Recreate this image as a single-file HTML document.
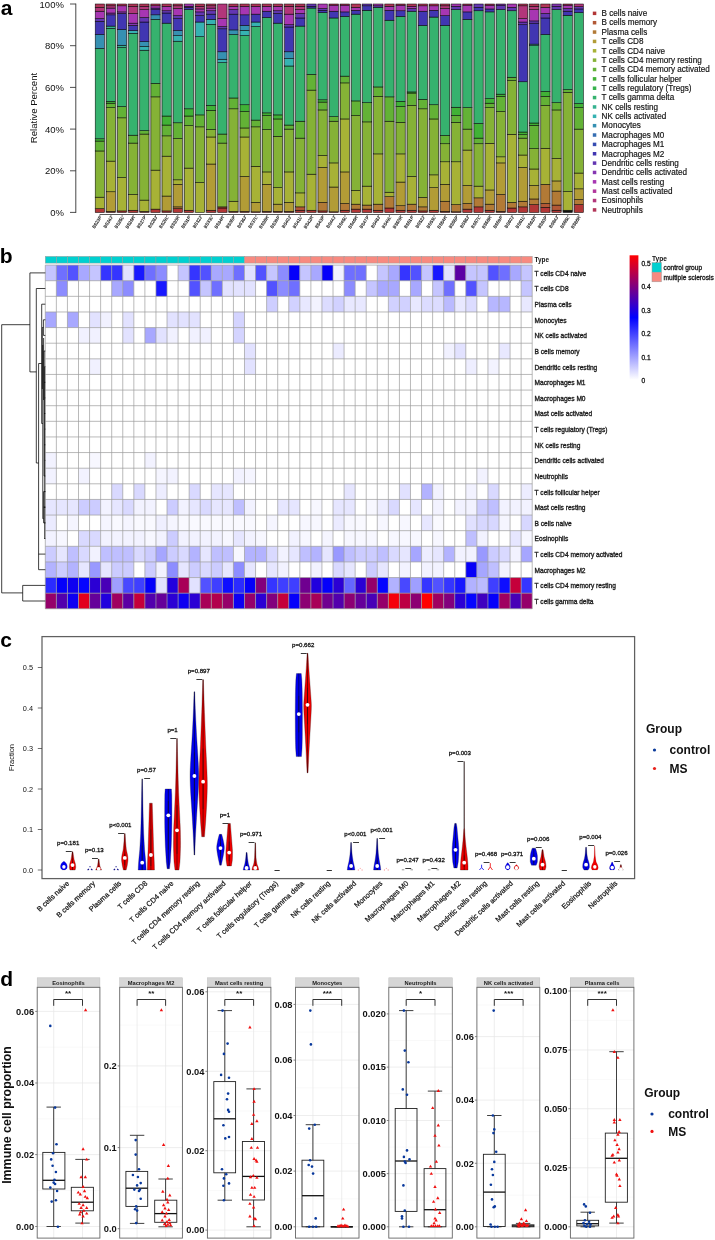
<!DOCTYPE html>
<html lang="en"><head><meta charset="utf-8"><title>Immune cell infiltration figure</title>
<style>html,body{margin:0;padding:0;background:#fff}svg{display:block}</style></head>
<body>
<svg width="715" height="1240" viewBox="0 0 715 1240" font-family="Liberation Sans, sans-serif">
<rect width="715" height="1240" fill="#fff"/>
<g id="pa" font-family="Liberation Sans, sans-serif">
<text x="0.7" y="15.1" font-size="21" font-weight="bold">a</text>
<path d="M75.8 3.6V212.9" stroke="#333" stroke-width="0.9" fill="none"/>
<path d="M70 212.4H75.8" stroke="#222" stroke-width="0.8"/>
<text x="63.9" y="215.9" font-size="9.5" text-anchor="end" fill="#111">0%</text>
<path d="M70 170.8H75.8" stroke="#222" stroke-width="0.8"/>
<text x="63.9" y="174.3" font-size="9.5" text-anchor="end" fill="#111">20%</text>
<path d="M70 129.1H75.8" stroke="#222" stroke-width="0.8"/>
<text x="63.9" y="132.6" font-size="9.5" text-anchor="end" fill="#111">40%</text>
<path d="M70 87.4H75.8" stroke="#222" stroke-width="0.8"/>
<text x="63.9" y="90.9" font-size="9.5" text-anchor="end" fill="#111">60%</text>
<path d="M70 45.7H75.8" stroke="#222" stroke-width="0.8"/>
<text x="63.9" y="49.2" font-size="9.5" text-anchor="end" fill="#111">80%</text>
<path d="M70 4.0H75.8" stroke="#222" stroke-width="0.8"/>
<text x="63.9" y="7.5" font-size="9.5" text-anchor="end" fill="#111">100%</text>
<text transform="translate(36.9,108) rotate(-90)" font-size="9.6" text-anchor="middle" fill="#111">Relative Percent</text>
<rect x="104.60" y="3.8" width="1.54" height="208.9" fill="#c2c2c2"/>
<rect x="95.20" y="208.67" width="9.2" height="3.83" fill="#b23636" stroke="#000" stroke-opacity="0.95" stroke-width="0.55"/>
<rect x="95.20" y="197.17" width="9.2" height="11.50" fill="#a7b236" stroke="#000" stroke-opacity="0.95" stroke-width="0.55"/>
<rect x="95.20" y="150.96" width="9.2" height="46.21" fill="#85b236" stroke="#000" stroke-opacity="0.95" stroke-width="0.55"/>
<rect x="95.20" y="141.05" width="9.2" height="9.92" fill="#63b236" stroke="#000" stroke-opacity="0.95" stroke-width="0.55"/>
<rect x="95.20" y="138.79" width="9.2" height="2.25" fill="#41b236" stroke="#000" stroke-opacity="0.95" stroke-width="0.55"/>
<rect x="95.20" y="48.40" width="9.2" height="90.39" fill="#36b26e" stroke="#000" stroke-opacity="0.95" stroke-width="0.55"/>
<rect x="95.20" y="34.43" width="9.2" height="13.98" fill="#3690b2" stroke="#000" stroke-opacity="0.95" stroke-width="0.55"/>
<rect x="95.20" y="21.36" width="9.2" height="13.07" fill="#4136b2" stroke="#000" stroke-opacity="0.95" stroke-width="0.55"/>
<rect x="95.20" y="18.65" width="9.2" height="2.70" fill="#6336b2" stroke="#000" stroke-opacity="0.95" stroke-width="0.55"/>
<rect x="95.20" y="11.21" width="9.2" height="7.44" fill="#a736b2" stroke="#000" stroke-opacity="0.95" stroke-width="0.55"/>
<rect x="95.20" y="7.38" width="9.2" height="3.83" fill="#b2367a" stroke="#000" stroke-opacity="0.95" stroke-width="0.55"/>
<rect x="95.20" y="4.00" width="9.2" height="3.38" fill="#b23658" stroke="#000" stroke-opacity="0.95" stroke-width="0.55"/>
<rect x="115.74" y="3.8" width="1.54" height="208.9" fill="#c2c2c2"/>
<rect x="106.34" y="211.37" width="9.2" height="1.13" fill="#b23636" stroke="#000" stroke-opacity="0.95" stroke-width="0.55"/>
<rect x="106.34" y="191.76" width="9.2" height="19.61" fill="#b29c36" stroke="#000" stroke-opacity="0.95" stroke-width="0.55"/>
<rect x="106.34" y="161.11" width="9.2" height="30.66" fill="#a7b236" stroke="#000" stroke-opacity="0.95" stroke-width="0.55"/>
<rect x="106.34" y="107.69" width="9.2" height="53.42" fill="#85b236" stroke="#000" stroke-opacity="0.95" stroke-width="0.55"/>
<rect x="106.34" y="103.18" width="9.2" height="4.51" fill="#63b236" stroke="#000" stroke-opacity="0.95" stroke-width="0.55"/>
<rect x="106.34" y="101.38" width="9.2" height="1.80" fill="#41b236" stroke="#000" stroke-opacity="0.95" stroke-width="0.55"/>
<rect x="106.34" y="28.34" width="9.2" height="73.03" fill="#36b26e" stroke="#000" stroke-opacity="0.95" stroke-width="0.55"/>
<rect x="106.34" y="26.09" width="9.2" height="2.25" fill="#36b290" stroke="#000" stroke-opacity="0.95" stroke-width="0.55"/>
<rect x="106.34" y="14.82" width="9.2" height="11.27" fill="#4136b2" stroke="#000" stroke-opacity="0.95" stroke-width="0.55"/>
<rect x="106.34" y="13.02" width="9.2" height="1.80" fill="#8536b2" stroke="#000" stroke-opacity="0.95" stroke-width="0.55"/>
<rect x="106.34" y="8.06" width="9.2" height="4.96" fill="#a736b2" stroke="#000" stroke-opacity="0.95" stroke-width="0.55"/>
<rect x="106.34" y="5.80" width="9.2" height="2.25" fill="#b2367a" stroke="#000" stroke-opacity="0.95" stroke-width="0.55"/>
<rect x="106.34" y="4.00" width="9.2" height="1.80" fill="#b23658" stroke="#000" stroke-opacity="0.95" stroke-width="0.55"/>
<rect x="126.88" y="3.8" width="1.54" height="208.9" fill="#c2c2c2"/>
<rect x="117.48" y="210.92" width="9.2" height="1.58" fill="#b23636" stroke="#000" stroke-opacity="0.95" stroke-width="0.55"/>
<rect x="117.48" y="177.56" width="9.2" height="33.36" fill="#a7b236" stroke="#000" stroke-opacity="0.95" stroke-width="0.55"/>
<rect x="117.48" y="117.83" width="9.2" height="59.73" fill="#85b236" stroke="#000" stroke-opacity="0.95" stroke-width="0.55"/>
<rect x="117.48" y="106.56" width="9.2" height="11.27" fill="#63b236" stroke="#000" stroke-opacity="0.95" stroke-width="0.55"/>
<rect x="117.48" y="47.50" width="9.2" height="59.06" fill="#36b26e" stroke="#000" stroke-opacity="0.95" stroke-width="0.55"/>
<rect x="117.48" y="45.25" width="9.2" height="2.25" fill="#36b290" stroke="#000" stroke-opacity="0.95" stroke-width="0.55"/>
<rect x="117.48" y="29.47" width="9.2" height="15.78" fill="#3690b2" stroke="#000" stroke-opacity="0.95" stroke-width="0.55"/>
<rect x="117.48" y="13.47" width="9.2" height="16.00" fill="#4136b2" stroke="#000" stroke-opacity="0.95" stroke-width="0.55"/>
<rect x="117.48" y="11.89" width="9.2" height="1.58" fill="#8536b2" stroke="#000" stroke-opacity="0.95" stroke-width="0.55"/>
<rect x="117.48" y="5.80" width="9.2" height="6.09" fill="#a736b2" stroke="#000" stroke-opacity="0.95" stroke-width="0.55"/>
<rect x="117.48" y="4.00" width="9.2" height="1.80" fill="#b23658" stroke="#000" stroke-opacity="0.95" stroke-width="0.55"/>
<rect x="138.02" y="3.8" width="1.54" height="208.9" fill="#c2c2c2"/>
<rect x="128.62" y="210.25" width="9.2" height="2.25" fill="#b23636" stroke="#000" stroke-opacity="0.95" stroke-width="0.55"/>
<rect x="128.62" y="194.47" width="9.2" height="15.78" fill="#a7b236" stroke="#000" stroke-opacity="0.95" stroke-width="0.55"/>
<rect x="128.62" y="143.08" width="9.2" height="51.39" fill="#85b236" stroke="#000" stroke-opacity="0.95" stroke-width="0.55"/>
<rect x="128.62" y="135.19" width="9.2" height="7.89" fill="#63b236" stroke="#000" stroke-opacity="0.95" stroke-width="0.55"/>
<rect x="128.62" y="33.30" width="9.2" height="101.88" fill="#36b26e" stroke="#000" stroke-opacity="0.95" stroke-width="0.55"/>
<rect x="128.62" y="30.60" width="9.2" height="2.70" fill="#36b2b2" stroke="#000" stroke-opacity="0.95" stroke-width="0.55"/>
<rect x="128.62" y="25.41" width="9.2" height="5.18" fill="#4136b2" stroke="#000" stroke-opacity="0.95" stroke-width="0.55"/>
<rect x="128.62" y="23.16" width="9.2" height="2.25" fill="#8536b2" stroke="#000" stroke-opacity="0.95" stroke-width="0.55"/>
<rect x="128.62" y="13.47" width="9.2" height="9.69" fill="#a736b2" stroke="#000" stroke-opacity="0.95" stroke-width="0.55"/>
<rect x="128.62" y="6.25" width="9.2" height="7.21" fill="#b2367a" stroke="#000" stroke-opacity="0.95" stroke-width="0.55"/>
<rect x="128.62" y="4.00" width="9.2" height="2.25" fill="#b23658" stroke="#000" stroke-opacity="0.95" stroke-width="0.55"/>
<rect x="149.16" y="3.8" width="1.54" height="208.9" fill="#c2c2c2"/>
<rect x="139.76" y="211.37" width="9.2" height="1.13" fill="#b23636" stroke="#000" stroke-opacity="0.95" stroke-width="0.55"/>
<rect x="139.76" y="200.10" width="9.2" height="11.27" fill="#a7b236" stroke="#000" stroke-opacity="0.95" stroke-width="0.55"/>
<rect x="139.76" y="134.06" width="9.2" height="66.04" fill="#85b236" stroke="#000" stroke-opacity="0.95" stroke-width="0.55"/>
<rect x="139.76" y="130.68" width="9.2" height="3.38" fill="#63b236" stroke="#000" stroke-opacity="0.95" stroke-width="0.55"/>
<rect x="139.76" y="50.21" width="9.2" height="80.47" fill="#36b26e" stroke="#000" stroke-opacity="0.95" stroke-width="0.55"/>
<rect x="139.76" y="46.38" width="9.2" height="3.83" fill="#36b2b2" stroke="#000" stroke-opacity="0.95" stroke-width="0.55"/>
<rect x="139.76" y="41.64" width="9.2" height="4.73" fill="#3690b2" stroke="#000" stroke-opacity="0.95" stroke-width="0.55"/>
<rect x="139.76" y="22.03" width="9.2" height="19.61" fill="#4136b2" stroke="#000" stroke-opacity="0.95" stroke-width="0.55"/>
<rect x="139.76" y="17.52" width="9.2" height="4.51" fill="#6336b2" stroke="#000" stroke-opacity="0.95" stroke-width="0.55"/>
<rect x="139.76" y="9.64" width="9.2" height="7.89" fill="#a736b2" stroke="#000" stroke-opacity="0.95" stroke-width="0.55"/>
<rect x="139.76" y="6.25" width="9.2" height="3.38" fill="#b2367a" stroke="#000" stroke-opacity="0.95" stroke-width="0.55"/>
<rect x="139.76" y="4.00" width="9.2" height="2.25" fill="#b23658" stroke="#000" stroke-opacity="0.95" stroke-width="0.55"/>
<rect x="160.30" y="3.8" width="1.54" height="208.9" fill="#c2c2c2"/>
<rect x="150.90" y="209.12" width="9.2" height="3.38" fill="#b23636" stroke="#000" stroke-opacity="0.95" stroke-width="0.55"/>
<rect x="150.90" y="170.12" width="9.2" height="39.00" fill="#a7b236" stroke="#000" stroke-opacity="0.95" stroke-width="0.55"/>
<rect x="150.90" y="96.87" width="9.2" height="73.26" fill="#85b236" stroke="#000" stroke-opacity="0.95" stroke-width="0.55"/>
<rect x="150.90" y="83.34" width="9.2" height="13.52" fill="#63b236" stroke="#000" stroke-opacity="0.95" stroke-width="0.55"/>
<rect x="150.90" y="19.33" width="9.2" height="64.02" fill="#36b26e" stroke="#000" stroke-opacity="0.95" stroke-width="0.55"/>
<rect x="150.90" y="14.82" width="9.2" height="4.51" fill="#3690b2" stroke="#000" stroke-opacity="0.95" stroke-width="0.55"/>
<rect x="150.90" y="9.64" width="9.2" height="5.18" fill="#4136b2" stroke="#000" stroke-opacity="0.95" stroke-width="0.55"/>
<rect x="150.90" y="8.06" width="9.2" height="1.58" fill="#6336b2" stroke="#000" stroke-opacity="0.95" stroke-width="0.55"/>
<rect x="150.90" y="5.80" width="9.2" height="2.25" fill="#a736b2" stroke="#000" stroke-opacity="0.95" stroke-width="0.55"/>
<rect x="150.90" y="4.00" width="9.2" height="1.80" fill="#b23658" stroke="#000" stroke-opacity="0.95" stroke-width="0.55"/>
<rect x="171.44" y="3.8" width="1.54" height="208.9" fill="#c2c2c2"/>
<rect x="162.04" y="210.92" width="9.2" height="1.58" fill="#b23636" stroke="#000" stroke-opacity="0.95" stroke-width="0.55"/>
<rect x="162.04" y="196.05" width="9.2" height="14.88" fill="#b29c36" stroke="#000" stroke-opacity="0.95" stroke-width="0.55"/>
<rect x="162.04" y="156.15" width="9.2" height="39.90" fill="#a7b236" stroke="#000" stroke-opacity="0.95" stroke-width="0.55"/>
<rect x="162.04" y="135.86" width="9.2" height="20.29" fill="#85b236" stroke="#000" stroke-opacity="0.95" stroke-width="0.55"/>
<rect x="162.04" y="125.04" width="9.2" height="10.82" fill="#63b236" stroke="#000" stroke-opacity="0.95" stroke-width="0.55"/>
<rect x="162.04" y="116.03" width="9.2" height="9.02" fill="#41b236" stroke="#000" stroke-opacity="0.95" stroke-width="0.55"/>
<rect x="162.04" y="23.16" width="9.2" height="92.87" fill="#36b26e" stroke="#000" stroke-opacity="0.95" stroke-width="0.55"/>
<rect x="162.04" y="13.02" width="9.2" height="10.14" fill="#4136b2" stroke="#000" stroke-opacity="0.95" stroke-width="0.55"/>
<rect x="162.04" y="10.76" width="9.2" height="2.25" fill="#6336b2" stroke="#000" stroke-opacity="0.95" stroke-width="0.55"/>
<rect x="162.04" y="6.25" width="9.2" height="4.51" fill="#a736b2" stroke="#000" stroke-opacity="0.95" stroke-width="0.55"/>
<rect x="162.04" y="4.00" width="9.2" height="2.25" fill="#b23658" stroke="#000" stroke-opacity="0.95" stroke-width="0.55"/>
<rect x="182.58" y="3.8" width="1.54" height="208.9" fill="#c2c2c2"/>
<rect x="173.18" y="208.67" width="9.2" height="3.83" fill="#b23636" stroke="#000" stroke-opacity="0.95" stroke-width="0.55"/>
<rect x="173.18" y="206.86" width="9.2" height="1.80" fill="#b27a36" stroke="#000" stroke-opacity="0.95" stroke-width="0.55"/>
<rect x="173.18" y="184.32" width="9.2" height="22.54" fill="#b29c36" stroke="#000" stroke-opacity="0.95" stroke-width="0.55"/>
<rect x="173.18" y="179.82" width="9.2" height="4.51" fill="#a7b236" stroke="#000" stroke-opacity="0.95" stroke-width="0.55"/>
<rect x="173.18" y="138.57" width="9.2" height="41.25" fill="#85b236" stroke="#000" stroke-opacity="0.95" stroke-width="0.55"/>
<rect x="173.18" y="122.79" width="9.2" height="15.78" fill="#63b236" stroke="#000" stroke-opacity="0.95" stroke-width="0.55"/>
<rect x="173.18" y="41.19" width="9.2" height="81.60" fill="#36b26e" stroke="#000" stroke-opacity="0.95" stroke-width="0.55"/>
<rect x="173.18" y="35.56" width="9.2" height="5.64" fill="#36b2b2" stroke="#000" stroke-opacity="0.95" stroke-width="0.55"/>
<rect x="173.18" y="30.60" width="9.2" height="4.96" fill="#3690b2" stroke="#000" stroke-opacity="0.95" stroke-width="0.55"/>
<rect x="173.18" y="18.65" width="9.2" height="11.95" fill="#4136b2" stroke="#000" stroke-opacity="0.95" stroke-width="0.55"/>
<rect x="173.18" y="15.72" width="9.2" height="2.93" fill="#6336b2" stroke="#000" stroke-opacity="0.95" stroke-width="0.55"/>
<rect x="173.18" y="8.51" width="9.2" height="7.21" fill="#a736b2" stroke="#000" stroke-opacity="0.95" stroke-width="0.55"/>
<rect x="173.18" y="5.80" width="9.2" height="2.70" fill="#b2367a" stroke="#000" stroke-opacity="0.95" stroke-width="0.55"/>
<rect x="173.18" y="4.00" width="9.2" height="1.80" fill="#b23658" stroke="#000" stroke-opacity="0.95" stroke-width="0.55"/>
<rect x="193.72" y="3.8" width="1.54" height="208.9" fill="#c2c2c2"/>
<rect x="184.32" y="210.25" width="9.2" height="2.25" fill="#b23636" stroke="#000" stroke-opacity="0.95" stroke-width="0.55"/>
<rect x="184.32" y="168.10" width="9.2" height="42.15" fill="#a7b236" stroke="#000" stroke-opacity="0.95" stroke-width="0.55"/>
<rect x="184.32" y="125.72" width="9.2" height="42.38" fill="#85b236" stroke="#000" stroke-opacity="0.95" stroke-width="0.55"/>
<rect x="184.32" y="116.03" width="9.2" height="9.69" fill="#63b236" stroke="#000" stroke-opacity="0.95" stroke-width="0.55"/>
<rect x="184.32" y="108.81" width="9.2" height="7.21" fill="#41b236" stroke="#000" stroke-opacity="0.95" stroke-width="0.55"/>
<rect x="184.32" y="9.64" width="9.2" height="99.18" fill="#36b26e" stroke="#000" stroke-opacity="0.95" stroke-width="0.55"/>
<rect x="184.32" y="7.38" width="9.2" height="2.25" fill="#4136b2" stroke="#000" stroke-opacity="0.95" stroke-width="0.55"/>
<rect x="184.32" y="6.25" width="9.2" height="1.13" fill="#8536b2" stroke="#000" stroke-opacity="0.95" stroke-width="0.55"/>
<rect x="184.32" y="4.00" width="9.2" height="2.25" fill="#a736b2" stroke="#000" stroke-opacity="0.95" stroke-width="0.55"/>
<rect x="204.86" y="3.8" width="1.54" height="208.9" fill="#c2c2c2"/>
<rect x="195.46" y="182.52" width="9.2" height="29.98" fill="#a7b236" stroke="#000" stroke-opacity="0.95" stroke-width="0.55"/>
<rect x="195.46" y="126.85" width="9.2" height="55.68" fill="#85b236" stroke="#000" stroke-opacity="0.95" stroke-width="0.55"/>
<rect x="195.46" y="114.90" width="9.2" height="11.95" fill="#63b236" stroke="#000" stroke-opacity="0.95" stroke-width="0.55"/>
<rect x="195.46" y="36.68" width="9.2" height="78.22" fill="#36b26e" stroke="#000" stroke-opacity="0.95" stroke-width="0.55"/>
<rect x="195.46" y="22.03" width="9.2" height="14.65" fill="#36b2b2" stroke="#000" stroke-opacity="0.95" stroke-width="0.55"/>
<rect x="195.46" y="15.72" width="9.2" height="6.31" fill="#4136b2" stroke="#000" stroke-opacity="0.95" stroke-width="0.55"/>
<rect x="195.46" y="11.89" width="9.2" height="3.83" fill="#6336b2" stroke="#000" stroke-opacity="0.95" stroke-width="0.55"/>
<rect x="195.46" y="8.96" width="9.2" height="2.93" fill="#a736b2" stroke="#000" stroke-opacity="0.95" stroke-width="0.55"/>
<rect x="195.46" y="6.25" width="9.2" height="2.70" fill="#b2367a" stroke="#000" stroke-opacity="0.95" stroke-width="0.55"/>
<rect x="195.46" y="4.00" width="9.2" height="2.25" fill="#b23658" stroke="#000" stroke-opacity="0.95" stroke-width="0.55"/>
<rect x="216.00" y="3.8" width="1.54" height="208.9" fill="#c2c2c2"/>
<rect x="206.60" y="210.25" width="9.2" height="2.25" fill="#b23636" stroke="#000" stroke-opacity="0.95" stroke-width="0.55"/>
<rect x="206.60" y="164.04" width="9.2" height="46.21" fill="#b29c36" stroke="#000" stroke-opacity="0.95" stroke-width="0.55"/>
<rect x="206.60" y="136.99" width="9.2" height="27.05" fill="#a7b236" stroke="#000" stroke-opacity="0.95" stroke-width="0.55"/>
<rect x="206.60" y="129.55" width="9.2" height="7.44" fill="#85b236" stroke="#000" stroke-opacity="0.95" stroke-width="0.55"/>
<rect x="206.60" y="110.39" width="9.2" height="19.16" fill="#63b236" stroke="#000" stroke-opacity="0.95" stroke-width="0.55"/>
<rect x="206.60" y="105.43" width="9.2" height="4.96" fill="#41b236" stroke="#000" stroke-opacity="0.95" stroke-width="0.55"/>
<rect x="206.60" y="24.29" width="9.2" height="81.15" fill="#36b26e" stroke="#000" stroke-opacity="0.95" stroke-width="0.55"/>
<rect x="206.60" y="19.33" width="9.2" height="4.96" fill="#36b2b2" stroke="#000" stroke-opacity="0.95" stroke-width="0.55"/>
<rect x="206.60" y="14.14" width="9.2" height="5.18" fill="#4136b2" stroke="#000" stroke-opacity="0.95" stroke-width="0.55"/>
<rect x="206.60" y="10.76" width="9.2" height="3.38" fill="#6336b2" stroke="#000" stroke-opacity="0.95" stroke-width="0.55"/>
<rect x="206.60" y="8.06" width="9.2" height="2.70" fill="#a736b2" stroke="#000" stroke-opacity="0.95" stroke-width="0.55"/>
<rect x="206.60" y="5.80" width="9.2" height="2.25" fill="#b2367a" stroke="#000" stroke-opacity="0.95" stroke-width="0.55"/>
<rect x="206.60" y="4.00" width="9.2" height="1.80" fill="#b23658" stroke="#000" stroke-opacity="0.95" stroke-width="0.55"/>
<rect x="227.14" y="3.8" width="1.54" height="208.9" fill="#c2c2c2"/>
<rect x="217.74" y="207.99" width="9.2" height="4.51" fill="#b23636" stroke="#000" stroke-opacity="0.95" stroke-width="0.55"/>
<rect x="217.74" y="206.86" width="9.2" height="1.13" fill="#b25836" stroke="#000" stroke-opacity="0.95" stroke-width="0.55"/>
<rect x="217.74" y="143.08" width="9.2" height="63.79" fill="#85b236" stroke="#000" stroke-opacity="0.95" stroke-width="0.55"/>
<rect x="217.74" y="134.06" width="9.2" height="9.02" fill="#63b236" stroke="#000" stroke-opacity="0.95" stroke-width="0.55"/>
<rect x="217.74" y="62.61" width="9.2" height="71.45" fill="#36b26e" stroke="#000" stroke-opacity="0.95" stroke-width="0.55"/>
<rect x="217.74" y="59.22" width="9.2" height="3.38" fill="#36b2b2" stroke="#000" stroke-opacity="0.95" stroke-width="0.55"/>
<rect x="217.74" y="51.79" width="9.2" height="7.44" fill="#3690b2" stroke="#000" stroke-opacity="0.95" stroke-width="0.55"/>
<rect x="217.74" y="28.79" width="9.2" height="22.99" fill="#4136b2" stroke="#000" stroke-opacity="0.95" stroke-width="0.55"/>
<rect x="217.74" y="26.54" width="9.2" height="2.25" fill="#6336b2" stroke="#000" stroke-opacity="0.95" stroke-width="0.55"/>
<rect x="217.74" y="18.65" width="9.2" height="7.89" fill="#a736b2" stroke="#000" stroke-opacity="0.95" stroke-width="0.55"/>
<rect x="217.74" y="4.00" width="9.2" height="14.65" fill="#b2367a" stroke="#000" stroke-opacity="0.95" stroke-width="0.55"/>
<rect x="238.28" y="3.8" width="1.54" height="208.9" fill="#c2c2c2"/>
<rect x="228.88" y="211.37" width="9.2" height="1.13" fill="#b23636" stroke="#000" stroke-opacity="0.95" stroke-width="0.55"/>
<rect x="228.88" y="201.23" width="9.2" height="10.14" fill="#a7b236" stroke="#000" stroke-opacity="0.95" stroke-width="0.55"/>
<rect x="228.88" y="108.81" width="9.2" height="92.42" fill="#85b236" stroke="#000" stroke-opacity="0.95" stroke-width="0.55"/>
<rect x="228.88" y="97.99" width="9.2" height="10.82" fill="#63b236" stroke="#000" stroke-opacity="0.95" stroke-width="0.55"/>
<rect x="228.88" y="34.43" width="9.2" height="63.56" fill="#36b26e" stroke="#000" stroke-opacity="0.95" stroke-width="0.55"/>
<rect x="228.88" y="29.92" width="9.2" height="4.51" fill="#3690b2" stroke="#000" stroke-opacity="0.95" stroke-width="0.55"/>
<rect x="228.88" y="14.14" width="9.2" height="15.78" fill="#4136b2" stroke="#000" stroke-opacity="0.95" stroke-width="0.55"/>
<rect x="228.88" y="9.64" width="9.2" height="4.51" fill="#6336b2" stroke="#000" stroke-opacity="0.95" stroke-width="0.55"/>
<rect x="228.88" y="6.25" width="9.2" height="3.38" fill="#a736b2" stroke="#000" stroke-opacity="0.95" stroke-width="0.55"/>
<rect x="228.88" y="4.00" width="9.2" height="2.25" fill="#b23658" stroke="#000" stroke-opacity="0.95" stroke-width="0.55"/>
<rect x="249.42" y="3.8" width="1.54" height="208.9" fill="#c2c2c2"/>
<rect x="240.02" y="211.37" width="9.2" height="1.13" fill="#b23636" stroke="#000" stroke-opacity="0.95" stroke-width="0.55"/>
<rect x="240.02" y="176.44" width="9.2" height="34.94" fill="#b29c36" stroke="#000" stroke-opacity="0.95" stroke-width="0.55"/>
<rect x="240.02" y="136.99" width="9.2" height="39.45" fill="#a7b236" stroke="#000" stroke-opacity="0.95" stroke-width="0.55"/>
<rect x="240.02" y="127.97" width="9.2" height="9.02" fill="#85b236" stroke="#000" stroke-opacity="0.95" stroke-width="0.55"/>
<rect x="240.02" y="111.52" width="9.2" height="16.45" fill="#63b236" stroke="#000" stroke-opacity="0.95" stroke-width="0.55"/>
<rect x="240.02" y="104.76" width="9.2" height="6.76" fill="#41b236" stroke="#000" stroke-opacity="0.95" stroke-width="0.55"/>
<rect x="240.02" y="35.56" width="9.2" height="69.20" fill="#36b26e" stroke="#000" stroke-opacity="0.95" stroke-width="0.55"/>
<rect x="240.02" y="30.37" width="9.2" height="5.18" fill="#36b2b2" stroke="#000" stroke-opacity="0.95" stroke-width="0.55"/>
<rect x="240.02" y="25.41" width="9.2" height="4.96" fill="#3690b2" stroke="#000" stroke-opacity="0.95" stroke-width="0.55"/>
<rect x="240.02" y="14.82" width="9.2" height="10.59" fill="#4136b2" stroke="#000" stroke-opacity="0.95" stroke-width="0.55"/>
<rect x="240.02" y="6.25" width="9.2" height="8.57" fill="#a736b2" stroke="#000" stroke-opacity="0.95" stroke-width="0.55"/>
<rect x="240.02" y="4.00" width="9.2" height="2.25" fill="#b23658" stroke="#000" stroke-opacity="0.95" stroke-width="0.55"/>
<rect x="260.56" y="3.8" width="1.54" height="208.9" fill="#c2c2c2"/>
<rect x="251.16" y="211.82" width="9.2" height="0.68" fill="#b23636" stroke="#000" stroke-opacity="0.95" stroke-width="0.55"/>
<rect x="251.16" y="202.36" width="9.2" height="9.47" fill="#b29c36" stroke="#000" stroke-opacity="0.95" stroke-width="0.55"/>
<rect x="251.16" y="166.29" width="9.2" height="36.06" fill="#a7b236" stroke="#000" stroke-opacity="0.95" stroke-width="0.55"/>
<rect x="251.16" y="126.85" width="9.2" height="39.45" fill="#85b236" stroke="#000" stroke-opacity="0.95" stroke-width="0.55"/>
<rect x="251.16" y="120.08" width="9.2" height="6.76" fill="#63b236" stroke="#000" stroke-opacity="0.95" stroke-width="0.55"/>
<rect x="251.16" y="26.54" width="9.2" height="93.54" fill="#36b26e" stroke="#000" stroke-opacity="0.95" stroke-width="0.55"/>
<rect x="251.16" y="22.03" width="9.2" height="4.51" fill="#36b2b2" stroke="#000" stroke-opacity="0.95" stroke-width="0.55"/>
<rect x="251.16" y="14.14" width="9.2" height="7.89" fill="#4136b2" stroke="#000" stroke-opacity="0.95" stroke-width="0.55"/>
<rect x="251.16" y="6.25" width="9.2" height="7.89" fill="#a736b2" stroke="#000" stroke-opacity="0.95" stroke-width="0.55"/>
<rect x="251.16" y="4.00" width="9.2" height="2.25" fill="#b23658" stroke="#000" stroke-opacity="0.95" stroke-width="0.55"/>
<rect x="271.70" y="3.8" width="1.54" height="208.9" fill="#c2c2c2"/>
<rect x="262.30" y="211.37" width="9.2" height="1.13" fill="#b23636" stroke="#000" stroke-opacity="0.95" stroke-width="0.55"/>
<rect x="262.30" y="184.32" width="9.2" height="27.05" fill="#b29c36" stroke="#000" stroke-opacity="0.95" stroke-width="0.55"/>
<rect x="262.30" y="171.93" width="9.2" height="12.40" fill="#a7b236" stroke="#000" stroke-opacity="0.95" stroke-width="0.55"/>
<rect x="262.30" y="129.55" width="9.2" height="42.38" fill="#85b236" stroke="#000" stroke-opacity="0.95" stroke-width="0.55"/>
<rect x="262.30" y="115.58" width="9.2" height="13.98" fill="#63b236" stroke="#000" stroke-opacity="0.95" stroke-width="0.55"/>
<rect x="262.30" y="112.87" width="9.2" height="2.70" fill="#41b236" stroke="#000" stroke-opacity="0.95" stroke-width="0.55"/>
<rect x="262.30" y="17.52" width="9.2" height="95.35" fill="#36b26e" stroke="#000" stroke-opacity="0.95" stroke-width="0.55"/>
<rect x="262.30" y="11.21" width="9.2" height="6.31" fill="#4136b2" stroke="#000" stroke-opacity="0.95" stroke-width="0.55"/>
<rect x="262.30" y="6.25" width="9.2" height="4.96" fill="#a736b2" stroke="#000" stroke-opacity="0.95" stroke-width="0.55"/>
<rect x="262.30" y="4.00" width="9.2" height="2.25" fill="#b23658" stroke="#000" stroke-opacity="0.95" stroke-width="0.55"/>
<rect x="282.84" y="3.8" width="1.54" height="208.9" fill="#c2c2c2"/>
<rect x="273.44" y="211.37" width="9.2" height="1.13" fill="#b23636" stroke="#000" stroke-opacity="0.95" stroke-width="0.55"/>
<rect x="273.44" y="204.16" width="9.2" height="7.21" fill="#b29c36" stroke="#000" stroke-opacity="0.95" stroke-width="0.55"/>
<rect x="273.44" y="187.71" width="9.2" height="16.45" fill="#a7b236" stroke="#000" stroke-opacity="0.95" stroke-width="0.55"/>
<rect x="273.44" y="136.31" width="9.2" height="51.39" fill="#85b236" stroke="#000" stroke-opacity="0.95" stroke-width="0.55"/>
<rect x="273.44" y="118.96" width="9.2" height="17.36" fill="#63b236" stroke="#000" stroke-opacity="0.95" stroke-width="0.55"/>
<rect x="273.44" y="114.90" width="9.2" height="4.06" fill="#41b236" stroke="#000" stroke-opacity="0.95" stroke-width="0.55"/>
<rect x="273.44" y="23.16" width="9.2" height="91.74" fill="#36b26e" stroke="#000" stroke-opacity="0.95" stroke-width="0.55"/>
<rect x="273.44" y="13.47" width="9.2" height="9.69" fill="#4136b2" stroke="#000" stroke-opacity="0.95" stroke-width="0.55"/>
<rect x="273.44" y="10.76" width="9.2" height="2.70" fill="#6336b2" stroke="#000" stroke-opacity="0.95" stroke-width="0.55"/>
<rect x="273.44" y="6.25" width="9.2" height="4.51" fill="#a736b2" stroke="#000" stroke-opacity="0.95" stroke-width="0.55"/>
<rect x="273.44" y="4.00" width="9.2" height="2.25" fill="#b23658" stroke="#000" stroke-opacity="0.95" stroke-width="0.55"/>
<rect x="293.98" y="3.8" width="1.54" height="208.9" fill="#c2c2c2"/>
<rect x="284.58" y="211.37" width="9.2" height="1.13" fill="#b23636" stroke="#000" stroke-opacity="0.95" stroke-width="0.55"/>
<rect x="284.58" y="202.36" width="9.2" height="9.02" fill="#b29c36" stroke="#000" stroke-opacity="0.95" stroke-width="0.55"/>
<rect x="284.58" y="171.93" width="9.2" height="30.43" fill="#a7b236" stroke="#000" stroke-opacity="0.95" stroke-width="0.55"/>
<rect x="284.58" y="129.10" width="9.2" height="42.83" fill="#85b236" stroke="#000" stroke-opacity="0.95" stroke-width="0.55"/>
<rect x="284.58" y="125.04" width="9.2" height="4.06" fill="#63b236" stroke="#000" stroke-opacity="0.95" stroke-width="0.55"/>
<rect x="284.58" y="65.99" width="9.2" height="59.06" fill="#36b26e" stroke="#000" stroke-opacity="0.95" stroke-width="0.55"/>
<rect x="284.58" y="58.55" width="9.2" height="7.44" fill="#36b2b2" stroke="#000" stroke-opacity="0.95" stroke-width="0.55"/>
<rect x="284.58" y="51.79" width="9.2" height="6.76" fill="#3690b2" stroke="#000" stroke-opacity="0.95" stroke-width="0.55"/>
<rect x="284.58" y="26.99" width="9.2" height="24.79" fill="#4136b2" stroke="#000" stroke-opacity="0.95" stroke-width="0.55"/>
<rect x="284.58" y="24.74" width="9.2" height="2.25" fill="#6336b2" stroke="#000" stroke-opacity="0.95" stroke-width="0.55"/>
<rect x="284.58" y="14.14" width="9.2" height="10.59" fill="#a736b2" stroke="#000" stroke-opacity="0.95" stroke-width="0.55"/>
<rect x="284.58" y="6.25" width="9.2" height="7.89" fill="#b2367a" stroke="#000" stroke-opacity="0.95" stroke-width="0.55"/>
<rect x="284.58" y="4.00" width="9.2" height="2.25" fill="#b23658" stroke="#000" stroke-opacity="0.95" stroke-width="0.55"/>
<rect x="305.12" y="3.8" width="1.54" height="208.9" fill="#c2c2c2"/>
<rect x="295.72" y="210.25" width="9.2" height="2.25" fill="#b23636" stroke="#000" stroke-opacity="0.95" stroke-width="0.55"/>
<rect x="295.72" y="206.86" width="9.2" height="3.38" fill="#b25836" stroke="#000" stroke-opacity="0.95" stroke-width="0.55"/>
<rect x="295.72" y="192.89" width="9.2" height="13.98" fill="#a7b236" stroke="#000" stroke-opacity="0.95" stroke-width="0.55"/>
<rect x="295.72" y="138.12" width="9.2" height="54.77" fill="#85b236" stroke="#000" stroke-opacity="0.95" stroke-width="0.55"/>
<rect x="295.72" y="121.21" width="9.2" height="16.91" fill="#63b236" stroke="#000" stroke-opacity="0.95" stroke-width="0.55"/>
<rect x="295.72" y="26.09" width="9.2" height="95.12" fill="#36b26e" stroke="#000" stroke-opacity="0.95" stroke-width="0.55"/>
<rect x="295.72" y="17.98" width="9.2" height="8.11" fill="#4136b2" stroke="#000" stroke-opacity="0.95" stroke-width="0.55"/>
<rect x="295.72" y="13.47" width="9.2" height="4.51" fill="#6336b2" stroke="#000" stroke-opacity="0.95" stroke-width="0.55"/>
<rect x="295.72" y="9.64" width="9.2" height="3.83" fill="#a736b2" stroke="#000" stroke-opacity="0.95" stroke-width="0.55"/>
<rect x="295.72" y="6.25" width="9.2" height="3.38" fill="#b2367a" stroke="#000" stroke-opacity="0.95" stroke-width="0.55"/>
<rect x="295.72" y="4.00" width="9.2" height="2.25" fill="#b23658" stroke="#000" stroke-opacity="0.95" stroke-width="0.55"/>
<rect x="316.26" y="3.8" width="1.54" height="208.9" fill="#c2c2c2"/>
<rect x="306.86" y="210.25" width="9.2" height="2.25" fill="#b23636" stroke="#000" stroke-opacity="0.95" stroke-width="0.55"/>
<rect x="306.86" y="174.18" width="9.2" height="36.06" fill="#a7b236" stroke="#000" stroke-opacity="0.95" stroke-width="0.55"/>
<rect x="306.86" y="90.10" width="9.2" height="84.08" fill="#85b236" stroke="#000" stroke-opacity="0.95" stroke-width="0.55"/>
<rect x="306.86" y="74.33" width="9.2" height="15.78" fill="#63b236" stroke="#000" stroke-opacity="0.95" stroke-width="0.55"/>
<rect x="306.86" y="8.06" width="9.2" height="66.27" fill="#36b26e" stroke="#000" stroke-opacity="0.95" stroke-width="0.55"/>
<rect x="306.86" y="6.25" width="9.2" height="1.80" fill="#4136b2" stroke="#000" stroke-opacity="0.95" stroke-width="0.55"/>
<rect x="306.86" y="4.00" width="9.2" height="2.25" fill="#6336b2" stroke="#000" stroke-opacity="0.95" stroke-width="0.55"/>
<rect x="327.40" y="3.8" width="1.54" height="208.9" fill="#c2c2c2"/>
<rect x="318.00" y="210.92" width="9.2" height="1.58" fill="#b23636" stroke="#000" stroke-opacity="0.95" stroke-width="0.55"/>
<rect x="318.00" y="202.36" width="9.2" height="8.57" fill="#b27a36" stroke="#000" stroke-opacity="0.95" stroke-width="0.55"/>
<rect x="318.00" y="167.42" width="9.2" height="34.94" fill="#b29c36" stroke="#000" stroke-opacity="0.95" stroke-width="0.55"/>
<rect x="318.00" y="155.47" width="9.2" height="11.95" fill="#a7b236" stroke="#000" stroke-opacity="0.95" stroke-width="0.55"/>
<rect x="318.00" y="109.94" width="9.2" height="45.53" fill="#85b236" stroke="#000" stroke-opacity="0.95" stroke-width="0.55"/>
<rect x="318.00" y="102.05" width="9.2" height="7.89" fill="#63b236" stroke="#000" stroke-opacity="0.95" stroke-width="0.55"/>
<rect x="318.00" y="99.80" width="9.2" height="2.25" fill="#41b236" stroke="#000" stroke-opacity="0.95" stroke-width="0.55"/>
<rect x="318.00" y="12.57" width="9.2" height="87.23" fill="#36b26e" stroke="#000" stroke-opacity="0.95" stroke-width="0.55"/>
<rect x="318.00" y="10.31" width="9.2" height="2.25" fill="#4136b2" stroke="#000" stroke-opacity="0.95" stroke-width="0.55"/>
<rect x="318.00" y="8.51" width="9.2" height="1.80" fill="#6336b2" stroke="#000" stroke-opacity="0.95" stroke-width="0.55"/>
<rect x="318.00" y="4.00" width="9.2" height="4.51" fill="#a736b2" stroke="#000" stroke-opacity="0.95" stroke-width="0.55"/>
<rect x="338.54" y="3.8" width="1.54" height="208.9" fill="#c2c2c2"/>
<rect x="329.14" y="211.82" width="9.2" height="0.68" fill="#b23636" stroke="#000" stroke-opacity="0.95" stroke-width="0.55"/>
<rect x="329.14" y="187.03" width="9.2" height="24.79" fill="#b29c36" stroke="#000" stroke-opacity="0.95" stroke-width="0.55"/>
<rect x="329.14" y="162.91" width="9.2" height="24.12" fill="#a7b236" stroke="#000" stroke-opacity="0.95" stroke-width="0.55"/>
<rect x="329.14" y="121.21" width="9.2" height="41.70" fill="#85b236" stroke="#000" stroke-opacity="0.95" stroke-width="0.55"/>
<rect x="329.14" y="116.70" width="9.2" height="4.51" fill="#63b236" stroke="#000" stroke-opacity="0.95" stroke-width="0.55"/>
<rect x="329.14" y="17.98" width="9.2" height="98.73" fill="#36b26e" stroke="#000" stroke-opacity="0.95" stroke-width="0.55"/>
<rect x="329.14" y="11.21" width="9.2" height="6.76" fill="#4136b2" stroke="#000" stroke-opacity="0.95" stroke-width="0.55"/>
<rect x="329.14" y="5.13" width="9.2" height="6.09" fill="#a736b2" stroke="#000" stroke-opacity="0.95" stroke-width="0.55"/>
<rect x="329.14" y="4.00" width="9.2" height="1.13" fill="#b23658" stroke="#000" stroke-opacity="0.95" stroke-width="0.55"/>
<rect x="349.68" y="3.8" width="1.54" height="208.9" fill="#c2c2c2"/>
<rect x="340.28" y="210.25" width="9.2" height="2.25" fill="#b23636" stroke="#000" stroke-opacity="0.95" stroke-width="0.55"/>
<rect x="340.28" y="203.48" width="9.2" height="6.76" fill="#b27a36" stroke="#000" stroke-opacity="0.95" stroke-width="0.55"/>
<rect x="340.28" y="171.93" width="9.2" height="31.56" fill="#b29c36" stroke="#000" stroke-opacity="0.95" stroke-width="0.55"/>
<rect x="340.28" y="118.96" width="9.2" height="52.97" fill="#a7b236" stroke="#000" stroke-opacity="0.95" stroke-width="0.55"/>
<rect x="340.28" y="82.89" width="9.2" height="36.06" fill="#85b236" stroke="#000" stroke-opacity="0.95" stroke-width="0.55"/>
<rect x="340.28" y="76.13" width="9.2" height="6.76" fill="#63b236" stroke="#000" stroke-opacity="0.95" stroke-width="0.55"/>
<rect x="340.28" y="16.40" width="9.2" height="59.73" fill="#36b26e" stroke="#000" stroke-opacity="0.95" stroke-width="0.55"/>
<rect x="340.28" y="11.89" width="9.2" height="4.51" fill="#4136b2" stroke="#000" stroke-opacity="0.95" stroke-width="0.55"/>
<rect x="340.28" y="5.13" width="9.2" height="6.76" fill="#a736b2" stroke="#000" stroke-opacity="0.95" stroke-width="0.55"/>
<rect x="340.28" y="4.00" width="9.2" height="1.13" fill="#b23658" stroke="#000" stroke-opacity="0.95" stroke-width="0.55"/>
<rect x="360.82" y="3.8" width="1.54" height="208.9" fill="#c2c2c2"/>
<rect x="351.42" y="209.12" width="9.2" height="3.38" fill="#b23636" stroke="#000" stroke-opacity="0.95" stroke-width="0.55"/>
<rect x="351.42" y="204.16" width="9.2" height="4.96" fill="#b27a36" stroke="#000" stroke-opacity="0.95" stroke-width="0.55"/>
<rect x="351.42" y="190.41" width="9.2" height="13.75" fill="#a7b236" stroke="#000" stroke-opacity="0.95" stroke-width="0.55"/>
<rect x="351.42" y="115.58" width="9.2" height="74.83" fill="#85b236" stroke="#000" stroke-opacity="0.95" stroke-width="0.55"/>
<rect x="351.42" y="100.92" width="9.2" height="14.65" fill="#63b236" stroke="#000" stroke-opacity="0.95" stroke-width="0.55"/>
<rect x="351.42" y="14.14" width="9.2" height="86.78" fill="#36b26e" stroke="#000" stroke-opacity="0.95" stroke-width="0.55"/>
<rect x="351.42" y="10.31" width="9.2" height="3.83" fill="#4136b2" stroke="#000" stroke-opacity="0.95" stroke-width="0.55"/>
<rect x="351.42" y="7.38" width="9.2" height="2.93" fill="#a736b2" stroke="#000" stroke-opacity="0.95" stroke-width="0.55"/>
<rect x="351.42" y="4.00" width="9.2" height="3.38" fill="#b23658" stroke="#000" stroke-opacity="0.95" stroke-width="0.55"/>
<rect x="371.96" y="3.8" width="1.54" height="208.9" fill="#c2c2c2"/>
<rect x="362.56" y="209.12" width="9.2" height="3.38" fill="#b23636" stroke="#000" stroke-opacity="0.95" stroke-width="0.55"/>
<rect x="362.56" y="205.06" width="9.2" height="4.06" fill="#b27a36" stroke="#000" stroke-opacity="0.95" stroke-width="0.55"/>
<rect x="362.56" y="186.13" width="9.2" height="18.93" fill="#a7b236" stroke="#000" stroke-opacity="0.95" stroke-width="0.55"/>
<rect x="362.56" y="121.89" width="9.2" height="64.24" fill="#85b236" stroke="#000" stroke-opacity="0.95" stroke-width="0.55"/>
<rect x="362.56" y="102.73" width="9.2" height="19.16" fill="#63b236" stroke="#000" stroke-opacity="0.95" stroke-width="0.55"/>
<rect x="362.56" y="10.31" width="9.2" height="92.42" fill="#36b26e" stroke="#000" stroke-opacity="0.95" stroke-width="0.55"/>
<rect x="362.56" y="5.80" width="9.2" height="4.51" fill="#4136b2" stroke="#000" stroke-opacity="0.95" stroke-width="0.55"/>
<rect x="362.56" y="4.00" width="9.2" height="1.80" fill="#6336b2" stroke="#000" stroke-opacity="0.95" stroke-width="0.55"/>
<rect x="383.10" y="3.8" width="1.54" height="208.9" fill="#c2c2c2"/>
<rect x="373.70" y="210.25" width="9.2" height="2.25" fill="#b23636" stroke="#000" stroke-opacity="0.95" stroke-width="0.55"/>
<rect x="373.70" y="204.16" width="9.2" height="6.09" fill="#b27a36" stroke="#000" stroke-opacity="0.95" stroke-width="0.55"/>
<rect x="373.70" y="153.89" width="9.2" height="50.27" fill="#a7b236" stroke="#000" stroke-opacity="0.95" stroke-width="0.55"/>
<rect x="373.70" y="96.42" width="9.2" height="57.48" fill="#85b236" stroke="#000" stroke-opacity="0.95" stroke-width="0.55"/>
<rect x="373.70" y="86.95" width="9.2" height="9.47" fill="#63b236" stroke="#000" stroke-opacity="0.95" stroke-width="0.55"/>
<rect x="373.70" y="7.38" width="9.2" height="79.57" fill="#36b26e" stroke="#000" stroke-opacity="0.95" stroke-width="0.55"/>
<rect x="373.70" y="5.80" width="9.2" height="1.58" fill="#6336b2" stroke="#000" stroke-opacity="0.95" stroke-width="0.55"/>
<rect x="373.70" y="4.00" width="9.2" height="1.80" fill="#a736b2" stroke="#000" stroke-opacity="0.95" stroke-width="0.55"/>
<rect x="394.24" y="3.8" width="1.54" height="208.9" fill="#c2c2c2"/>
<rect x="384.84" y="207.99" width="9.2" height="4.51" fill="#b23636" stroke="#000" stroke-opacity="0.95" stroke-width="0.55"/>
<rect x="384.84" y="196.72" width="9.2" height="11.27" fill="#b27a36" stroke="#000" stroke-opacity="0.95" stroke-width="0.55"/>
<rect x="384.84" y="192.21" width="9.2" height="4.51" fill="#a7b236" stroke="#000" stroke-opacity="0.95" stroke-width="0.55"/>
<rect x="384.84" y="121.21" width="9.2" height="71.00" fill="#85b236" stroke="#000" stroke-opacity="0.95" stroke-width="0.55"/>
<rect x="384.84" y="96.87" width="9.2" height="24.34" fill="#63b236" stroke="#000" stroke-opacity="0.95" stroke-width="0.55"/>
<rect x="384.84" y="20.23" width="9.2" height="76.64" fill="#36b26e" stroke="#000" stroke-opacity="0.95" stroke-width="0.55"/>
<rect x="384.84" y="10.31" width="9.2" height="9.92" fill="#4136b2" stroke="#000" stroke-opacity="0.95" stroke-width="0.55"/>
<rect x="384.84" y="6.25" width="9.2" height="4.06" fill="#a736b2" stroke="#000" stroke-opacity="0.95" stroke-width="0.55"/>
<rect x="384.84" y="4.00" width="9.2" height="2.25" fill="#b23658" stroke="#000" stroke-opacity="0.95" stroke-width="0.55"/>
<rect x="405.38" y="3.8" width="1.54" height="208.9" fill="#c2c2c2"/>
<rect x="395.98" y="210.25" width="9.2" height="2.25" fill="#b23636" stroke="#000" stroke-opacity="0.95" stroke-width="0.55"/>
<rect x="395.98" y="205.74" width="9.2" height="4.51" fill="#b27a36" stroke="#000" stroke-opacity="0.95" stroke-width="0.55"/>
<rect x="395.98" y="182.07" width="9.2" height="23.67" fill="#b29c36" stroke="#000" stroke-opacity="0.95" stroke-width="0.55"/>
<rect x="395.98" y="153.89" width="9.2" height="28.18" fill="#a7b236" stroke="#000" stroke-opacity="0.95" stroke-width="0.55"/>
<rect x="395.98" y="122.34" width="9.2" height="31.56" fill="#85b236" stroke="#000" stroke-opacity="0.95" stroke-width="0.55"/>
<rect x="395.98" y="106.56" width="9.2" height="15.78" fill="#63b236" stroke="#000" stroke-opacity="0.95" stroke-width="0.55"/>
<rect x="395.98" y="101.38" width="9.2" height="5.18" fill="#41b236" stroke="#000" stroke-opacity="0.95" stroke-width="0.55"/>
<rect x="395.98" y="16.40" width="9.2" height="84.98" fill="#36b26e" stroke="#000" stroke-opacity="0.95" stroke-width="0.55"/>
<rect x="395.98" y="10.76" width="9.2" height="5.64" fill="#4136b2" stroke="#000" stroke-opacity="0.95" stroke-width="0.55"/>
<rect x="395.98" y="5.13" width="9.2" height="5.64" fill="#a736b2" stroke="#000" stroke-opacity="0.95" stroke-width="0.55"/>
<rect x="395.98" y="4.00" width="9.2" height="1.13" fill="#b23658" stroke="#000" stroke-opacity="0.95" stroke-width="0.55"/>
<rect x="416.52" y="3.8" width="1.54" height="208.9" fill="#c2c2c2"/>
<rect x="407.12" y="210.25" width="9.2" height="2.25" fill="#b23636" stroke="#000" stroke-opacity="0.95" stroke-width="0.55"/>
<rect x="407.12" y="204.16" width="9.2" height="6.09" fill="#b27a36" stroke="#000" stroke-opacity="0.95" stroke-width="0.55"/>
<rect x="407.12" y="176.44" width="9.2" height="27.72" fill="#a7b236" stroke="#000" stroke-opacity="0.95" stroke-width="0.55"/>
<rect x="407.12" y="105.43" width="9.2" height="71.00" fill="#85b236" stroke="#000" stroke-opacity="0.95" stroke-width="0.55"/>
<rect x="407.12" y="93.04" width="9.2" height="12.40" fill="#63b236" stroke="#000" stroke-opacity="0.95" stroke-width="0.55"/>
<rect x="407.12" y="91.91" width="9.2" height="1.13" fill="#41b236" stroke="#000" stroke-opacity="0.95" stroke-width="0.55"/>
<rect x="407.12" y="11.21" width="9.2" height="80.70" fill="#36b26e" stroke="#000" stroke-opacity="0.95" stroke-width="0.55"/>
<rect x="407.12" y="8.51" width="9.2" height="2.70" fill="#6336b2" stroke="#000" stroke-opacity="0.95" stroke-width="0.55"/>
<rect x="407.12" y="6.25" width="9.2" height="2.25" fill="#a736b2" stroke="#000" stroke-opacity="0.95" stroke-width="0.55"/>
<rect x="407.12" y="4.00" width="9.2" height="2.25" fill="#b23658" stroke="#000" stroke-opacity="0.95" stroke-width="0.55"/>
<rect x="427.66" y="3.8" width="1.54" height="208.9" fill="#c2c2c2"/>
<rect x="418.26" y="210.92" width="9.2" height="1.58" fill="#b23636" stroke="#000" stroke-opacity="0.95" stroke-width="0.55"/>
<rect x="418.26" y="206.86" width="9.2" height="4.06" fill="#b27a36" stroke="#000" stroke-opacity="0.95" stroke-width="0.55"/>
<rect x="418.26" y="197.40" width="9.2" height="9.47" fill="#b29c36" stroke="#000" stroke-opacity="0.95" stroke-width="0.55"/>
<rect x="418.26" y="108.81" width="9.2" height="88.58" fill="#85b236" stroke="#000" stroke-opacity="0.95" stroke-width="0.55"/>
<rect x="418.26" y="99.35" width="9.2" height="9.47" fill="#63b236" stroke="#000" stroke-opacity="0.95" stroke-width="0.55"/>
<rect x="418.26" y="25.41" width="9.2" height="73.93" fill="#36b26e" stroke="#000" stroke-opacity="0.95" stroke-width="0.55"/>
<rect x="418.26" y="11.21" width="9.2" height="14.20" fill="#4136b2" stroke="#000" stroke-opacity="0.95" stroke-width="0.55"/>
<rect x="418.26" y="5.80" width="9.2" height="5.41" fill="#a736b2" stroke="#000" stroke-opacity="0.95" stroke-width="0.55"/>
<rect x="418.26" y="4.00" width="9.2" height="1.80" fill="#b23658" stroke="#000" stroke-opacity="0.95" stroke-width="0.55"/>
<rect x="438.80" y="3.8" width="1.54" height="208.9" fill="#c2c2c2"/>
<rect x="429.40" y="210.25" width="9.2" height="2.25" fill="#b23636" stroke="#000" stroke-opacity="0.95" stroke-width="0.55"/>
<rect x="429.40" y="187.71" width="9.2" height="22.54" fill="#b29c36" stroke="#000" stroke-opacity="0.95" stroke-width="0.55"/>
<rect x="429.40" y="174.86" width="9.2" height="12.85" fill="#a7b236" stroke="#000" stroke-opacity="0.95" stroke-width="0.55"/>
<rect x="429.40" y="118.96" width="9.2" height="55.90" fill="#85b236" stroke="#000" stroke-opacity="0.95" stroke-width="0.55"/>
<rect x="429.40" y="104.76" width="9.2" height="14.20" fill="#63b236" stroke="#000" stroke-opacity="0.95" stroke-width="0.55"/>
<rect x="429.40" y="17.07" width="9.2" height="87.68" fill="#36b26e" stroke="#000" stroke-opacity="0.95" stroke-width="0.55"/>
<rect x="429.40" y="10.31" width="9.2" height="6.76" fill="#4136b2" stroke="#000" stroke-opacity="0.95" stroke-width="0.55"/>
<rect x="429.40" y="5.80" width="9.2" height="4.51" fill="#a736b2" stroke="#000" stroke-opacity="0.95" stroke-width="0.55"/>
<rect x="429.40" y="4.00" width="9.2" height="1.80" fill="#b23658" stroke="#000" stroke-opacity="0.95" stroke-width="0.55"/>
<rect x="449.94" y="3.8" width="1.54" height="208.9" fill="#c2c2c2"/>
<rect x="440.54" y="211.37" width="9.2" height="1.13" fill="#b23636" stroke="#000" stroke-opacity="0.95" stroke-width="0.55"/>
<rect x="440.54" y="201.23" width="9.2" height="10.14" fill="#b27a36" stroke="#000" stroke-opacity="0.95" stroke-width="0.55"/>
<rect x="440.54" y="184.32" width="9.2" height="16.91" fill="#b29c36" stroke="#000" stroke-opacity="0.95" stroke-width="0.55"/>
<rect x="440.54" y="161.78" width="9.2" height="22.54" fill="#a7b236" stroke="#000" stroke-opacity="0.95" stroke-width="0.55"/>
<rect x="440.54" y="143.75" width="9.2" height="18.03" fill="#85b236" stroke="#000" stroke-opacity="0.95" stroke-width="0.55"/>
<rect x="440.54" y="135.41" width="9.2" height="8.34" fill="#63b236" stroke="#000" stroke-opacity="0.95" stroke-width="0.55"/>
<rect x="440.54" y="25.41" width="9.2" height="110.00" fill="#36b26e" stroke="#000" stroke-opacity="0.95" stroke-width="0.55"/>
<rect x="440.54" y="15.72" width="9.2" height="9.69" fill="#4136b2" stroke="#000" stroke-opacity="0.95" stroke-width="0.55"/>
<rect x="440.54" y="8.51" width="9.2" height="7.21" fill="#a736b2" stroke="#000" stroke-opacity="0.95" stroke-width="0.55"/>
<rect x="440.54" y="5.80" width="9.2" height="2.70" fill="#b2367a" stroke="#000" stroke-opacity="0.95" stroke-width="0.55"/>
<rect x="440.54" y="4.00" width="9.2" height="1.80" fill="#b23658" stroke="#000" stroke-opacity="0.95" stroke-width="0.55"/>
<rect x="461.08" y="3.8" width="1.54" height="208.9" fill="#c2c2c2"/>
<rect x="451.68" y="211.82" width="9.2" height="0.68" fill="#b23636" stroke="#000" stroke-opacity="0.95" stroke-width="0.55"/>
<rect x="451.68" y="204.61" width="9.2" height="7.21" fill="#b27a36" stroke="#000" stroke-opacity="0.95" stroke-width="0.55"/>
<rect x="451.68" y="161.78" width="9.2" height="42.83" fill="#a7b236" stroke="#000" stroke-opacity="0.95" stroke-width="0.55"/>
<rect x="451.68" y="122.34" width="9.2" height="39.45" fill="#85b236" stroke="#000" stroke-opacity="0.95" stroke-width="0.55"/>
<rect x="451.68" y="115.58" width="9.2" height="6.76" fill="#63b236" stroke="#000" stroke-opacity="0.95" stroke-width="0.55"/>
<rect x="451.68" y="107.24" width="9.2" height="8.34" fill="#41b236" stroke="#000" stroke-opacity="0.95" stroke-width="0.55"/>
<rect x="451.68" y="9.64" width="9.2" height="97.60" fill="#36b26e" stroke="#000" stroke-opacity="0.95" stroke-width="0.55"/>
<rect x="451.68" y="6.25" width="9.2" height="3.38" fill="#6336b2" stroke="#000" stroke-opacity="0.95" stroke-width="0.55"/>
<rect x="451.68" y="4.00" width="9.2" height="2.25" fill="#a736b2" stroke="#000" stroke-opacity="0.95" stroke-width="0.55"/>
<rect x="472.22" y="3.8" width="1.54" height="208.9" fill="#c2c2c2"/>
<rect x="462.82" y="209.12" width="9.2" height="3.38" fill="#b23636" stroke="#000" stroke-opacity="0.95" stroke-width="0.55"/>
<rect x="462.82" y="203.48" width="9.2" height="5.64" fill="#b27a36" stroke="#000" stroke-opacity="0.95" stroke-width="0.55"/>
<rect x="462.82" y="185.45" width="9.2" height="18.03" fill="#b29c36" stroke="#000" stroke-opacity="0.95" stroke-width="0.55"/>
<rect x="462.82" y="150.06" width="9.2" height="35.39" fill="#a7b236" stroke="#000" stroke-opacity="0.95" stroke-width="0.55"/>
<rect x="462.82" y="129.10" width="9.2" height="20.96" fill="#85b236" stroke="#000" stroke-opacity="0.95" stroke-width="0.55"/>
<rect x="462.82" y="107.69" width="9.2" height="21.41" fill="#63b236" stroke="#000" stroke-opacity="0.95" stroke-width="0.55"/>
<rect x="462.82" y="19.33" width="9.2" height="88.36" fill="#36b26e" stroke="#000" stroke-opacity="0.95" stroke-width="0.55"/>
<rect x="462.82" y="11.89" width="9.2" height="7.44" fill="#4136b2" stroke="#000" stroke-opacity="0.95" stroke-width="0.55"/>
<rect x="462.82" y="5.13" width="9.2" height="6.76" fill="#a736b2" stroke="#000" stroke-opacity="0.95" stroke-width="0.55"/>
<rect x="462.82" y="4.00" width="9.2" height="1.13" fill="#b23658" stroke="#000" stroke-opacity="0.95" stroke-width="0.55"/>
<rect x="483.36" y="3.8" width="1.54" height="208.9" fill="#c2c2c2"/>
<rect x="473.96" y="206.86" width="9.2" height="5.64" fill="#b23636" stroke="#000" stroke-opacity="0.95" stroke-width="0.55"/>
<rect x="473.96" y="197.85" width="9.2" height="9.02" fill="#b27a36" stroke="#000" stroke-opacity="0.95" stroke-width="0.55"/>
<rect x="473.96" y="186.13" width="9.2" height="11.72" fill="#a7b236" stroke="#000" stroke-opacity="0.95" stroke-width="0.55"/>
<rect x="473.96" y="143.75" width="9.2" height="42.38" fill="#85b236" stroke="#000" stroke-opacity="0.95" stroke-width="0.55"/>
<rect x="473.96" y="138.12" width="9.2" height="5.64" fill="#63b236" stroke="#000" stroke-opacity="0.95" stroke-width="0.55"/>
<rect x="473.96" y="123.46" width="9.2" height="14.65" fill="#41b236" stroke="#000" stroke-opacity="0.95" stroke-width="0.55"/>
<rect x="473.96" y="10.76" width="9.2" height="112.70" fill="#36b26e" stroke="#000" stroke-opacity="0.95" stroke-width="0.55"/>
<rect x="473.96" y="7.38" width="9.2" height="3.38" fill="#4136b2" stroke="#000" stroke-opacity="0.95" stroke-width="0.55"/>
<rect x="473.96" y="4.00" width="9.2" height="3.38" fill="#6336b2" stroke="#000" stroke-opacity="0.95" stroke-width="0.55"/>
<rect x="494.50" y="3.8" width="1.54" height="208.9" fill="#c2c2c2"/>
<rect x="485.10" y="210.25" width="9.2" height="2.25" fill="#b23636" stroke="#000" stroke-opacity="0.95" stroke-width="0.55"/>
<rect x="485.10" y="204.16" width="9.2" height="6.09" fill="#b27a36" stroke="#000" stroke-opacity="0.95" stroke-width="0.55"/>
<rect x="485.10" y="189.96" width="9.2" height="14.20" fill="#b29c36" stroke="#000" stroke-opacity="0.95" stroke-width="0.55"/>
<rect x="485.10" y="143.30" width="9.2" height="46.66" fill="#a7b236" stroke="#000" stroke-opacity="0.95" stroke-width="0.55"/>
<rect x="485.10" y="107.69" width="9.2" height="35.61" fill="#85b236" stroke="#000" stroke-opacity="0.95" stroke-width="0.55"/>
<rect x="485.10" y="103.18" width="9.2" height="4.51" fill="#63b236" stroke="#000" stroke-opacity="0.95" stroke-width="0.55"/>
<rect x="485.10" y="98.67" width="9.2" height="4.51" fill="#41b236" stroke="#000" stroke-opacity="0.95" stroke-width="0.55"/>
<rect x="485.10" y="11.89" width="9.2" height="86.78" fill="#36b26e" stroke="#000" stroke-opacity="0.95" stroke-width="0.55"/>
<rect x="485.10" y="8.96" width="9.2" height="2.93" fill="#4136b2" stroke="#000" stroke-opacity="0.95" stroke-width="0.55"/>
<rect x="485.10" y="5.13" width="9.2" height="3.83" fill="#a736b2" stroke="#000" stroke-opacity="0.95" stroke-width="0.55"/>
<rect x="485.10" y="4.00" width="9.2" height="1.13" fill="#b23658" stroke="#000" stroke-opacity="0.95" stroke-width="0.55"/>
<rect x="505.64" y="3.8" width="1.54" height="208.9" fill="#c2c2c2"/>
<rect x="496.24" y="211.37" width="9.2" height="1.13" fill="#b23636" stroke="#000" stroke-opacity="0.95" stroke-width="0.55"/>
<rect x="496.24" y="194.47" width="9.2" height="16.91" fill="#b27a36" stroke="#000" stroke-opacity="0.95" stroke-width="0.55"/>
<rect x="496.24" y="162.91" width="9.2" height="31.56" fill="#b29c36" stroke="#000" stroke-opacity="0.95" stroke-width="0.55"/>
<rect x="496.24" y="156.82" width="9.2" height="6.09" fill="#a7b236" stroke="#000" stroke-opacity="0.95" stroke-width="0.55"/>
<rect x="496.24" y="111.52" width="9.2" height="45.31" fill="#85b236" stroke="#000" stroke-opacity="0.95" stroke-width="0.55"/>
<rect x="496.24" y="96.42" width="9.2" height="15.10" fill="#63b236" stroke="#000" stroke-opacity="0.95" stroke-width="0.55"/>
<rect x="496.24" y="94.16" width="9.2" height="2.25" fill="#41b236" stroke="#000" stroke-opacity="0.95" stroke-width="0.55"/>
<rect x="496.24" y="9.64" width="9.2" height="84.53" fill="#36b26e" stroke="#000" stroke-opacity="0.95" stroke-width="0.55"/>
<rect x="496.24" y="5.13" width="9.2" height="4.51" fill="#6336b2" stroke="#000" stroke-opacity="0.95" stroke-width="0.55"/>
<rect x="496.24" y="4.00" width="9.2" height="1.13" fill="#8536b2" stroke="#000" stroke-opacity="0.95" stroke-width="0.55"/>
<rect x="516.78" y="3.8" width="1.54" height="208.9" fill="#c2c2c2"/>
<rect x="507.38" y="207.99" width="9.2" height="4.51" fill="#b23636" stroke="#000" stroke-opacity="0.95" stroke-width="0.55"/>
<rect x="507.38" y="202.36" width="9.2" height="5.64" fill="#b27a36" stroke="#000" stroke-opacity="0.95" stroke-width="0.55"/>
<rect x="507.38" y="134.28" width="9.2" height="68.07" fill="#a7b236" stroke="#000" stroke-opacity="0.95" stroke-width="0.55"/>
<rect x="507.38" y="80.64" width="9.2" height="53.65" fill="#85b236" stroke="#000" stroke-opacity="0.95" stroke-width="0.55"/>
<rect x="507.38" y="77.26" width="9.2" height="3.38" fill="#63b236" stroke="#000" stroke-opacity="0.95" stroke-width="0.55"/>
<rect x="507.38" y="10.76" width="9.2" height="66.49" fill="#36b26e" stroke="#000" stroke-opacity="0.95" stroke-width="0.55"/>
<rect x="507.38" y="7.38" width="9.2" height="3.38" fill="#6336b2" stroke="#000" stroke-opacity="0.95" stroke-width="0.55"/>
<rect x="507.38" y="4.00" width="9.2" height="3.38" fill="#a736b2" stroke="#000" stroke-opacity="0.95" stroke-width="0.55"/>
<rect x="527.92" y="3.8" width="1.54" height="208.9" fill="#c2c2c2"/>
<rect x="518.52" y="206.86" width="9.2" height="5.64" fill="#b23636" stroke="#000" stroke-opacity="0.95" stroke-width="0.55"/>
<rect x="518.52" y="201.23" width="9.2" height="5.64" fill="#b27a36" stroke="#000" stroke-opacity="0.95" stroke-width="0.55"/>
<rect x="518.52" y="167.42" width="9.2" height="33.81" fill="#b29c36" stroke="#000" stroke-opacity="0.95" stroke-width="0.55"/>
<rect x="518.52" y="155.02" width="9.2" height="12.40" fill="#a7b236" stroke="#000" stroke-opacity="0.95" stroke-width="0.55"/>
<rect x="518.52" y="138.12" width="9.2" height="16.91" fill="#85b236" stroke="#000" stroke-opacity="0.95" stroke-width="0.55"/>
<rect x="518.52" y="134.74" width="9.2" height="3.38" fill="#63b236" stroke="#000" stroke-opacity="0.95" stroke-width="0.55"/>
<rect x="518.52" y="132.03" width="9.2" height="2.70" fill="#41b236" stroke="#000" stroke-opacity="0.95" stroke-width="0.55"/>
<rect x="518.52" y="81.76" width="9.2" height="50.27" fill="#36b26e" stroke="#000" stroke-opacity="0.95" stroke-width="0.55"/>
<rect x="518.52" y="24.74" width="9.2" height="57.03" fill="#4136b2" stroke="#000" stroke-opacity="0.95" stroke-width="0.55"/>
<rect x="518.52" y="22.03" width="9.2" height="2.70" fill="#6336b2" stroke="#000" stroke-opacity="0.95" stroke-width="0.55"/>
<rect x="518.52" y="18.65" width="9.2" height="3.38" fill="#a736b2" stroke="#000" stroke-opacity="0.95" stroke-width="0.55"/>
<rect x="518.52" y="5.80" width="9.2" height="12.85" fill="#b2367a" stroke="#000" stroke-opacity="0.95" stroke-width="0.55"/>
<rect x="518.52" y="4.00" width="9.2" height="1.80" fill="#b23658" stroke="#000" stroke-opacity="0.95" stroke-width="0.55"/>
<rect x="539.06" y="3.8" width="1.54" height="208.9" fill="#c2c2c2"/>
<rect x="529.66" y="204.61" width="9.2" height="7.89" fill="#b23636" stroke="#000" stroke-opacity="0.95" stroke-width="0.55"/>
<rect x="529.66" y="198.98" width="9.2" height="5.64" fill="#b27a36" stroke="#000" stroke-opacity="0.95" stroke-width="0.55"/>
<rect x="529.66" y="185.45" width="9.2" height="13.52" fill="#b29c36" stroke="#000" stroke-opacity="0.95" stroke-width="0.55"/>
<rect x="529.66" y="169.00" width="9.2" height="16.45" fill="#a7b236" stroke="#000" stroke-opacity="0.95" stroke-width="0.55"/>
<rect x="529.66" y="148.71" width="9.2" height="20.29" fill="#85b236" stroke="#000" stroke-opacity="0.95" stroke-width="0.55"/>
<rect x="529.66" y="125.27" width="9.2" height="23.44" fill="#63b236" stroke="#000" stroke-opacity="0.95" stroke-width="0.55"/>
<rect x="529.66" y="123.01" width="9.2" height="2.25" fill="#41b236" stroke="#000" stroke-opacity="0.95" stroke-width="0.55"/>
<rect x="529.66" y="45.70" width="9.2" height="77.31" fill="#36b26e" stroke="#000" stroke-opacity="0.95" stroke-width="0.55"/>
<rect x="529.66" y="44.12" width="9.2" height="1.58" fill="#36b290" stroke="#000" stroke-opacity="0.95" stroke-width="0.55"/>
<rect x="529.66" y="23.16" width="9.2" height="20.96" fill="#4136b2" stroke="#000" stroke-opacity="0.95" stroke-width="0.55"/>
<rect x="529.66" y="20.91" width="9.2" height="2.25" fill="#6336b2" stroke="#000" stroke-opacity="0.95" stroke-width="0.55"/>
<rect x="529.66" y="9.64" width="9.2" height="11.27" fill="#a736b2" stroke="#000" stroke-opacity="0.95" stroke-width="0.55"/>
<rect x="529.66" y="6.25" width="9.2" height="3.38" fill="#b2367a" stroke="#000" stroke-opacity="0.95" stroke-width="0.55"/>
<rect x="529.66" y="4.00" width="9.2" height="2.25" fill="#b23658" stroke="#000" stroke-opacity="0.95" stroke-width="0.55"/>
<rect x="550.20" y="3.8" width="1.54" height="208.9" fill="#c2c2c2"/>
<rect x="540.80" y="207.32" width="9.2" height="5.18" fill="#b23636" stroke="#000" stroke-opacity="0.95" stroke-width="0.55"/>
<rect x="540.80" y="203.48" width="9.2" height="3.83" fill="#b25836" stroke="#000" stroke-opacity="0.95" stroke-width="0.55"/>
<rect x="540.80" y="184.32" width="9.2" height="19.16" fill="#b27a36" stroke="#000" stroke-opacity="0.95" stroke-width="0.55"/>
<rect x="540.80" y="148.26" width="9.2" height="36.06" fill="#a7b236" stroke="#000" stroke-opacity="0.95" stroke-width="0.55"/>
<rect x="540.80" y="105.43" width="9.2" height="42.83" fill="#85b236" stroke="#000" stroke-opacity="0.95" stroke-width="0.55"/>
<rect x="540.80" y="96.42" width="9.2" height="9.02" fill="#63b236" stroke="#000" stroke-opacity="0.95" stroke-width="0.55"/>
<rect x="540.80" y="91.46" width="9.2" height="4.96" fill="#41b236" stroke="#000" stroke-opacity="0.95" stroke-width="0.55"/>
<rect x="540.80" y="34.43" width="9.2" height="57.03" fill="#36b26e" stroke="#000" stroke-opacity="0.95" stroke-width="0.55"/>
<rect x="540.80" y="17.98" width="9.2" height="16.45" fill="#4136b2" stroke="#000" stroke-opacity="0.95" stroke-width="0.55"/>
<rect x="540.80" y="13.47" width="9.2" height="4.51" fill="#6336b2" stroke="#000" stroke-opacity="0.95" stroke-width="0.55"/>
<rect x="540.80" y="7.38" width="9.2" height="6.09" fill="#a736b2" stroke="#000" stroke-opacity="0.95" stroke-width="0.55"/>
<rect x="540.80" y="4.00" width="9.2" height="3.38" fill="#b23658" stroke="#000" stroke-opacity="0.95" stroke-width="0.55"/>
<rect x="561.34" y="3.8" width="1.54" height="208.9" fill="#c2c2c2"/>
<rect x="551.94" y="210.25" width="9.2" height="2.25" fill="#b23636" stroke="#000" stroke-opacity="0.95" stroke-width="0.55"/>
<rect x="551.94" y="205.06" width="9.2" height="5.18" fill="#b25836" stroke="#000" stroke-opacity="0.95" stroke-width="0.55"/>
<rect x="551.94" y="191.09" width="9.2" height="13.98" fill="#b27a36" stroke="#000" stroke-opacity="0.95" stroke-width="0.55"/>
<rect x="551.94" y="180.94" width="9.2" height="10.14" fill="#b29c36" stroke="#000" stroke-opacity="0.95" stroke-width="0.55"/>
<rect x="551.94" y="158.40" width="9.2" height="22.54" fill="#a7b236" stroke="#000" stroke-opacity="0.95" stroke-width="0.55"/>
<rect x="551.94" y="109.94" width="9.2" height="48.46" fill="#85b236" stroke="#000" stroke-opacity="0.95" stroke-width="0.55"/>
<rect x="551.94" y="102.73" width="9.2" height="7.21" fill="#63b236" stroke="#000" stroke-opacity="0.95" stroke-width="0.55"/>
<rect x="551.94" y="9.64" width="9.2" height="93.09" fill="#36b26e" stroke="#000" stroke-opacity="0.95" stroke-width="0.55"/>
<rect x="551.94" y="6.25" width="9.2" height="3.38" fill="#6336b2" stroke="#000" stroke-opacity="0.95" stroke-width="0.55"/>
<rect x="551.94" y="4.00" width="9.2" height="2.25" fill="#8536b2" stroke="#000" stroke-opacity="0.95" stroke-width="0.55"/>
<rect x="572.48" y="3.8" width="1.54" height="208.9" fill="#c2c2c2"/>
<rect x="563.08" y="210.25" width="9.2" height="2.25" fill="#111" stroke="#000" stroke-opacity="0.95" stroke-width="0.55"/>
<rect x="563.08" y="191.54" width="9.2" height="18.71" fill="#a7b236" stroke="#000" stroke-opacity="0.95" stroke-width="0.55"/>
<rect x="563.08" y="92.36" width="9.2" height="99.18" fill="#85b236" stroke="#000" stroke-opacity="0.95" stroke-width="0.55"/>
<rect x="563.08" y="89.65" width="9.2" height="2.70" fill="#63b236" stroke="#000" stroke-opacity="0.95" stroke-width="0.55"/>
<rect x="563.08" y="15.27" width="9.2" height="74.38" fill="#36b26e" stroke="#000" stroke-opacity="0.95" stroke-width="0.55"/>
<rect x="563.08" y="11.21" width="9.2" height="4.06" fill="#4136b2" stroke="#000" stroke-opacity="0.95" stroke-width="0.55"/>
<rect x="563.08" y="8.51" width="9.2" height="2.70" fill="#6336b2" stroke="#000" stroke-opacity="0.95" stroke-width="0.55"/>
<rect x="563.08" y="5.13" width="9.2" height="3.38" fill="#a736b2" stroke="#000" stroke-opacity="0.95" stroke-width="0.55"/>
<rect x="563.08" y="4.00" width="9.2" height="1.13" fill="#b23658" stroke="#000" stroke-opacity="0.95" stroke-width="0.55"/>
<rect x="574.22" y="204.61" width="9.2" height="7.89" fill="#b23636" stroke="#000" stroke-opacity="0.95" stroke-width="0.55"/>
<rect x="574.22" y="199.65" width="9.2" height="4.96" fill="#b27a36" stroke="#000" stroke-opacity="0.95" stroke-width="0.55"/>
<rect x="574.22" y="188.83" width="9.2" height="10.82" fill="#b29c36" stroke="#000" stroke-opacity="0.95" stroke-width="0.55"/>
<rect x="574.22" y="173.05" width="9.2" height="15.78" fill="#a7b236" stroke="#000" stroke-opacity="0.95" stroke-width="0.55"/>
<rect x="574.22" y="129.10" width="9.2" height="43.95" fill="#85b236" stroke="#000" stroke-opacity="0.95" stroke-width="0.55"/>
<rect x="574.22" y="107.69" width="9.2" height="21.41" fill="#63b236" stroke="#000" stroke-opacity="0.95" stroke-width="0.55"/>
<rect x="574.22" y="103.63" width="9.2" height="4.06" fill="#41b236" stroke="#000" stroke-opacity="0.95" stroke-width="0.55"/>
<rect x="574.22" y="12.57" width="9.2" height="91.06" fill="#36b26e" stroke="#000" stroke-opacity="0.95" stroke-width="0.55"/>
<rect x="574.22" y="8.96" width="9.2" height="3.61" fill="#4136b2" stroke="#000" stroke-opacity="0.95" stroke-width="0.55"/>
<rect x="574.22" y="6.70" width="9.2" height="2.25" fill="#6336b2" stroke="#000" stroke-opacity="0.95" stroke-width="0.55"/>
<rect x="574.22" y="4.00" width="9.2" height="2.70" fill="#b2367a" stroke="#000" stroke-opacity="0.95" stroke-width="0.55"/>
<path d="M99.8 214.5H578.8" stroke="#5a5a5a" stroke-width="1.2"/>
<path d="M99.8 214.5V217.4" stroke="#5a5a5a" stroke-width="0.8"/>
<text transform="translate(101.7,217.6) rotate(-57)" font-size="4.4" text-anchor="end" fill="#111" stroke="#111" stroke-width="0.15">BS23F</text>
<path d="M110.9 214.5V217.4" stroke="#5a5a5a" stroke-width="0.8"/>
<text transform="translate(112.8,217.6) rotate(-57)" font-size="4.4" text-anchor="end" fill="#111" stroke="#111" stroke-width="0.15">BS24J</text>
<path d="M122.1 214.5V217.4" stroke="#5a5a5a" stroke-width="0.8"/>
<text transform="translate(124.0,217.6) rotate(-57)" font-size="4.4" text-anchor="end" fill="#111" stroke="#111" stroke-width="0.15">BS25L</text>
<path d="M133.2 214.5V217.4" stroke="#5a5a5a" stroke-width="0.8"/>
<text transform="translate(135.1,217.6) rotate(-57)" font-size="4.4" text-anchor="end" fill="#111" stroke="#111" stroke-width="0.15">BS26K</text>
<path d="M144.4 214.5V217.4" stroke="#5a5a5a" stroke-width="0.8"/>
<text transform="translate(146.3,217.6) rotate(-57)" font-size="4.4" text-anchor="end" fill="#111" stroke="#111" stroke-width="0.15">BS27F</text>
<path d="M155.5 214.5V217.4" stroke="#5a5a5a" stroke-width="0.8"/>
<text transform="translate(157.4,217.6) rotate(-57)" font-size="4.4" text-anchor="end" fill="#111" stroke="#111" stroke-width="0.15">BS28J</text>
<path d="M166.6 214.5V217.4" stroke="#5a5a5a" stroke-width="0.8"/>
<text transform="translate(168.5,217.6) rotate(-57)" font-size="4.4" text-anchor="end" fill="#111" stroke="#111" stroke-width="0.15">BS29L</text>
<path d="M177.8 214.5V217.4" stroke="#5a5a5a" stroke-width="0.8"/>
<text transform="translate(179.7,217.6) rotate(-57)" font-size="4.4" text-anchor="end" fill="#111" stroke="#111" stroke-width="0.15">BS30K</text>
<path d="M188.9 214.5V217.4" stroke="#5a5a5a" stroke-width="0.8"/>
<text transform="translate(190.8,217.6) rotate(-57)" font-size="4.4" text-anchor="end" fill="#111" stroke="#111" stroke-width="0.15">BS31F</text>
<path d="M200.1 214.5V217.4" stroke="#5a5a5a" stroke-width="0.8"/>
<text transform="translate(202.0,217.6) rotate(-57)" font-size="4.4" text-anchor="end" fill="#111" stroke="#111" stroke-width="0.15">BS32J</text>
<path d="M211.2 214.5V217.4" stroke="#5a5a5a" stroke-width="0.8"/>
<text transform="translate(213.1,217.6) rotate(-57)" font-size="4.4" text-anchor="end" fill="#111" stroke="#111" stroke-width="0.15">BS33L</text>
<path d="M222.3 214.5V217.4" stroke="#5a5a5a" stroke-width="0.8"/>
<text transform="translate(224.2,217.6) rotate(-57)" font-size="4.4" text-anchor="end" fill="#111" stroke="#111" stroke-width="0.15">BS34K</text>
<path d="M233.5 214.5V217.4" stroke="#5a5a5a" stroke-width="0.8"/>
<text transform="translate(235.4,217.6) rotate(-57)" font-size="4.4" text-anchor="end" fill="#111" stroke="#111" stroke-width="0.15">BS35F</text>
<path d="M244.6 214.5V217.4" stroke="#5a5a5a" stroke-width="0.8"/>
<text transform="translate(246.5,217.6) rotate(-57)" font-size="4.4" text-anchor="end" fill="#111" stroke="#111" stroke-width="0.15">BS36J</text>
<path d="M255.8 214.5V217.4" stroke="#5a5a5a" stroke-width="0.8"/>
<text transform="translate(257.7,217.6) rotate(-57)" font-size="4.4" text-anchor="end" fill="#111" stroke="#111" stroke-width="0.15">BS37L</text>
<path d="M266.9 214.5V217.4" stroke="#5a5a5a" stroke-width="0.8"/>
<text transform="translate(268.8,217.6) rotate(-57)" font-size="4.4" text-anchor="end" fill="#111" stroke="#111" stroke-width="0.15">BS38K</text>
<path d="M278.0 214.5V217.4" stroke="#5a5a5a" stroke-width="0.8"/>
<text transform="translate(279.9,217.6) rotate(-57)" font-size="4.4" text-anchor="end" fill="#111" stroke="#111" stroke-width="0.15">BS39F</text>
<path d="M289.2 214.5V217.4" stroke="#5a5a5a" stroke-width="0.8"/>
<text transform="translate(291.1,217.6) rotate(-57)" font-size="4.4" text-anchor="end" fill="#111" stroke="#111" stroke-width="0.15">BS40J</text>
<path d="M300.3 214.5V217.4" stroke="#5a5a5a" stroke-width="0.8"/>
<text transform="translate(302.2,217.6) rotate(-57)" font-size="4.4" text-anchor="end" fill="#111" stroke="#111" stroke-width="0.15">BS41L</text>
<path d="M311.5 214.5V217.4" stroke="#5a5a5a" stroke-width="0.8"/>
<text transform="translate(313.4,217.6) rotate(-57)" font-size="4.4" text-anchor="end" fill="#111" stroke="#111" stroke-width="0.15">BS42K</text>
<path d="M322.6 214.5V217.4" stroke="#5a5a5a" stroke-width="0.8"/>
<text transform="translate(324.5,217.6) rotate(-57)" font-size="4.4" text-anchor="end" fill="#111" stroke="#111" stroke-width="0.15">BS43F</text>
<path d="M333.7 214.5V217.4" stroke="#5a5a5a" stroke-width="0.8"/>
<text transform="translate(335.6,217.6) rotate(-57)" font-size="4.4" text-anchor="end" fill="#111" stroke="#111" stroke-width="0.15">BS44J</text>
<path d="M344.9 214.5V217.4" stroke="#5a5a5a" stroke-width="0.8"/>
<text transform="translate(346.8,217.6) rotate(-57)" font-size="4.4" text-anchor="end" fill="#111" stroke="#111" stroke-width="0.15">BS45L</text>
<path d="M356.0 214.5V217.4" stroke="#5a5a5a" stroke-width="0.8"/>
<text transform="translate(357.9,217.6) rotate(-57)" font-size="4.4" text-anchor="end" fill="#111" stroke="#111" stroke-width="0.15">BS46K</text>
<path d="M367.2 214.5V217.4" stroke="#5a5a5a" stroke-width="0.8"/>
<text transform="translate(369.1,217.6) rotate(-57)" font-size="4.4" text-anchor="end" fill="#111" stroke="#111" stroke-width="0.15">BS47F</text>
<path d="M378.3 214.5V217.4" stroke="#5a5a5a" stroke-width="0.8"/>
<text transform="translate(380.2,217.6) rotate(-57)" font-size="4.4" text-anchor="end" fill="#111" stroke="#111" stroke-width="0.15">BS48J</text>
<path d="M389.4 214.5V217.4" stroke="#5a5a5a" stroke-width="0.8"/>
<text transform="translate(391.3,217.6) rotate(-57)" font-size="4.4" text-anchor="end" fill="#111" stroke="#111" stroke-width="0.15">BS49L</text>
<path d="M400.6 214.5V217.4" stroke="#5a5a5a" stroke-width="0.8"/>
<text transform="translate(402.5,217.6) rotate(-57)" font-size="4.4" text-anchor="end" fill="#111" stroke="#111" stroke-width="0.15">BS50K</text>
<path d="M411.7 214.5V217.4" stroke="#5a5a5a" stroke-width="0.8"/>
<text transform="translate(413.6,217.6) rotate(-57)" font-size="4.4" text-anchor="end" fill="#111" stroke="#111" stroke-width="0.15">BS51F</text>
<path d="M422.9 214.5V217.4" stroke="#5a5a5a" stroke-width="0.8"/>
<text transform="translate(424.8,217.6) rotate(-57)" font-size="4.4" text-anchor="end" fill="#111" stroke="#111" stroke-width="0.15">BS52J</text>
<path d="M434.0 214.5V217.4" stroke="#5a5a5a" stroke-width="0.8"/>
<text transform="translate(435.9,217.6) rotate(-57)" font-size="4.4" text-anchor="end" fill="#111" stroke="#111" stroke-width="0.15">BS53L</text>
<path d="M445.1 214.5V217.4" stroke="#5a5a5a" stroke-width="0.8"/>
<text transform="translate(447.0,217.6) rotate(-57)" font-size="4.4" text-anchor="end" fill="#111" stroke="#111" stroke-width="0.15">BS54K</text>
<path d="M456.3 214.5V217.4" stroke="#5a5a5a" stroke-width="0.8"/>
<text transform="translate(458.2,217.6) rotate(-57)" font-size="4.4" text-anchor="end" fill="#111" stroke="#111" stroke-width="0.15">BS55F</text>
<path d="M467.4 214.5V217.4" stroke="#5a5a5a" stroke-width="0.8"/>
<text transform="translate(469.3,217.6) rotate(-57)" font-size="4.4" text-anchor="end" fill="#111" stroke="#111" stroke-width="0.15">BS56J</text>
<path d="M478.6 214.5V217.4" stroke="#5a5a5a" stroke-width="0.8"/>
<text transform="translate(480.5,217.6) rotate(-57)" font-size="4.4" text-anchor="end" fill="#111" stroke="#111" stroke-width="0.15">BS57L</text>
<path d="M489.7 214.5V217.4" stroke="#5a5a5a" stroke-width="0.8"/>
<text transform="translate(491.6,217.6) rotate(-57)" font-size="4.4" text-anchor="end" fill="#111" stroke="#111" stroke-width="0.15">BS58K</text>
<path d="M500.8 214.5V217.4" stroke="#5a5a5a" stroke-width="0.8"/>
<text transform="translate(502.7,217.6) rotate(-57)" font-size="4.4" text-anchor="end" fill="#111" stroke="#111" stroke-width="0.15">BS59F</text>
<path d="M512.0 214.5V217.4" stroke="#5a5a5a" stroke-width="0.8"/>
<text transform="translate(513.9,217.6) rotate(-57)" font-size="4.4" text-anchor="end" fill="#111" stroke="#111" stroke-width="0.15">BS60J</text>
<path d="M523.1 214.5V217.4" stroke="#5a5a5a" stroke-width="0.8"/>
<text transform="translate(525.0,217.6) rotate(-57)" font-size="4.4" text-anchor="end" fill="#111" stroke="#111" stroke-width="0.15">BS61L</text>
<path d="M534.3 214.5V217.4" stroke="#5a5a5a" stroke-width="0.8"/>
<text transform="translate(536.2,217.6) rotate(-57)" font-size="4.4" text-anchor="end" fill="#111" stroke="#111" stroke-width="0.15">BS62K</text>
<path d="M545.4 214.5V217.4" stroke="#5a5a5a" stroke-width="0.8"/>
<text transform="translate(547.3,217.6) rotate(-57)" font-size="4.4" text-anchor="end" fill="#111" stroke="#111" stroke-width="0.15">BS63F</text>
<path d="M556.5 214.5V217.4" stroke="#5a5a5a" stroke-width="0.8"/>
<text transform="translate(558.4,217.6) rotate(-57)" font-size="4.4" text-anchor="end" fill="#111" stroke="#111" stroke-width="0.15">BS64J</text>
<path d="M567.7 214.5V217.4" stroke="#5a5a5a" stroke-width="0.8"/>
<text transform="translate(569.6,217.6) rotate(-57)" font-size="4.4" text-anchor="end" fill="#111" stroke="#111" stroke-width="0.15">BS65L</text>
<path d="M578.8 214.5V217.4" stroke="#5a5a5a" stroke-width="0.8"/>
<text transform="translate(580.7,217.6) rotate(-57)" font-size="4.4" text-anchor="end" fill="#111" stroke="#111" stroke-width="0.15">BS66K</text>
<rect x="592.8" y="11.60" width="3.5" height="3.5" fill="#b23636"/>
<text x="601.6" y="16.10" font-size="8.15" fill="#111" stroke="#111" stroke-width="0.16">B cells naive</text>
<rect x="592.8" y="20.96" width="3.5" height="3.5" fill="#b25836"/>
<text x="601.6" y="25.46" font-size="8.15" fill="#111" stroke="#111" stroke-width="0.16">B cells memory</text>
<rect x="592.8" y="30.32" width="3.5" height="3.5" fill="#b27a36"/>
<text x="601.6" y="34.82" font-size="8.15" fill="#111" stroke="#111" stroke-width="0.16">Plasma cells</text>
<rect x="592.8" y="39.68" width="3.5" height="3.5" fill="#b29c36"/>
<text x="601.6" y="44.18" font-size="8.15" fill="#111" stroke="#111" stroke-width="0.16">T cells CD8</text>
<rect x="592.8" y="49.04" width="3.5" height="3.5" fill="#a7b236"/>
<text x="601.6" y="53.54" font-size="8.15" fill="#111" stroke="#111" stroke-width="0.16">T cells CD4 naive</text>
<rect x="592.8" y="58.40" width="3.5" height="3.5" fill="#85b236"/>
<text x="601.6" y="62.90" font-size="8.15" fill="#111" stroke="#111" stroke-width="0.16">T cells CD4 memory resting</text>
<rect x="592.8" y="67.76" width="3.5" height="3.5" fill="#63b236"/>
<text x="601.6" y="72.26" font-size="8.15" fill="#111" stroke="#111" stroke-width="0.16">T cells CD4 memory activated</text>
<rect x="592.8" y="77.12" width="3.5" height="3.5" fill="#41b236"/>
<text x="601.6" y="81.62" font-size="8.15" fill="#111" stroke="#111" stroke-width="0.16">T cells follicular helper</text>
<rect x="592.8" y="86.48" width="3.5" height="3.5" fill="#36b24c"/>
<text x="601.6" y="90.98" font-size="8.15" fill="#111" stroke="#111" stroke-width="0.16">T cells regulatory (Tregs)</text>
<rect x="592.8" y="95.84" width="3.5" height="3.5" fill="#36b26e"/>
<text x="601.6" y="100.34" font-size="8.15" fill="#111" stroke="#111" stroke-width="0.16">T cells gamma delta</text>
<rect x="592.8" y="105.20" width="3.5" height="3.5" fill="#36b290"/>
<text x="601.6" y="109.70" font-size="8.15" fill="#111" stroke="#111" stroke-width="0.16">NK cells resting</text>
<rect x="592.8" y="114.56" width="3.5" height="3.5" fill="#36b2b2"/>
<text x="601.6" y="119.06" font-size="8.15" fill="#111" stroke="#111" stroke-width="0.16">NK cells activated</text>
<rect x="592.8" y="123.92" width="3.5" height="3.5" fill="#3690b2"/>
<text x="601.6" y="128.42" font-size="8.15" fill="#111" stroke="#111" stroke-width="0.16">Monocytes</text>
<rect x="592.8" y="133.28" width="3.5" height="3.5" fill="#366eb2"/>
<text x="601.6" y="137.78" font-size="8.15" fill="#111" stroke="#111" stroke-width="0.16">Macrophages M0</text>
<rect x="592.8" y="142.64" width="3.5" height="3.5" fill="#364cb2"/>
<text x="601.6" y="147.14" font-size="8.15" fill="#111" stroke="#111" stroke-width="0.16">Macrophages M1</text>
<rect x="592.8" y="152.00" width="3.5" height="3.5" fill="#4136b2"/>
<text x="601.6" y="156.50" font-size="8.15" fill="#111" stroke="#111" stroke-width="0.16">Macrophages M2</text>
<rect x="592.8" y="161.36" width="3.5" height="3.5" fill="#6336b2"/>
<text x="601.6" y="165.86" font-size="8.15" fill="#111" stroke="#111" stroke-width="0.16">Dendritic cells resting</text>
<rect x="592.8" y="170.72" width="3.5" height="3.5" fill="#8536b2"/>
<text x="601.6" y="175.22" font-size="8.15" fill="#111" stroke="#111" stroke-width="0.16">Dendritic cells activated</text>
<rect x="592.8" y="180.08" width="3.5" height="3.5" fill="#a736b2"/>
<text x="601.6" y="184.58" font-size="8.15" fill="#111" stroke="#111" stroke-width="0.16">Mast cells resting</text>
<rect x="592.8" y="189.44" width="3.5" height="3.5" fill="#b2369c"/>
<text x="601.6" y="193.94" font-size="8.15" fill="#111" stroke="#111" stroke-width="0.16">Mast cells activated</text>
<rect x="592.8" y="198.80" width="3.5" height="3.5" fill="#b2367a"/>
<text x="601.6" y="203.30" font-size="8.15" fill="#111" stroke="#111" stroke-width="0.16">Eosinophils</text>
<rect x="592.8" y="208.16" width="3.5" height="3.5" fill="#b23658"/>
<text x="601.6" y="212.66" font-size="8.15" fill="#111" stroke="#111" stroke-width="0.16">Neutrophils</text>
</g>
<g id="pb" font-family="Liberation Sans, sans-serif">
<text x="-0.2" y="263.1" font-size="21" font-weight="bold">b</text>
<rect x="45.30" y="256.4" width="11.07" height="6.7" fill="#00d0d0" stroke="#9a9a9a" stroke-width="0.5"/>
<rect x="56.37" y="256.4" width="11.07" height="6.7" fill="#00d0d0" stroke="#9a9a9a" stroke-width="0.5"/>
<rect x="67.43" y="256.4" width="11.07" height="6.7" fill="#00d0d0" stroke="#9a9a9a" stroke-width="0.5"/>
<rect x="78.50" y="256.4" width="11.07" height="6.7" fill="#00d0d0" stroke="#9a9a9a" stroke-width="0.5"/>
<rect x="89.56" y="256.4" width="11.07" height="6.7" fill="#00d0d0" stroke="#9a9a9a" stroke-width="0.5"/>
<rect x="100.63" y="256.4" width="11.07" height="6.7" fill="#00d0d0" stroke="#9a9a9a" stroke-width="0.5"/>
<rect x="111.70" y="256.4" width="11.07" height="6.7" fill="#00d0d0" stroke="#9a9a9a" stroke-width="0.5"/>
<rect x="122.76" y="256.4" width="11.07" height="6.7" fill="#00d0d0" stroke="#9a9a9a" stroke-width="0.5"/>
<rect x="133.83" y="256.4" width="11.07" height="6.7" fill="#00d0d0" stroke="#9a9a9a" stroke-width="0.5"/>
<rect x="144.89" y="256.4" width="11.07" height="6.7" fill="#00d0d0" stroke="#9a9a9a" stroke-width="0.5"/>
<rect x="155.96" y="256.4" width="11.07" height="6.7" fill="#00d0d0" stroke="#9a9a9a" stroke-width="0.5"/>
<rect x="167.03" y="256.4" width="11.07" height="6.7" fill="#00d0d0" stroke="#9a9a9a" stroke-width="0.5"/>
<rect x="178.09" y="256.4" width="11.07" height="6.7" fill="#00d0d0" stroke="#9a9a9a" stroke-width="0.5"/>
<rect x="189.16" y="256.4" width="11.07" height="6.7" fill="#00d0d0" stroke="#9a9a9a" stroke-width="0.5"/>
<rect x="200.22" y="256.4" width="11.07" height="6.7" fill="#00d0d0" stroke="#9a9a9a" stroke-width="0.5"/>
<rect x="211.29" y="256.4" width="11.07" height="6.7" fill="#00d0d0" stroke="#9a9a9a" stroke-width="0.5"/>
<rect x="222.36" y="256.4" width="11.07" height="6.7" fill="#00d0d0" stroke="#9a9a9a" stroke-width="0.5"/>
<rect x="233.42" y="256.4" width="11.07" height="6.7" fill="#00d0d0" stroke="#9a9a9a" stroke-width="0.5"/>
<rect x="244.49" y="256.4" width="11.07" height="6.7" fill="#f88a80" stroke="#9a9a9a" stroke-width="0.5"/>
<rect x="255.55" y="256.4" width="11.07" height="6.7" fill="#f88a80" stroke="#9a9a9a" stroke-width="0.5"/>
<rect x="266.62" y="256.4" width="11.07" height="6.7" fill="#f88a80" stroke="#9a9a9a" stroke-width="0.5"/>
<rect x="277.69" y="256.4" width="11.07" height="6.7" fill="#f88a80" stroke="#9a9a9a" stroke-width="0.5"/>
<rect x="288.75" y="256.4" width="11.07" height="6.7" fill="#f88a80" stroke="#9a9a9a" stroke-width="0.5"/>
<rect x="299.82" y="256.4" width="11.07" height="6.7" fill="#f88a80" stroke="#9a9a9a" stroke-width="0.5"/>
<rect x="310.88" y="256.4" width="11.07" height="6.7" fill="#f88a80" stroke="#9a9a9a" stroke-width="0.5"/>
<rect x="321.95" y="256.4" width="11.07" height="6.7" fill="#f88a80" stroke="#9a9a9a" stroke-width="0.5"/>
<rect x="333.02" y="256.4" width="11.07" height="6.7" fill="#f88a80" stroke="#9a9a9a" stroke-width="0.5"/>
<rect x="344.08" y="256.4" width="11.07" height="6.7" fill="#f88a80" stroke="#9a9a9a" stroke-width="0.5"/>
<rect x="355.15" y="256.4" width="11.07" height="6.7" fill="#f88a80" stroke="#9a9a9a" stroke-width="0.5"/>
<rect x="366.21" y="256.4" width="11.07" height="6.7" fill="#f88a80" stroke="#9a9a9a" stroke-width="0.5"/>
<rect x="377.28" y="256.4" width="11.07" height="6.7" fill="#f88a80" stroke="#9a9a9a" stroke-width="0.5"/>
<rect x="388.35" y="256.4" width="11.07" height="6.7" fill="#f88a80" stroke="#9a9a9a" stroke-width="0.5"/>
<rect x="399.41" y="256.4" width="11.07" height="6.7" fill="#f88a80" stroke="#9a9a9a" stroke-width="0.5"/>
<rect x="410.48" y="256.4" width="11.07" height="6.7" fill="#f88a80" stroke="#9a9a9a" stroke-width="0.5"/>
<rect x="421.54" y="256.4" width="11.07" height="6.7" fill="#f88a80" stroke="#9a9a9a" stroke-width="0.5"/>
<rect x="432.61" y="256.4" width="11.07" height="6.7" fill="#f88a80" stroke="#9a9a9a" stroke-width="0.5"/>
<rect x="443.68" y="256.4" width="11.07" height="6.7" fill="#f88a80" stroke="#9a9a9a" stroke-width="0.5"/>
<rect x="454.74" y="256.4" width="11.07" height="6.7" fill="#f88a80" stroke="#9a9a9a" stroke-width="0.5"/>
<rect x="465.81" y="256.4" width="11.07" height="6.7" fill="#f88a80" stroke="#9a9a9a" stroke-width="0.5"/>
<rect x="476.87" y="256.4" width="11.07" height="6.7" fill="#f88a80" stroke="#9a9a9a" stroke-width="0.5"/>
<rect x="487.94" y="256.4" width="11.07" height="6.7" fill="#f88a80" stroke="#9a9a9a" stroke-width="0.5"/>
<rect x="499.01" y="256.4" width="11.07" height="6.7" fill="#f88a80" stroke="#9a9a9a" stroke-width="0.5"/>
<rect x="510.07" y="256.4" width="11.07" height="6.7" fill="#f88a80" stroke="#9a9a9a" stroke-width="0.5"/>
<rect x="521.14" y="256.4" width="11.07" height="6.7" fill="#f88a80" stroke="#9a9a9a" stroke-width="0.5"/>
<rect x="45.3" y="265.1" width="486.90" height="343.68" fill="#fff"/>
<rect x="45.30" y="265.10" width="11.07" height="15.62" fill="#c5c5ff"/>
<rect x="56.37" y="265.10" width="11.07" height="15.62" fill="#6f6fff"/>
<rect x="67.43" y="265.10" width="11.07" height="15.62" fill="#5252ff"/>
<rect x="78.50" y="265.10" width="11.07" height="15.62" fill="#a8a8ff"/>
<rect x="89.56" y="265.10" width="11.07" height="15.62" fill="#c5c5ff"/>
<rect x="100.63" y="265.10" width="11.07" height="15.62" fill="#3535ff"/>
<rect x="111.70" y="265.10" width="11.07" height="15.62" fill="#3535ff"/>
<rect x="122.76" y="265.10" width="11.07" height="15.62" fill="#e2e2ff"/>
<rect x="133.83" y="265.10" width="11.07" height="15.62" fill="#1818ff"/>
<rect x="144.89" y="265.10" width="11.07" height="15.62" fill="#6f6fff"/>
<rect x="155.96" y="265.10" width="11.07" height="15.62" fill="#8c8cff"/>
<rect x="178.09" y="265.10" width="11.07" height="15.62" fill="#c5c5ff"/>
<rect x="189.16" y="265.10" width="11.07" height="15.62" fill="#3535ff"/>
<rect x="200.22" y="265.10" width="11.07" height="15.62" fill="#5252ff"/>
<rect x="211.29" y="265.10" width="11.07" height="15.62" fill="#a8a8ff"/>
<rect x="222.36" y="265.10" width="11.07" height="15.62" fill="#a8a8ff"/>
<rect x="233.42" y="265.10" width="11.07" height="15.62" fill="#6f6fff"/>
<rect x="244.49" y="265.10" width="11.07" height="15.62" fill="#e2e2ff"/>
<rect x="255.55" y="265.10" width="11.07" height="15.62" fill="#5252ff"/>
<rect x="266.62" y="265.10" width="11.07" height="15.62" fill="#c5c5ff"/>
<rect x="277.69" y="265.10" width="11.07" height="15.62" fill="#8c8cff"/>
<rect x="288.75" y="265.10" width="11.07" height="15.62" fill="#0500fa"/>
<rect x="299.82" y="265.10" width="11.07" height="15.62" fill="#c5c5ff"/>
<rect x="310.88" y="265.10" width="11.07" height="15.62" fill="#a8a8ff"/>
<rect x="321.95" y="265.10" width="11.07" height="15.62" fill="#0500fa"/>
<rect x="333.02" y="265.10" width="11.07" height="15.62" fill="#f1f1ff"/>
<rect x="344.08" y="265.10" width="11.07" height="15.62" fill="#6f6fff"/>
<rect x="355.15" y="265.10" width="11.07" height="15.62" fill="#6f6fff"/>
<rect x="377.28" y="265.10" width="11.07" height="15.62" fill="#c5c5ff"/>
<rect x="388.35" y="265.10" width="11.07" height="15.62" fill="#a8a8ff"/>
<rect x="399.41" y="265.10" width="11.07" height="15.62" fill="#3535ff"/>
<rect x="410.48" y="265.10" width="11.07" height="15.62" fill="#5252ff"/>
<rect x="421.54" y="265.10" width="11.07" height="15.62" fill="#c5c5ff"/>
<rect x="432.61" y="265.10" width="11.07" height="15.62" fill="#1818ff"/>
<rect x="443.68" y="265.10" width="11.07" height="15.62" fill="#e2e2ff"/>
<rect x="454.74" y="265.10" width="11.07" height="15.62" fill="#5b00a4"/>
<rect x="465.81" y="265.10" width="11.07" height="15.62" fill="#c5c5ff"/>
<rect x="476.87" y="265.10" width="11.07" height="15.62" fill="#c5c5ff"/>
<rect x="487.94" y="265.10" width="11.07" height="15.62" fill="#5252ff"/>
<rect x="499.01" y="265.10" width="11.07" height="15.62" fill="#6f6fff"/>
<rect x="510.07" y="265.10" width="11.07" height="15.62" fill="#a8a8ff"/>
<rect x="521.14" y="265.10" width="11.07" height="15.62" fill="#c5c5ff"/>
<rect x="56.37" y="280.72" width="11.07" height="15.62" fill="#8c8cff"/>
<rect x="111.70" y="280.72" width="11.07" height="15.62" fill="#a8a8ff"/>
<rect x="122.76" y="280.72" width="11.07" height="15.62" fill="#8c8cff"/>
<rect x="155.96" y="280.72" width="11.07" height="15.62" fill="#1818ff"/>
<rect x="189.16" y="280.72" width="11.07" height="15.62" fill="#5252ff"/>
<rect x="200.22" y="280.72" width="11.07" height="15.62" fill="#c5c5ff"/>
<rect x="211.29" y="280.72" width="11.07" height="15.62" fill="#6f6fff"/>
<rect x="222.36" y="280.72" width="11.07" height="15.62" fill="#e2e2ff"/>
<rect x="233.42" y="280.72" width="11.07" height="15.62" fill="#e2e2ff"/>
<rect x="244.49" y="280.72" width="11.07" height="15.62" fill="#e2e2ff"/>
<rect x="266.62" y="280.72" width="11.07" height="15.62" fill="#5252ff"/>
<rect x="277.69" y="280.72" width="11.07" height="15.62" fill="#8c8cff"/>
<rect x="288.75" y="280.72" width="11.07" height="15.62" fill="#6f6fff"/>
<rect x="344.08" y="280.72" width="11.07" height="15.62" fill="#8c8cff"/>
<rect x="366.21" y="280.72" width="11.07" height="15.62" fill="#c5c5ff"/>
<rect x="377.28" y="280.72" width="11.07" height="15.62" fill="#a8a8ff"/>
<rect x="388.35" y="280.72" width="11.07" height="15.62" fill="#a8a8ff"/>
<rect x="410.48" y="280.72" width="11.07" height="15.62" fill="#a8a8ff"/>
<rect x="432.61" y="280.72" width="11.07" height="15.62" fill="#c5c5ff"/>
<rect x="443.68" y="280.72" width="11.07" height="15.62" fill="#6f6fff"/>
<rect x="465.81" y="280.72" width="11.07" height="15.62" fill="#5252ff"/>
<rect x="476.87" y="280.72" width="11.07" height="15.62" fill="#c5c5ff"/>
<rect x="521.14" y="280.72" width="11.07" height="15.62" fill="#c5c5ff"/>
<rect x="266.62" y="296.34" width="11.07" height="15.62" fill="#ceceff"/>
<rect x="288.75" y="296.34" width="11.07" height="15.62" fill="#d1d1ff"/>
<rect x="299.82" y="296.34" width="11.07" height="15.62" fill="#e8e8ff"/>
<rect x="310.88" y="296.34" width="11.07" height="15.62" fill="#f3f3ff"/>
<rect x="321.95" y="296.34" width="11.07" height="15.62" fill="#dcdcff"/>
<rect x="333.02" y="296.34" width="11.07" height="15.62" fill="#d1d1ff"/>
<rect x="344.08" y="296.34" width="11.07" height="15.62" fill="#e8e8ff"/>
<rect x="355.15" y="296.34" width="11.07" height="15.62" fill="#e8e8ff"/>
<rect x="388.35" y="296.34" width="11.07" height="15.62" fill="#d1d1ff"/>
<rect x="399.41" y="296.34" width="11.07" height="15.62" fill="#d1d1ff"/>
<rect x="410.48" y="296.34" width="11.07" height="15.62" fill="#e8e8ff"/>
<rect x="421.54" y="296.34" width="11.07" height="15.62" fill="#dcdcff"/>
<rect x="432.61" y="296.34" width="11.07" height="15.62" fill="#dcdcff"/>
<rect x="443.68" y="296.34" width="11.07" height="15.62" fill="#babaff"/>
<rect x="454.74" y="296.34" width="11.07" height="15.62" fill="#e8e8ff"/>
<rect x="465.81" y="296.34" width="11.07" height="15.62" fill="#dcdcff"/>
<rect x="487.94" y="296.34" width="11.07" height="15.62" fill="#b7b7ff"/>
<rect x="499.01" y="296.34" width="11.07" height="15.62" fill="#b7b7ff"/>
<rect x="521.14" y="296.34" width="11.07" height="15.62" fill="#e8e8ff"/>
<rect x="45.30" y="311.97" width="11.07" height="15.62" fill="#a8a8ff"/>
<rect x="67.43" y="311.97" width="11.07" height="15.62" fill="#a8a8ff"/>
<rect x="89.56" y="311.97" width="11.07" height="15.62" fill="#e2e2ff"/>
<rect x="100.63" y="311.97" width="11.07" height="15.62" fill="#f1f1ff"/>
<rect x="122.76" y="311.97" width="11.07" height="15.62" fill="#e2e2ff"/>
<rect x="167.03" y="311.97" width="11.07" height="15.62" fill="#e2e2ff"/>
<rect x="178.09" y="311.97" width="11.07" height="15.62" fill="#e2e2ff"/>
<rect x="189.16" y="311.97" width="11.07" height="15.62" fill="#e2e2ff"/>
<rect x="233.42" y="311.97" width="11.07" height="15.62" fill="#d4d4ff"/>
<rect x="78.50" y="327.59" width="11.07" height="15.62" fill="#f1f1ff"/>
<rect x="89.56" y="327.59" width="11.07" height="15.62" fill="#f1f1ff"/>
<rect x="122.76" y="327.59" width="11.07" height="15.62" fill="#e2e2ff"/>
<rect x="144.89" y="327.59" width="11.07" height="15.62" fill="#a8a8ff"/>
<rect x="155.96" y="327.59" width="11.07" height="15.62" fill="#e2e2ff"/>
<rect x="167.03" y="327.59" width="11.07" height="15.62" fill="#f1f1ff"/>
<rect x="189.16" y="327.59" width="11.07" height="15.62" fill="#f1f1ff"/>
<rect x="200.22" y="327.59" width="11.07" height="15.62" fill="#f1f1ff"/>
<rect x="233.42" y="327.59" width="11.07" height="15.62" fill="#d4d4ff"/>
<rect x="244.49" y="343.21" width="11.07" height="15.62" fill="#e2e2ff"/>
<rect x="333.02" y="343.21" width="11.07" height="15.62" fill="#ebebff"/>
<rect x="443.68" y="343.21" width="11.07" height="15.62" fill="#f1f1ff"/>
<rect x="454.74" y="343.21" width="11.07" height="15.62" fill="#e2e2ff"/>
<rect x="499.01" y="343.21" width="11.07" height="15.62" fill="#e8e8ff"/>
<rect x="89.56" y="358.83" width="11.07" height="15.62" fill="#f1f1ff"/>
<rect x="244.49" y="358.83" width="11.07" height="15.62" fill="#e2e2ff"/>
<rect x="465.81" y="358.83" width="11.07" height="15.62" fill="#eeeeff"/>
<rect x="487.94" y="358.83" width="11.07" height="15.62" fill="#f3f3ff"/>
<rect x="45.30" y="452.56" width="11.07" height="15.62" fill="#f2f2ff"/>
<rect x="89.56" y="452.56" width="11.07" height="15.62" fill="#f7f7ff"/>
<rect x="144.89" y="452.56" width="11.07" height="15.62" fill="#f2f2ff"/>
<rect x="45.30" y="468.19" width="11.07" height="15.62" fill="#f2f2ff"/>
<rect x="78.50" y="468.19" width="11.07" height="15.62" fill="#f2f2ff"/>
<rect x="155.96" y="468.19" width="11.07" height="15.62" fill="#f5f5ff"/>
<rect x="167.03" y="468.19" width="11.07" height="15.62" fill="#f2f2ff"/>
<rect x="233.42" y="468.19" width="11.07" height="15.62" fill="#f2f2ff"/>
<rect x="244.49" y="468.19" width="11.07" height="15.62" fill="#f5f5ff"/>
<rect x="476.87" y="468.19" width="11.07" height="15.62" fill="#f2f2ff"/>
<rect x="111.70" y="483.81" width="11.07" height="15.62" fill="#d9d9ff"/>
<rect x="133.83" y="483.81" width="11.07" height="15.62" fill="#d9d9ff"/>
<rect x="155.96" y="483.81" width="11.07" height="15.62" fill="#ededff"/>
<rect x="189.16" y="483.81" width="11.07" height="15.62" fill="#d9d9ff"/>
<rect x="211.29" y="483.81" width="11.07" height="15.62" fill="#e6e6ff"/>
<rect x="222.36" y="483.81" width="11.07" height="15.62" fill="#e6e6ff"/>
<rect x="344.08" y="483.81" width="11.07" height="15.62" fill="#e6e6ff"/>
<rect x="399.41" y="483.81" width="11.07" height="15.62" fill="#e1e1ff"/>
<rect x="421.54" y="483.81" width="11.07" height="15.62" fill="#b3b3ff"/>
<rect x="432.61" y="483.81" width="11.07" height="15.62" fill="#f2f2ff"/>
<rect x="465.81" y="483.81" width="11.07" height="15.62" fill="#f2f2ff"/>
<rect x="487.94" y="483.81" width="11.07" height="15.62" fill="#d9d9ff"/>
<rect x="521.14" y="483.81" width="11.07" height="15.62" fill="#ededff"/>
<rect x="45.30" y="499.43" width="11.07" height="15.62" fill="#e6e6ff"/>
<rect x="56.37" y="499.43" width="11.07" height="15.62" fill="#e6e6ff"/>
<rect x="67.43" y="499.43" width="11.07" height="15.62" fill="#e6e6ff"/>
<rect x="78.50" y="499.43" width="11.07" height="15.62" fill="#ccccff"/>
<rect x="89.56" y="499.43" width="11.07" height="15.62" fill="#ccccff"/>
<rect x="100.63" y="499.43" width="11.07" height="15.62" fill="#f2f2ff"/>
<rect x="111.70" y="499.43" width="11.07" height="15.62" fill="#e6e6ff"/>
<rect x="122.76" y="499.43" width="11.07" height="15.62" fill="#d9d9ff"/>
<rect x="133.83" y="499.43" width="11.07" height="15.62" fill="#f2f2ff"/>
<rect x="144.89" y="499.43" width="11.07" height="15.62" fill="#f2f2ff"/>
<rect x="167.03" y="499.43" width="11.07" height="15.62" fill="#ccccff"/>
<rect x="178.09" y="499.43" width="11.07" height="15.62" fill="#f2f2ff"/>
<rect x="189.16" y="499.43" width="11.07" height="15.62" fill="#e6e6ff"/>
<rect x="200.22" y="499.43" width="11.07" height="15.62" fill="#d9d9ff"/>
<rect x="211.29" y="499.43" width="11.07" height="15.62" fill="#e6e6ff"/>
<rect x="222.36" y="499.43" width="11.07" height="15.62" fill="#e6e6ff"/>
<rect x="233.42" y="499.43" width="11.07" height="15.62" fill="#bfbfff"/>
<rect x="244.49" y="499.43" width="11.07" height="15.62" fill="#f2f2ff"/>
<rect x="277.69" y="499.43" width="11.07" height="15.62" fill="#e6e6ff"/>
<rect x="288.75" y="499.43" width="11.07" height="15.62" fill="#e6e6ff"/>
<rect x="310.88" y="499.43" width="11.07" height="15.62" fill="#f7f7ff"/>
<rect x="333.02" y="499.43" width="11.07" height="15.62" fill="#e6e6ff"/>
<rect x="344.08" y="499.43" width="11.07" height="15.62" fill="#e6e6ff"/>
<rect x="366.21" y="499.43" width="11.07" height="15.62" fill="#f7f7ff"/>
<rect x="377.28" y="499.43" width="11.07" height="15.62" fill="#ededff"/>
<rect x="388.35" y="499.43" width="11.07" height="15.62" fill="#d9d9ff"/>
<rect x="410.48" y="499.43" width="11.07" height="15.62" fill="#e6e6ff"/>
<rect x="432.61" y="499.43" width="11.07" height="15.62" fill="#f2f2ff"/>
<rect x="454.74" y="499.43" width="11.07" height="15.62" fill="#f2f2ff"/>
<rect x="465.81" y="499.43" width="11.07" height="15.62" fill="#f2f2ff"/>
<rect x="476.87" y="499.43" width="11.07" height="15.62" fill="#ccccff"/>
<rect x="487.94" y="499.43" width="11.07" height="15.62" fill="#bfbfff"/>
<rect x="499.01" y="499.43" width="11.07" height="15.62" fill="#f2f2ff"/>
<rect x="510.07" y="499.43" width="11.07" height="15.62" fill="#f2f2ff"/>
<rect x="521.14" y="499.43" width="11.07" height="15.62" fill="#f2f2ff"/>
<rect x="45.30" y="515.05" width="11.07" height="15.62" fill="#ebebff"/>
<rect x="67.43" y="515.05" width="11.07" height="15.62" fill="#f5f5ff"/>
<rect x="100.63" y="515.05" width="11.07" height="15.62" fill="#f5f5ff"/>
<rect x="111.70" y="515.05" width="11.07" height="15.62" fill="#f9f9ff"/>
<rect x="122.76" y="515.05" width="11.07" height="15.62" fill="#f5f5ff"/>
<rect x="133.83" y="515.05" width="11.07" height="15.62" fill="#f9f9ff"/>
<rect x="144.89" y="515.05" width="11.07" height="15.62" fill="#f9f9ff"/>
<rect x="155.96" y="515.05" width="11.07" height="15.62" fill="#efefff"/>
<rect x="167.03" y="515.05" width="11.07" height="15.62" fill="#f5f5ff"/>
<rect x="178.09" y="515.05" width="11.07" height="15.62" fill="#f9f9ff"/>
<rect x="189.16" y="515.05" width="11.07" height="15.62" fill="#f9f9ff"/>
<rect x="200.22" y="515.05" width="11.07" height="15.62" fill="#f9f9ff"/>
<rect x="211.29" y="515.05" width="11.07" height="15.62" fill="#f9f9ff"/>
<rect x="222.36" y="515.05" width="11.07" height="15.62" fill="#f9f9ff"/>
<rect x="233.42" y="515.05" width="11.07" height="15.62" fill="#f9f9ff"/>
<rect x="244.49" y="515.05" width="11.07" height="15.62" fill="#f9f9ff"/>
<rect x="266.62" y="515.05" width="11.07" height="15.62" fill="#f5f5ff"/>
<rect x="299.82" y="515.05" width="11.07" height="15.62" fill="#f7f7ff"/>
<rect x="310.88" y="515.05" width="11.07" height="15.62" fill="#f7f7ff"/>
<rect x="333.02" y="515.05" width="11.07" height="15.62" fill="#ebebff"/>
<rect x="344.08" y="515.05" width="11.07" height="15.62" fill="#f7f7ff"/>
<rect x="355.15" y="515.05" width="11.07" height="15.62" fill="#f9f9ff"/>
<rect x="377.28" y="515.05" width="11.07" height="15.62" fill="#f7f7ff"/>
<rect x="399.41" y="515.05" width="11.07" height="15.62" fill="#f7f7ff"/>
<rect x="421.54" y="515.05" width="11.07" height="15.62" fill="#e7e7ff"/>
<rect x="432.61" y="515.05" width="11.07" height="15.62" fill="#f9f9ff"/>
<rect x="465.81" y="515.05" width="11.07" height="15.62" fill="#e1e1ff"/>
<rect x="476.87" y="515.05" width="11.07" height="15.62" fill="#d7d7ff"/>
<rect x="487.94" y="515.05" width="11.07" height="15.62" fill="#d7d7ff"/>
<rect x="499.01" y="515.05" width="11.07" height="15.62" fill="#f5f5ff"/>
<rect x="521.14" y="515.05" width="11.07" height="15.62" fill="#d7d7ff"/>
<rect x="45.30" y="530.67" width="11.07" height="15.62" fill="#f2f2ff"/>
<rect x="56.37" y="530.67" width="11.07" height="15.62" fill="#f7f7ff"/>
<rect x="78.50" y="530.67" width="11.07" height="15.62" fill="#d9d9ff"/>
<rect x="89.56" y="530.67" width="11.07" height="15.62" fill="#d9d9ff"/>
<rect x="100.63" y="530.67" width="11.07" height="15.62" fill="#f2f2ff"/>
<rect x="111.70" y="530.67" width="11.07" height="15.62" fill="#f2f2ff"/>
<rect x="122.76" y="530.67" width="11.07" height="15.62" fill="#f2f2ff"/>
<rect x="133.83" y="530.67" width="11.07" height="15.62" fill="#f2f2ff"/>
<rect x="144.89" y="530.67" width="11.07" height="15.62" fill="#f7f7ff"/>
<rect x="155.96" y="530.67" width="11.07" height="15.62" fill="#f2f2ff"/>
<rect x="167.03" y="530.67" width="11.07" height="15.62" fill="#ccccff"/>
<rect x="178.09" y="530.67" width="11.07" height="15.62" fill="#f2f2ff"/>
<rect x="189.16" y="530.67" width="11.07" height="15.62" fill="#f2f2ff"/>
<rect x="200.22" y="530.67" width="11.07" height="15.62" fill="#f2f2ff"/>
<rect x="211.29" y="530.67" width="11.07" height="15.62" fill="#f2f2ff"/>
<rect x="222.36" y="530.67" width="11.07" height="15.62" fill="#f7f7ff"/>
<rect x="233.42" y="530.67" width="11.07" height="15.62" fill="#e6e6ff"/>
<rect x="244.49" y="530.67" width="11.07" height="15.62" fill="#f2f2ff"/>
<rect x="255.55" y="530.67" width="11.07" height="15.62" fill="#f7f7ff"/>
<rect x="288.75" y="530.67" width="11.07" height="15.62" fill="#f2f2ff"/>
<rect x="299.82" y="530.67" width="11.07" height="15.62" fill="#f7f7ff"/>
<rect x="321.95" y="530.67" width="11.07" height="15.62" fill="#f5f5ff"/>
<rect x="344.08" y="530.67" width="11.07" height="15.62" fill="#f7f7ff"/>
<rect x="355.15" y="530.67" width="11.07" height="15.62" fill="#f7f7ff"/>
<rect x="366.21" y="530.67" width="11.07" height="15.62" fill="#f7f7ff"/>
<rect x="388.35" y="530.67" width="11.07" height="15.62" fill="#f7f7ff"/>
<rect x="399.41" y="530.67" width="11.07" height="15.62" fill="#f7f7ff"/>
<rect x="410.48" y="530.67" width="11.07" height="15.62" fill="#f7f7ff"/>
<rect x="432.61" y="530.67" width="11.07" height="15.62" fill="#f7f7ff"/>
<rect x="465.81" y="530.67" width="11.07" height="15.62" fill="#bfbfff"/>
<rect x="476.87" y="530.67" width="11.07" height="15.62" fill="#f2f2ff"/>
<rect x="510.07" y="530.67" width="11.07" height="15.62" fill="#e6e6ff"/>
<rect x="521.14" y="530.67" width="11.07" height="15.62" fill="#f7f7ff"/>
<rect x="45.30" y="546.30" width="11.07" height="15.62" fill="#ccccff"/>
<rect x="56.37" y="546.30" width="11.07" height="15.62" fill="#e6e6ff"/>
<rect x="67.43" y="546.30" width="11.07" height="15.62" fill="#bfbfff"/>
<rect x="78.50" y="546.30" width="11.07" height="15.62" fill="#d9d9ff"/>
<rect x="89.56" y="546.30" width="11.07" height="15.62" fill="#f2f2ff"/>
<rect x="100.63" y="546.30" width="11.07" height="15.62" fill="#bfbfff"/>
<rect x="111.70" y="546.30" width="11.07" height="15.62" fill="#bfbfff"/>
<rect x="122.76" y="546.30" width="11.07" height="15.62" fill="#bfbfff"/>
<rect x="133.83" y="546.30" width="11.07" height="15.62" fill="#d9d9ff"/>
<rect x="144.89" y="546.30" width="11.07" height="15.62" fill="#ccccff"/>
<rect x="155.96" y="546.30" width="11.07" height="15.62" fill="#a6a6ff"/>
<rect x="167.03" y="546.30" width="11.07" height="15.62" fill="#ccccff"/>
<rect x="178.09" y="546.30" width="11.07" height="15.62" fill="#d9d9ff"/>
<rect x="189.16" y="546.30" width="11.07" height="15.62" fill="#b3b3ff"/>
<rect x="200.22" y="546.30" width="11.07" height="15.62" fill="#e6e6ff"/>
<rect x="211.29" y="546.30" width="11.07" height="15.62" fill="#bfbfff"/>
<rect x="222.36" y="546.30" width="11.07" height="15.62" fill="#bfbfff"/>
<rect x="233.42" y="546.30" width="11.07" height="15.62" fill="#f7f7ff"/>
<rect x="244.49" y="546.30" width="11.07" height="15.62" fill="#b3b3ff"/>
<rect x="255.55" y="546.30" width="11.07" height="15.62" fill="#b3b3ff"/>
<rect x="266.62" y="546.30" width="11.07" height="15.62" fill="#d9d9ff"/>
<rect x="277.69" y="546.30" width="11.07" height="15.62" fill="#f2f2ff"/>
<rect x="288.75" y="546.30" width="11.07" height="15.62" fill="#e6e6ff"/>
<rect x="299.82" y="546.30" width="11.07" height="15.62" fill="#bfbfff"/>
<rect x="310.88" y="546.30" width="11.07" height="15.62" fill="#b3b3ff"/>
<rect x="321.95" y="546.30" width="11.07" height="15.62" fill="#e6e6ff"/>
<rect x="333.02" y="546.30" width="11.07" height="15.62" fill="#9999ff"/>
<rect x="344.08" y="546.30" width="11.07" height="15.62" fill="#bfbfff"/>
<rect x="355.15" y="546.30" width="11.07" height="15.62" fill="#ccccff"/>
<rect x="366.21" y="546.30" width="11.07" height="15.62" fill="#ccccff"/>
<rect x="377.28" y="546.30" width="11.07" height="15.62" fill="#bfbfff"/>
<rect x="388.35" y="546.30" width="11.07" height="15.62" fill="#d9d9ff"/>
<rect x="399.41" y="546.30" width="11.07" height="15.62" fill="#e6e6ff"/>
<rect x="410.48" y="546.30" width="11.07" height="15.62" fill="#a6a6ff"/>
<rect x="421.54" y="546.30" width="11.07" height="15.62" fill="#ededff"/>
<rect x="432.61" y="546.30" width="11.07" height="15.62" fill="#e6e6ff"/>
<rect x="443.68" y="546.30" width="11.07" height="15.62" fill="#b3b3ff"/>
<rect x="454.74" y="546.30" width="11.07" height="15.62" fill="#f2f2ff"/>
<rect x="465.81" y="546.30" width="11.07" height="15.62" fill="#f2f2ff"/>
<rect x="476.87" y="546.30" width="11.07" height="15.62" fill="#9999ff"/>
<rect x="487.94" y="546.30" width="11.07" height="15.62" fill="#ccccff"/>
<rect x="499.01" y="546.30" width="11.07" height="15.62" fill="#d9d9ff"/>
<rect x="510.07" y="546.30" width="11.07" height="15.62" fill="#f2f2ff"/>
<rect x="521.14" y="546.30" width="11.07" height="15.62" fill="#a6a6ff"/>
<rect x="45.30" y="561.92" width="11.07" height="15.62" fill="#b3b3ff"/>
<rect x="56.37" y="561.92" width="11.07" height="15.62" fill="#ccccff"/>
<rect x="67.43" y="561.92" width="11.07" height="15.62" fill="#b3b3ff"/>
<rect x="78.50" y="561.92" width="11.07" height="15.62" fill="#e6e6ff"/>
<rect x="89.56" y="561.92" width="11.07" height="15.62" fill="#9999ff"/>
<rect x="100.63" y="561.92" width="11.07" height="15.62" fill="#e6e6ff"/>
<rect x="111.70" y="561.92" width="11.07" height="15.62" fill="#ccccff"/>
<rect x="122.76" y="561.92" width="11.07" height="15.62" fill="#ccccff"/>
<rect x="144.89" y="561.92" width="11.07" height="15.62" fill="#ccccff"/>
<rect x="155.96" y="561.92" width="11.07" height="15.62" fill="#f2f2ff"/>
<rect x="167.03" y="561.92" width="11.07" height="15.62" fill="#8d8dff"/>
<rect x="178.09" y="561.92" width="11.07" height="15.62" fill="#e6e6ff"/>
<rect x="189.16" y="561.92" width="11.07" height="15.62" fill="#ccccff"/>
<rect x="200.22" y="561.92" width="11.07" height="15.62" fill="#d9d9ff"/>
<rect x="211.29" y="561.92" width="11.07" height="15.62" fill="#ccccff"/>
<rect x="222.36" y="561.92" width="11.07" height="15.62" fill="#e6e6ff"/>
<rect x="233.42" y="561.92" width="11.07" height="15.62" fill="#8d8dff"/>
<rect x="244.49" y="561.92" width="11.07" height="15.62" fill="#e6e6ff"/>
<rect x="266.62" y="561.92" width="11.07" height="15.62" fill="#e6e6ff"/>
<rect x="277.69" y="561.92" width="11.07" height="15.62" fill="#f2f2ff"/>
<rect x="310.88" y="561.92" width="11.07" height="15.62" fill="#f2f2ff"/>
<rect x="333.02" y="561.92" width="11.07" height="15.62" fill="#d9d9ff"/>
<rect x="344.08" y="561.92" width="11.07" height="15.62" fill="#e6e6ff"/>
<rect x="366.21" y="561.92" width="11.07" height="15.62" fill="#ccccff"/>
<rect x="377.28" y="561.92" width="11.07" height="15.62" fill="#e6e6ff"/>
<rect x="399.41" y="561.92" width="11.07" height="15.62" fill="#f2f2ff"/>
<rect x="421.54" y="561.92" width="11.07" height="15.62" fill="#f2f2ff"/>
<rect x="432.61" y="561.92" width="11.07" height="15.62" fill="#f2f2ff"/>
<rect x="465.81" y="561.92" width="11.07" height="15.62" fill="#0700f8"/>
<rect x="476.87" y="561.92" width="11.07" height="15.62" fill="#a6a6ff"/>
<rect x="487.94" y="561.92" width="11.07" height="15.62" fill="#bfbfff"/>
<rect x="499.01" y="561.92" width="11.07" height="15.62" fill="#f2f2ff"/>
<rect x="45.30" y="577.54" width="11.07" height="15.62" fill="#2b2bff"/>
<rect x="56.37" y="577.54" width="11.07" height="15.62" fill="#0500fa"/>
<rect x="67.43" y="577.54" width="11.07" height="15.62" fill="#0e00f1"/>
<rect x="78.50" y="577.54" width="11.07" height="15.62" fill="#0505ff"/>
<rect x="89.56" y="577.54" width="11.07" height="15.62" fill="#2b00d4"/>
<rect x="100.63" y="577.54" width="11.07" height="15.62" fill="#4800b7"/>
<rect x="111.70" y="577.54" width="11.07" height="15.62" fill="#9f9fff"/>
<rect x="122.76" y="577.54" width="11.07" height="15.62" fill="#4848ff"/>
<rect x="133.83" y="577.54" width="11.07" height="15.62" fill="#3f3fff"/>
<rect x="144.89" y="577.54" width="11.07" height="15.62" fill="#0500fa"/>
<rect x="155.96" y="577.54" width="11.07" height="15.62" fill="#e2e2ff"/>
<rect x="167.03" y="577.54" width="11.07" height="15.62" fill="#2200dd"/>
<rect x="178.09" y="577.54" width="11.07" height="15.62" fill="#a80057"/>
<rect x="189.16" y="577.54" width="11.07" height="15.62" fill="#e2e2ff"/>
<rect x="200.22" y="577.54" width="11.07" height="15.62" fill="#5252ff"/>
<rect x="211.29" y="577.54" width="11.07" height="15.62" fill="#3f3fff"/>
<rect x="222.36" y="577.54" width="11.07" height="15.62" fill="#0e0eff"/>
<rect x="233.42" y="577.54" width="11.07" height="15.62" fill="#2b2bff"/>
<rect x="244.49" y="577.54" width="11.07" height="15.62" fill="#0500fa"/>
<rect x="255.55" y="577.54" width="11.07" height="15.62" fill="#82007d"/>
<rect x="266.62" y="577.54" width="11.07" height="15.62" fill="#3535ff"/>
<rect x="277.69" y="577.54" width="11.07" height="15.62" fill="#3f3fff"/>
<rect x="288.75" y="577.54" width="11.07" height="15.62" fill="#3f3fff"/>
<rect x="299.82" y="577.54" width="11.07" height="15.62" fill="#6f0090"/>
<rect x="310.88" y="577.54" width="11.07" height="15.62" fill="#2200dd"/>
<rect x="321.95" y="577.54" width="11.07" height="15.62" fill="#0500fa"/>
<rect x="333.02" y="577.54" width="11.07" height="15.62" fill="#2b00d4"/>
<rect x="344.08" y="577.54" width="11.07" height="15.62" fill="#6565ff"/>
<rect x="355.15" y="577.54" width="11.07" height="15.62" fill="#2b00d4"/>
<rect x="366.21" y="577.54" width="11.07" height="15.62" fill="#95006a"/>
<rect x="377.28" y="577.54" width="11.07" height="15.62" fill="#0505ff"/>
<rect x="388.35" y="577.54" width="11.07" height="15.62" fill="#b2b2ff"/>
<rect x="399.41" y="577.54" width="11.07" height="15.62" fill="#4848ff"/>
<rect x="410.48" y="577.54" width="11.07" height="15.62" fill="#9f9fff"/>
<rect x="421.54" y="577.54" width="11.07" height="15.62" fill="#3535ff"/>
<rect x="432.61" y="577.54" width="11.07" height="15.62" fill="#5252ff"/>
<rect x="443.68" y="577.54" width="11.07" height="15.62" fill="#3535ff"/>
<rect x="454.74" y="577.54" width="11.07" height="15.62" fill="#1818ff"/>
<rect x="465.81" y="577.54" width="11.07" height="15.62" fill="#b2b2ff"/>
<rect x="476.87" y="577.54" width="11.07" height="15.62" fill="#bcbcff"/>
<rect x="487.94" y="577.54" width="11.07" height="15.62" fill="#3f3fff"/>
<rect x="499.01" y="577.54" width="11.07" height="15.62" fill="#0e0eff"/>
<rect x="510.07" y="577.54" width="11.07" height="15.62" fill="#c5003a"/>
<rect x="521.14" y="577.54" width="11.07" height="15.62" fill="#3535ff"/>
<rect x="45.30" y="593.16" width="11.07" height="15.62" fill="#95006a"/>
<rect x="56.37" y="593.16" width="11.07" height="15.62" fill="#5200ad"/>
<rect x="67.43" y="593.16" width="11.07" height="15.62" fill="#0e00f1"/>
<rect x="78.50" y="593.16" width="11.07" height="15.62" fill="#e2001d"/>
<rect x="89.56" y="593.16" width="11.07" height="15.62" fill="#65009a"/>
<rect x="100.63" y="593.16" width="11.07" height="15.62" fill="#2200dd"/>
<rect x="111.70" y="593.16" width="11.07" height="15.62" fill="#9f0060"/>
<rect x="122.76" y="593.16" width="11.07" height="15.62" fill="#5b00a4"/>
<rect x="133.83" y="593.16" width="11.07" height="15.62" fill="#c5003a"/>
<rect x="144.89" y="593.16" width="11.07" height="15.62" fill="#5200ad"/>
<rect x="155.96" y="593.16" width="11.07" height="15.62" fill="#65009a"/>
<rect x="167.03" y="593.16" width="11.07" height="15.62" fill="#2b00d4"/>
<rect x="178.09" y="593.16" width="11.07" height="15.62" fill="#0e00f1"/>
<rect x="189.16" y="593.16" width="11.07" height="15.62" fill="#2b00d4"/>
<rect x="200.22" y="593.16" width="11.07" height="15.62" fill="#a80057"/>
<rect x="211.29" y="593.16" width="11.07" height="15.62" fill="#b2004d"/>
<rect x="222.36" y="593.16" width="11.07" height="15.62" fill="#95006a"/>
<rect x="233.42" y="593.16" width="11.07" height="15.62" fill="#0e00f1"/>
<rect x="244.49" y="593.16" width="11.07" height="15.62" fill="#95006a"/>
<rect x="255.55" y="593.16" width="11.07" height="15.62" fill="#2b00d4"/>
<rect x="266.62" y="593.16" width="11.07" height="15.62" fill="#82007d"/>
<rect x="277.69" y="593.16" width="11.07" height="15.62" fill="#c5003a"/>
<rect x="288.75" y="593.16" width="11.07" height="15.62" fill="#0500fa"/>
<rect x="299.82" y="593.16" width="11.07" height="15.62" fill="#8c0073"/>
<rect x="310.88" y="593.16" width="11.07" height="15.62" fill="#a80057"/>
<rect x="321.95" y="593.16" width="11.07" height="15.62" fill="#6f0090"/>
<rect x="333.02" y="593.16" width="11.07" height="15.62" fill="#5200ad"/>
<rect x="344.08" y="593.16" width="11.07" height="15.62" fill="#8c0073"/>
<rect x="355.15" y="593.16" width="11.07" height="15.62" fill="#65009a"/>
<rect x="366.21" y="593.16" width="11.07" height="15.62" fill="#4800b7"/>
<rect x="377.28" y="593.16" width="11.07" height="15.62" fill="#95006a"/>
<rect x="388.35" y="593.16" width="11.07" height="15.62" fill="#f5000a"/>
<rect x="399.41" y="593.16" width="11.07" height="15.62" fill="#bc0043"/>
<rect x="410.48" y="593.16" width="11.07" height="15.62" fill="#8c0073"/>
<rect x="421.54" y="593.16" width="11.07" height="15.62" fill="#ff0000"/>
<rect x="432.61" y="593.16" width="11.07" height="15.62" fill="#9f0060"/>
<rect x="443.68" y="593.16" width="11.07" height="15.62" fill="#82007d"/>
<rect x="454.74" y="593.16" width="11.07" height="15.62" fill="#2b00d4"/>
<rect x="465.81" y="593.16" width="11.07" height="15.62" fill="#0505ff"/>
<rect x="476.87" y="593.16" width="11.07" height="15.62" fill="#3f00c0"/>
<rect x="487.94" y="593.16" width="11.07" height="15.62" fill="#0500fa"/>
<rect x="499.01" y="593.16" width="11.07" height="15.62" fill="#9f0060"/>
<rect x="510.07" y="593.16" width="11.07" height="15.62" fill="#4800b7"/>
<rect x="521.14" y="593.16" width="11.07" height="15.62" fill="#95006a"/>
<path d="M45.3 265.10H532.20M45.3 280.72H532.20M45.3 296.34H532.20M45.3 311.97H532.20M45.3 327.59H532.20M45.3 343.21H532.20M45.3 358.83H532.20M45.3 374.45H532.20M45.3 390.08H532.20M45.3 405.70H532.20M45.3 421.32H532.20M45.3 436.94H532.20M45.3 452.56H532.20M45.3 468.19H532.20M45.3 483.81H532.20M45.3 499.43H532.20M45.3 515.05H532.20M45.3 530.67H532.20M45.3 546.30H532.20M45.3 561.92H532.20M45.3 577.54H532.20M45.3 593.16H532.20M45.3 608.78H532.20M45.30 265.1V608.78M56.37 265.1V608.78M67.43 265.1V608.78M78.50 265.1V608.78M89.56 265.1V608.78M100.63 265.1V608.78M111.70 265.1V608.78M122.76 265.1V608.78M133.83 265.1V608.78M144.89 265.1V608.78M155.96 265.1V608.78M167.03 265.1V608.78M178.09 265.1V608.78M189.16 265.1V608.78M200.22 265.1V608.78M211.29 265.1V608.78M222.36 265.1V608.78M233.42 265.1V608.78M244.49 265.1V608.78M255.55 265.1V608.78M266.62 265.1V608.78M277.69 265.1V608.78M288.75 265.1V608.78M299.82 265.1V608.78M310.88 265.1V608.78M321.95 265.1V608.78M333.02 265.1V608.78M344.08 265.1V608.78M355.15 265.1V608.78M366.21 265.1V608.78M377.28 265.1V608.78M388.35 265.1V608.78M399.41 265.1V608.78M410.48 265.1V608.78M421.54 265.1V608.78M432.61 265.1V608.78M443.68 265.1V608.78M454.74 265.1V608.78M465.81 265.1V608.78M476.87 265.1V608.78M487.94 265.1V608.78M499.01 265.1V608.78M510.07 265.1V608.78M521.14 265.1V608.78M532.20 265.1V608.78" stroke="#9c9c9c" stroke-width="0.7" fill="none"/>
<text x="534.6" y="262.4" font-size="6.4" font-weight="bold" fill="#111">Type</text>
<text x="534.6" y="275.81" font-size="6.6" stroke="#1a1a1a" stroke-width="0.32" fill="#1a1a1a">T cells CD4 naive</text>
<text x="534.6" y="291.43" font-size="6.6" stroke="#1a1a1a" stroke-width="0.32" fill="#1a1a1a">T cells CD8</text>
<text x="534.6" y="307.06" font-size="6.6" stroke="#1a1a1a" stroke-width="0.32" fill="#1a1a1a">Plasma cells</text>
<text x="534.6" y="322.68" font-size="6.6" stroke="#1a1a1a" stroke-width="0.32" fill="#1a1a1a">Monocytes</text>
<text x="534.6" y="338.30" font-size="6.6" stroke="#1a1a1a" stroke-width="0.32" fill="#1a1a1a">NK cells activated</text>
<text x="534.6" y="353.92" font-size="6.6" stroke="#1a1a1a" stroke-width="0.32" fill="#1a1a1a">B cells memory</text>
<text x="534.6" y="369.54" font-size="6.6" stroke="#1a1a1a" stroke-width="0.32" fill="#1a1a1a">Dendritic cells resting</text>
<text x="534.6" y="385.16" font-size="6.6" stroke="#1a1a1a" stroke-width="0.32" fill="#1a1a1a">Macrophages M1</text>
<text x="534.6" y="400.79" font-size="6.6" stroke="#1a1a1a" stroke-width="0.32" fill="#1a1a1a">Macrophages M0</text>
<text x="534.6" y="416.41" font-size="6.6" stroke="#1a1a1a" stroke-width="0.32" fill="#1a1a1a">Mast cells activated</text>
<text x="534.6" y="432.03" font-size="6.6" stroke="#1a1a1a" stroke-width="0.32" fill="#1a1a1a">T cells regulatory (Tregs)</text>
<text x="534.6" y="447.65" font-size="6.6" stroke="#1a1a1a" stroke-width="0.32" fill="#1a1a1a">NK cells resting</text>
<text x="534.6" y="463.27" font-size="6.6" stroke="#1a1a1a" stroke-width="0.32" fill="#1a1a1a">Dendritic cells activated</text>
<text x="534.6" y="478.90" font-size="6.6" stroke="#1a1a1a" stroke-width="0.32" fill="#1a1a1a">Neutrophils</text>
<text x="534.6" y="494.52" font-size="6.6" stroke="#1a1a1a" stroke-width="0.32" fill="#1a1a1a">T cells follicular helper</text>
<text x="534.6" y="510.14" font-size="6.6" stroke="#1a1a1a" stroke-width="0.32" fill="#1a1a1a">Mast cells resting</text>
<text x="534.6" y="525.76" font-size="6.6" stroke="#1a1a1a" stroke-width="0.32" fill="#1a1a1a">B cells naive</text>
<text x="534.6" y="541.38" font-size="6.6" stroke="#1a1a1a" stroke-width="0.32" fill="#1a1a1a">Eosinophils</text>
<text x="534.6" y="557.01" font-size="6.6" stroke="#1a1a1a" stroke-width="0.32" fill="#1a1a1a">T cells CD4 memory activated</text>
<text x="534.6" y="572.63" font-size="6.6" stroke="#1a1a1a" stroke-width="0.32" fill="#1a1a1a">Macrophages M2</text>
<text x="534.6" y="588.25" font-size="6.6" stroke="#1a1a1a" stroke-width="0.32" fill="#1a1a1a">T cells CD4 memory resting</text>
<text x="534.6" y="603.87" font-size="6.6" stroke="#1a1a1a" stroke-width="0.32" fill="#1a1a1a">T cells gamma delta</text>
<defs><linearGradient id="cb" x1="0" y1="1" x2="0" y2="0"><stop offset="0" stop-color="#fff"/><stop offset="0.5" stop-color="#00f"/><stop offset="1" stop-color="#f00"/></linearGradient></defs>
<rect x="629.6" y="255.3" width="8.8" height="124.5" fill="url(#cb)"/>
<text x="641.4" y="383.00" font-size="6.6" stroke="#1a1a1a" stroke-width="0.32" fill="#1a1a1a">0</text>
<text x="641.4" y="359.56" font-size="6.6" stroke="#1a1a1a" stroke-width="0.32" fill="#1a1a1a">0.1</text>
<text x="641.4" y="336.12" font-size="6.6" stroke="#1a1a1a" stroke-width="0.32" fill="#1a1a1a">0.2</text>
<text x="641.4" y="312.68" font-size="6.6" stroke="#1a1a1a" stroke-width="0.32" fill="#1a1a1a">0.3</text>
<text x="641.4" y="289.24" font-size="6.6" stroke="#1a1a1a" stroke-width="0.32" fill="#1a1a1a">0.4</text>
<text x="641.4" y="265.80" font-size="6.6" stroke="#1a1a1a" stroke-width="0.32" fill="#1a1a1a">0.5</text>
<text x="652" y="260.6" font-size="6.6" font-weight="bold" fill="#111">Type</text>
<rect x="652" y="262.6" width="9.4" height="9.6" fill="#00d0d0" stroke="#9a9a9a" stroke-width="0.5"/>
<rect x="652" y="272.2" width="9.4" height="9.6" fill="#f88a80" stroke="#9a9a9a" stroke-width="0.5"/>
<text x="663.6" y="270.1" font-size="6.6" stroke="#1a1a1a" stroke-width="0.32" fill="#1a1a1a">control group</text>
<text x="663.6" y="279.7" font-size="6.6" stroke="#1a1a1a" stroke-width="0.32" fill="#1a1a1a">multiple sclerosis</text>
<path d="M22.7 592.9H1.7V324.7H29.9M45.3 585.4H22.7V601.0H45.3M45.3 272.9H29.9V371.9H36.3M45.3 288.5H36.3V463H38.6M41.7 363.5H38.6V569.7H45.3M38.6 554.1H45.3M45.3 304.2H41.7V423.5H42.8M45.3 319.8H43.4V335.4H45.3M43.4 327.5H42.3V389M42.8 345V518.7H43.6M43.6 338V400M44.1 351.0V476.0M44.7 366.6V538.5M43.6 491.6V522.9M44.1 351.0H45.3M44.7 366.6H45.3M44.1 382.3H45.3M44.7 397.9H45.3M44.1 413.5H45.3M44.7 429.1H45.3M44.1 444.8H45.3M44.7 460.4H45.3M44.1 476.0H45.3M44.7 491.6H45.3M44.1 507.2H45.3M44.7 522.9H45.3M44.1 538.5H45.3M43.6 491.6H45.3M43.6 507.2H45.3M43.6 522.9H45.3" fill="none" stroke="#000" stroke-width="0.75"/>
</g>
<g id="pc" font-family="Liberation Sans, sans-serif">
<text x="0.2" y="647.3" font-size="21" font-weight="bold">c</text>
<rect x="42" y="636.6" width="592.6" height="242" fill="#fff" stroke="#606060" stroke-width="1.25"/>
<path d="M37.8 870.0H42" stroke="#333" stroke-width="0.7"/>
<text x="33" y="872.6" font-size="7.3" text-anchor="end" fill="#111">0.0</text>
<path d="M37.8 829.5H42" stroke="#333" stroke-width="0.7"/>
<text x="33" y="832.1" font-size="7.3" text-anchor="end" fill="#111">0.1</text>
<path d="M37.8 789.0H42" stroke="#333" stroke-width="0.7"/>
<text x="33" y="791.6" font-size="7.3" text-anchor="end" fill="#111">0.2</text>
<path d="M37.8 748.5H42" stroke="#333" stroke-width="0.7"/>
<text x="33" y="751.1" font-size="7.3" text-anchor="end" fill="#111">0.3</text>
<path d="M37.8 708.0H42" stroke="#333" stroke-width="0.7"/>
<text x="33" y="710.6" font-size="7.3" text-anchor="end" fill="#111">0.4</text>
<path d="M37.8 667.5H42" stroke="#333" stroke-width="0.7"/>
<text x="33" y="670.1" font-size="7.3" text-anchor="end" fill="#111">0.5</text>
<text transform="translate(13.5,757.5) rotate(-90)" font-size="7.5" text-anchor="middle" fill="#111">Fraction</text>
<text transform="translate(69.6,884) rotate(-43)" font-size="7.3" text-anchor="end" fill="#111" stroke="#111" stroke-width="0.2">B cells naive</text>
<path d="M62.65 870.00L62.32 869.73L61.98 869.46L61.65 869.19L61.32 868.92L61.02 868.65L60.78 868.38L60.64 867.98L60.55 867.57L60.50 867.16L60.45 866.76L60.43 866.36L60.44 865.95L60.53 865.54L60.65 865.14L60.80 864.74L60.95 864.33L61.12 863.92L61.34 863.52L61.61 863.18L61.92 862.85L62.25 862.51L62.58 862.17L62.92 861.83L63.25 861.50L64.45 861.50L64.78 861.83L65.12 862.17L65.45 862.51L65.78 862.85L66.09 863.18L66.36 863.52L66.58 863.92L66.75 864.33L66.90 864.74L67.05 865.14L67.17 865.54L67.26 865.95L67.28 866.36L67.25 866.76L67.20 867.16L67.15 867.57L67.06 867.98L66.92 868.38L66.68 868.65L66.38 868.92L66.05 869.19L65.72 869.46L65.38 869.73L65.05 870.00Z" fill="#0000ee" stroke="#300" stroke-opacity="0.3" stroke-width="0.4"/>
<ellipse cx="63.9" cy="866.8" rx="1.7" ry="1.9" fill="#fff"/>
<path d="M69.95 870.00L69.85 869.60L69.75 869.19L69.65 868.78L69.55 868.38L69.47 867.98L69.41 867.57L69.40 867.03L69.42 866.49L69.45 865.95L69.49 865.41L69.54 864.87L69.64 864.33L69.81 863.59L70.02 862.85L70.25 862.10L70.48 861.36L70.70 860.62L70.90 859.88L71.05 859.13L71.18 858.39L71.30 857.65L71.42 856.90L71.53 856.16L71.63 855.42L71.73 854.81L71.82 854.21L71.90 853.60L71.98 852.99L72.07 852.38L72.15 851.77L72.95 851.77L73.03 852.38L73.12 852.99L73.20 853.60L73.28 854.21L73.37 854.81L73.47 855.42L73.57 856.16L73.68 856.90L73.80 857.65L73.92 858.39L74.05 859.13L74.20 859.88L74.40 860.62L74.62 861.36L74.85 862.10L75.08 862.85L75.29 863.59L75.46 864.33L75.56 864.87L75.61 865.41L75.65 865.95L75.68 866.49L75.70 867.03L75.69 867.57L75.63 867.98L75.55 868.38L75.45 868.78L75.35 869.19L75.25 869.60L75.15 870.00Z" fill="#ee0000" stroke="#111" stroke-opacity="0.55" stroke-width="0.5" stroke-linejoin="round"/>
<path d="M72.5 870.0V851.8" stroke="#000" stroke-opacity="0.9" stroke-width="0.55"/>
<path d="M72.5 868.0V861.9" stroke="#111" stroke-opacity="0.45" stroke-width="1"/>
<circle cx="72.5" cy="865.1" r="1.9" fill="#fff"/>
<path d="M65.8 851.5H71.8" stroke="#222" stroke-width="0.9"/>
<text x="68.2" y="845.3" font-size="6.1" text-anchor="middle" fill="#111" stroke="#111" stroke-width="0.28">p=0.181</text>
<text transform="translate(95.7,884) rotate(-43)" font-size="7.3" text-anchor="end" fill="#111" stroke="#111" stroke-width="0.2">B cells memory</text>
<path d="M87.6 870.0l1.4 -1M89.4 866.8h1.2M91.0 869.0l1.4 1" stroke="#10108a" stroke-width="1.1" fill="none"/>
<path d="M95.66 870.00L95.79 869.73L95.93 869.46L96.06 869.19L96.19 868.92L96.33 868.65L96.48 868.38L96.63 867.98L96.79 867.57L96.96 867.16L97.13 866.76L97.28 866.36L97.42 865.95L97.53 865.41L97.63 864.87L97.71 864.33L97.79 863.79L97.87 863.25L97.95 862.71L98.02 862.10L98.09 861.50L98.16 860.89L98.23 860.28L98.29 859.67L98.36 859.07L98.96 859.07L99.03 859.67L99.09 860.28L99.16 860.89L99.23 861.50L99.30 862.10L99.37 862.71L99.45 863.25L99.53 863.79L99.61 864.33L99.69 864.87L99.79 865.41L99.90 865.95L100.04 866.36L100.19 866.76L100.36 867.16L100.53 867.57L100.69 867.98L100.84 868.38L100.99 868.65L101.13 868.92L101.26 869.19L101.39 869.46L101.53 869.73L101.66 870.00Z" fill="#ee0000" stroke="#111" stroke-opacity="0.55" stroke-width="0.5" stroke-linejoin="round"/>
<path d="M98.7 870.0V859.1" stroke="#000" stroke-opacity="0.9" stroke-width="0.55"/>
<path d="M98.7 870.0V866.8" stroke="#111" stroke-opacity="0.45" stroke-width="1"/>
<circle cx="98.7" cy="868.8" r="1.9" fill="#fff"/>
<path d="M92.0 858.5H97.9" stroke="#222" stroke-width="0.9"/>
<text x="94.3" y="852.3" font-size="6.1" text-anchor="middle" fill="#111" stroke="#111" stroke-width="0.28">p=0.13</text>
<text transform="translate(121.8,884) rotate(-43)" font-size="7.3" text-anchor="end" fill="#111" stroke="#111" stroke-width="0.2">Plasma cells</text>
<path d="M113.7 870.0l1.4 -1M115.5 866.8h1.2M117.1 869.0l1.4 1" stroke="#10108a" stroke-width="1.1" fill="none"/>
<path d="M123.37 870.00L123.20 869.33L123.04 868.65L122.87 867.98L122.70 867.30L122.54 866.62L122.38 865.95L122.22 864.94L122.07 863.92L121.92 862.91L121.77 861.90L121.64 860.89L121.56 859.88L121.55 859.20L121.57 858.52L121.62 857.85L121.67 857.17L121.74 856.50L121.86 855.83L122.03 854.81L122.24 853.80L122.47 852.79L122.70 851.77L122.92 850.76L123.12 849.75L123.29 848.40L123.44 847.05L123.57 845.70L123.70 844.35L123.83 843.00L123.95 841.65L124.05 840.30L124.14 838.95L124.22 837.60L124.30 836.25L124.39 834.90L124.47 833.55L125.07 833.55L125.15 834.90L125.24 836.25L125.32 837.60L125.40 838.95L125.49 840.30L125.59 841.65L125.71 843.00L125.84 844.35L125.97 845.70L126.10 847.05L126.25 848.40L126.42 849.75L126.62 850.76L126.84 851.77L127.07 852.79L127.30 853.80L127.51 854.81L127.68 855.83L127.80 856.50L127.87 857.17L127.92 857.85L127.97 858.52L127.99 859.20L127.98 859.88L127.89 860.89L127.77 861.90L127.62 862.91L127.47 863.92L127.32 864.94L127.16 865.95L127.00 866.62L126.84 867.30L126.67 867.98L126.50 868.65L126.34 869.33L126.17 870.00Z" fill="#ee0000" stroke="#111" stroke-opacity="0.55" stroke-width="0.5" stroke-linejoin="round"/>
<path d="M124.8 870.0V833.5" stroke="#000" stroke-opacity="0.9" stroke-width="0.55"/>
<path d="M124.8 865.1V853.8" stroke="#111" stroke-opacity="0.45" stroke-width="1"/>
<circle cx="124.8" cy="857.9" r="1.9" fill="#fff"/>
<path d="M118.1 833.5H124.0" stroke="#222" stroke-width="0.9"/>
<text x="120.4" y="827.3" font-size="6.1" text-anchor="middle" fill="#111" stroke="#111" stroke-width="0.28">p<0.001</text>
<text transform="translate(147.9,884) rotate(-43)" font-size="7.3" text-anchor="end" fill="#111" stroke="#111" stroke-width="0.2">T cells CD8</text>
<path d="M138.18 870.00L138.25 868.65L138.31 867.30L138.38 865.95L138.45 864.60L138.53 863.25L138.64 861.90L138.80 859.88L138.98 857.85L139.18 855.83L139.38 853.80L139.57 851.77L139.76 849.75L139.92 847.05L140.08 844.35L140.23 841.65L140.38 838.95L140.52 836.25L140.66 833.55L140.77 830.17L140.88 826.80L140.98 823.42L141.08 820.05L141.18 816.67L141.26 813.30L141.34 809.92L141.41 806.55L141.48 803.17L141.55 799.80L141.61 796.42L141.67 793.05L141.73 790.69L141.78 788.33L141.83 785.96L141.88 783.60L141.93 781.24L141.98 778.88L142.38 778.88L142.43 781.24L142.48 783.60L142.53 785.96L142.58 788.33L142.63 790.69L142.69 793.05L142.75 796.42L142.81 799.80L142.88 803.17L142.95 806.55L143.02 809.92L143.10 813.30L143.18 816.67L143.28 820.05L143.38 823.42L143.48 826.80L143.59 830.17L143.70 833.55L143.84 836.25L143.98 838.95L144.13 841.65L144.28 844.35L144.44 847.05L144.60 849.75L144.79 851.77L144.98 853.80L145.18 855.83L145.38 857.85L145.56 859.88L145.72 861.90L145.83 863.25L145.91 864.60L145.98 865.95L146.05 867.30L146.11 868.65L146.18 870.00Z" fill="#0000ee" stroke="#111" stroke-opacity="0.55" stroke-width="0.5" stroke-linejoin="round"/>
<path d="M142.2 870.0V778.9" stroke="#000" stroke-opacity="0.9" stroke-width="0.55"/>
<path d="M142.2 870.0V845.7" stroke="#111" stroke-opacity="0.45" stroke-width="1"/>
<circle cx="142.2" cy="862.7" r="1.9" fill="#fff"/>
<path d="M147.28 870.00L147.31 868.65L147.35 867.30L147.38 865.95L147.41 864.60L147.45 863.25L147.51 861.90L147.59 859.88L147.68 857.85L147.78 855.83L147.88 853.80L147.98 851.77L148.08 849.75L148.18 846.38L148.28 843.00L148.38 839.62L148.48 836.25L148.58 832.88L148.67 829.50L148.76 826.80L148.85 824.10L148.93 821.40L149.01 818.70L149.09 816.00L149.16 813.30L149.23 811.61L149.28 809.92L149.33 808.24L149.38 806.55L149.43 804.86L149.48 803.17L152.28 803.17L152.33 804.86L152.38 806.55L152.43 808.24L152.48 809.92L152.53 811.61L152.60 813.30L152.67 816.00L152.75 818.70L152.83 821.40L152.91 824.10L153.00 826.80L153.09 829.50L153.18 832.88L153.28 836.25L153.38 839.62L153.48 843.00L153.58 846.38L153.68 849.75L153.78 851.77L153.88 853.80L153.98 855.83L154.08 857.85L154.17 859.88L154.25 861.90L154.31 863.25L154.35 864.60L154.38 865.95L154.41 867.30L154.45 868.65L154.48 870.00Z" fill="#ee0000" stroke="#111" stroke-opacity="0.55" stroke-width="0.5" stroke-linejoin="round"/>
<path d="M150.9 870.0V803.2" stroke="#000" stroke-opacity="0.9" stroke-width="0.55"/>
<path d="M150.9 866.0V829.5" stroke="#111" stroke-opacity="0.45" stroke-width="1"/>
<circle cx="150.9" cy="855.0" r="1.9" fill="#fff"/>
<path d="M144.2 778.5H150.1" stroke="#222" stroke-width="0.9"/>
<text x="146.5" y="772.3" font-size="6.1" text-anchor="middle" fill="#111" stroke="#111" stroke-width="0.28">p=0.57</text>
<text transform="translate(174.0,884) rotate(-43)" font-size="7.3" text-anchor="end" fill="#111" stroke="#111" stroke-width="0.2">T cells CD4 naive</text>
<path d="M167.09 868.78L166.96 867.64L166.82 866.49L166.69 865.34L166.56 864.20L166.42 863.05L166.27 861.90L166.12 859.20L165.96 856.50L165.79 853.80L165.62 851.10L165.47 848.40L165.32 845.70L165.20 842.33L165.09 838.95L164.99 835.58L164.89 832.20L164.80 828.83L164.74 825.45L164.70 822.75L164.69 820.05L164.69 817.35L164.69 814.65L164.69 811.95L164.70 809.25L164.71 806.89L164.72 804.52L164.74 802.16L164.76 799.80L164.78 797.44L164.81 795.08L164.86 794.06L164.92 793.05L164.99 792.04L165.06 791.02L165.12 790.01L165.19 789.00L171.39 789.00L171.46 790.01L171.52 791.02L171.59 792.04L171.66 793.05L171.72 794.06L171.77 795.08L171.80 797.44L171.82 799.80L171.84 802.16L171.86 804.52L171.87 806.89L171.88 809.25L171.89 811.95L171.89 814.65L171.89 817.35L171.89 820.05L171.88 822.75L171.84 825.45L171.78 828.83L171.69 832.20L171.59 835.58L171.49 838.95L171.38 842.33L171.26 845.70L171.11 848.40L170.96 851.10L170.79 853.80L170.62 856.50L170.46 859.20L170.31 861.90L170.16 863.05L170.02 864.20L169.89 865.34L169.76 866.49L169.62 867.64L169.49 868.78Z" fill="#0000ee" stroke="#111" stroke-opacity="0.55" stroke-width="0.5" stroke-linejoin="round"/>
<path d="M168.3 868.8V789.0" stroke="#000" stroke-opacity="0.9" stroke-width="0.55"/>
<path d="M168.3 849.8V801.1" stroke="#111" stroke-opacity="0.45" stroke-width="1"/>
<circle cx="168.3" cy="815.3" r="1.9" fill="#fff"/>
<path d="M174.99 870.00L174.82 868.65L174.66 867.30L174.49 865.95L174.32 864.60L174.16 863.25L174.02 861.90L173.90 859.20L173.79 856.50L173.69 853.80L173.59 851.10L173.51 848.40L173.45 845.70L173.44 843.00L173.46 840.30L173.49 837.60L173.53 834.90L173.57 832.20L173.65 829.50L173.77 826.12L173.93 822.75L174.09 819.38L174.26 816.00L174.42 812.62L174.58 809.25L174.74 805.88L174.89 802.50L175.04 799.12L175.19 795.75L175.34 792.38L175.47 789.00L175.60 784.95L175.72 780.90L175.84 776.85L175.96 772.80L176.07 768.75L176.18 764.70L176.29 760.31L176.39 755.92L176.49 751.54L176.59 747.15L176.69 742.76L176.79 738.38L177.19 738.38L177.29 742.76L177.39 747.15L177.49 751.54L177.59 755.92L177.69 760.31L177.80 764.70L177.91 768.75L178.02 772.80L178.14 776.85L178.26 780.90L178.38 784.95L178.51 789.00L178.64 792.38L178.79 795.75L178.94 799.12L179.09 802.50L179.24 805.88L179.40 809.25L179.56 812.62L179.72 816.00L179.89 819.38L180.05 822.75L180.21 826.12L180.33 829.50L180.41 832.20L180.45 834.90L180.49 837.60L180.52 840.30L180.54 843.00L180.53 845.70L180.47 848.40L180.39 851.10L180.29 853.80L180.19 856.50L180.08 859.20L179.96 861.90L179.81 863.25L179.66 864.60L179.49 865.95L179.32 867.30L179.16 868.65L178.99 870.00Z" fill="#ee0000" stroke="#111" stroke-opacity="0.55" stroke-width="0.5" stroke-linejoin="round"/>
<path d="M177.0 870.0V738.4" stroke="#000" stroke-opacity="0.9" stroke-width="0.55"/>
<path d="M177.0 853.8V805.2" stroke="#111" stroke-opacity="0.45" stroke-width="1"/>
<circle cx="177.0" cy="830.3" r="1.9" fill="#fff"/>
<path d="M170.3 738.5H176.2" stroke="#222" stroke-width="0.9"/>
<text x="172.6" y="732.3" font-size="6.1" text-anchor="middle" fill="#111" stroke="#111" stroke-width="0.28">p=1</text>
<text transform="translate(200.2,884) rotate(-43)" font-size="7.3" text-anchor="end" fill="#111" stroke="#111" stroke-width="0.2">T cells CD4 memory resting</text>
<path d="M194.10 855.01L193.98 852.11L193.87 849.21L193.75 846.31L193.63 843.40L193.50 840.50L193.35 837.60L193.15 833.55L192.93 829.50L192.70 825.45L192.47 821.40L192.23 817.35L191.98 813.30L191.73 809.25L191.47 805.20L191.20 801.15L190.94 797.10L190.69 793.05L190.49 789.00L190.36 786.64L190.27 784.27L190.20 781.91L190.14 779.55L190.09 777.19L190.08 774.83L190.12 772.46L190.20 770.10L190.30 767.74L190.40 765.38L190.52 763.01L190.68 760.65L190.89 756.60L191.14 752.55L191.40 748.50L191.67 744.45L191.93 740.40L192.17 736.35L192.39 732.30L192.60 728.25L192.80 724.20L193.00 720.15L193.19 716.10L193.36 712.05L193.51 708.67L193.63 705.30L193.75 701.92L193.87 698.55L193.98 695.17L194.10 691.80L194.70 691.80L194.82 695.17L194.93 698.55L195.05 701.92L195.17 705.30L195.29 708.67L195.44 712.05L195.61 716.10L195.80 720.15L196.00 724.20L196.20 728.25L196.41 732.30L196.63 736.35L196.88 740.40L197.13 744.45L197.40 748.50L197.66 752.55L197.91 756.60L198.12 760.65L198.28 763.01L198.40 765.38L198.50 767.74L198.60 770.10L198.68 772.46L198.72 774.83L198.71 777.19L198.66 779.55L198.60 781.91L198.53 784.27L198.44 786.64L198.31 789.00L198.11 793.05L197.86 797.10L197.60 801.15L197.33 805.20L197.07 809.25L196.82 813.30L196.57 817.35L196.33 821.40L196.10 825.45L195.87 829.50L195.65 833.55L195.45 837.60L195.30 840.50L195.17 843.40L195.05 846.31L194.93 849.21L194.82 852.11L194.70 855.01Z" fill="#0000ee" stroke="#111" stroke-opacity="0.55" stroke-width="0.5" stroke-linejoin="round"/>
<path d="M194.4 855.0V691.8" stroke="#000" stroke-opacity="0.9" stroke-width="0.55"/>
<path d="M194.4 801.1V752.5" stroke="#111" stroke-opacity="0.45" stroke-width="1"/>
<circle cx="194.4" cy="776.0" r="1.9" fill="#fff"/>
<path d="M201.70 836.79L201.50 834.23L201.30 831.66L201.10 829.10L200.90 826.53L200.70 823.97L200.50 821.40L200.30 818.02L200.10 814.65L199.90 811.27L199.70 807.90L199.51 804.52L199.35 801.15L199.23 798.45L199.14 795.75L199.05 793.05L198.97 790.35L198.90 787.65L198.88 784.95L198.90 782.25L198.97 779.55L199.05 776.85L199.14 774.15L199.23 771.45L199.35 768.75L199.51 764.70L199.70 760.65L199.90 756.60L200.10 752.55L200.30 748.50L200.49 744.45L200.68 739.73L200.87 735.00L201.05 730.27L201.23 725.55L201.41 720.83L201.57 716.10L201.71 712.73L201.83 709.35L201.95 705.98L202.07 702.60L202.18 699.23L202.28 695.85L202.38 693.15L202.47 690.45L202.55 687.75L202.63 685.05L202.72 682.35L202.80 679.65L203.40 679.65L203.48 682.35L203.57 685.05L203.65 687.75L203.73 690.45L203.82 693.15L203.92 695.85L204.02 699.23L204.13 702.60L204.25 705.98L204.37 709.35L204.49 712.73L204.63 716.10L204.79 720.83L204.97 725.55L205.15 730.27L205.33 735.00L205.52 739.73L205.71 744.45L205.90 748.50L206.10 752.55L206.30 756.60L206.50 760.65L206.69 764.70L206.85 768.75L206.97 771.45L207.06 774.15L207.15 776.85L207.23 779.55L207.30 782.25L207.32 784.95L207.30 787.65L207.23 790.35L207.15 793.05L207.06 795.75L206.97 798.45L206.85 801.15L206.69 804.52L206.50 807.90L206.30 811.27L206.10 814.65L205.90 818.02L205.70 821.40L205.50 823.97L205.30 826.53L205.10 829.10L204.90 831.66L204.70 834.23L204.50 836.79Z" fill="#ee0000" stroke="#111" stroke-opacity="0.55" stroke-width="0.5" stroke-linejoin="round"/>
<path d="M203.1 836.8V679.6" stroke="#000" stroke-opacity="0.9" stroke-width="0.55"/>
<path d="M203.1 809.2V748.5" stroke="#111" stroke-opacity="0.45" stroke-width="1"/>
<circle cx="203.1" cy="781.7" r="1.9" fill="#fff"/>
<path d="M196.4 679.5H202.3" stroke="#222" stroke-width="0.9"/>
<text x="198.8" y="673.3" font-size="6.1" text-anchor="middle" fill="#111" stroke="#111" stroke-width="0.28">p=0.897</text>
<text transform="translate(226.3,884) rotate(-43)" font-size="7.3" text-anchor="end" fill="#111" stroke="#111" stroke-width="0.2">T cells CD4 memory activated</text>
<path d="M219.71 865.14L219.44 863.92L219.18 862.71L218.91 861.50L218.64 860.28L218.38 859.07L218.13 857.85L217.88 856.50L217.64 855.15L217.41 853.80L217.18 852.45L216.97 851.10L216.82 849.75L216.74 849.08L216.71 848.40L216.71 847.73L216.71 847.05L216.74 846.38L216.80 845.70L216.94 844.69L217.11 843.67L217.31 842.66L217.51 841.65L217.71 840.64L217.93 839.62L218.15 838.75L218.38 837.87L218.61 836.99L218.84 836.12L219.08 835.24L219.31 834.36L221.71 834.36L221.94 835.24L222.18 836.12L222.41 836.99L222.64 837.87L222.87 838.75L223.09 839.62L223.31 840.64L223.51 841.65L223.71 842.66L223.91 843.67L224.09 844.69L224.22 845.70L224.29 846.38L224.31 847.05L224.31 847.73L224.31 848.40L224.28 849.08L224.20 849.75L224.05 851.10L223.84 852.45L223.61 853.80L223.38 855.15L223.14 856.50L222.89 857.85L222.64 859.07L222.38 860.28L222.11 861.50L221.84 862.71L221.58 863.92L221.31 865.14Z" fill="#0000ee" stroke="#111" stroke-opacity="0.55" stroke-width="0.5" stroke-linejoin="round"/>
<path d="M220.5 865.1V834.4" stroke="#000" stroke-opacity="0.9" stroke-width="0.55"/>
<path d="M220.5 855.8V842.5" stroke="#111" stroke-opacity="0.45" stroke-width="1"/>
<circle cx="220.5" cy="848.1" r="1.9" fill="#fff"/>
<path d="M227.01 865.95L226.84 864.94L226.68 863.92L226.51 862.91L226.35 861.90L226.19 860.89L226.07 859.88L225.99 858.52L225.95 857.17L225.91 855.83L225.88 854.48L225.86 853.12L225.89 851.77L225.96 850.09L226.08 848.40L226.21 846.71L226.34 845.02L226.48 843.34L226.61 841.65L226.74 839.96L226.88 838.27L227.01 836.59L227.14 834.90L227.27 833.21L227.39 831.52L227.51 830.17L227.61 828.83L227.71 827.48L227.81 826.12L227.91 824.77L228.01 823.42L230.41 823.42L230.51 824.77L230.61 826.12L230.71 827.48L230.81 828.83L230.91 830.17L231.03 831.52L231.15 833.21L231.28 834.90L231.41 836.59L231.54 838.27L231.68 839.96L231.81 841.65L231.94 843.34L232.08 845.02L232.21 846.71L232.34 848.40L232.46 850.09L232.53 851.77L232.56 853.12L232.54 854.48L232.51 855.83L232.47 857.17L232.43 858.52L232.35 859.88L232.23 860.89L232.07 861.90L231.91 862.91L231.74 863.92L231.58 864.94L231.41 865.95Z" fill="#ee0000" stroke="#111" stroke-opacity="0.55" stroke-width="0.5" stroke-linejoin="round"/>
<path d="M229.2 866.0V823.4" stroke="#000" stroke-opacity="0.9" stroke-width="0.55"/>
<path d="M229.2 861.1V841.6" stroke="#111" stroke-opacity="0.45" stroke-width="1"/>
<circle cx="229.2" cy="852.6" r="1.9" fill="#fff"/>
<path d="M222.5 823.5H228.4" stroke="#222" stroke-width="0.9"/>
<text x="224.9" y="817.3" font-size="6.1" text-anchor="middle" fill="#111" stroke="#111" stroke-width="0.28">p=1</text>
<text transform="translate(252.4,884) rotate(-43)" font-size="7.3" text-anchor="end" fill="#111" stroke="#111" stroke-width="0.2">T cells follicular helper</text>
<path d="M243.22 870.00L243.29 869.60L243.35 869.19L243.42 868.78L243.49 868.38L243.57 867.98L243.68 867.57L243.84 866.96L244.02 866.36L244.22 865.75L244.42 865.14L244.61 864.53L244.79 863.92L244.94 863.05L245.09 862.17L245.22 861.29L245.35 860.41L245.48 859.54L245.60 858.66L245.72 857.65L245.82 856.63L245.92 855.62L246.02 854.61L246.12 853.60L246.22 852.59L247.02 852.59L247.12 853.60L247.22 854.61L247.32 855.62L247.42 856.63L247.52 857.65L247.64 858.66L247.76 859.54L247.89 860.41L248.02 861.29L248.15 862.17L248.29 863.05L248.45 863.92L248.63 864.53L248.82 865.14L249.02 865.75L249.22 866.36L249.40 866.96L249.56 867.57L249.67 867.98L249.75 868.38L249.82 868.78L249.89 869.19L249.95 869.60L250.02 870.00Z" fill="#0000ee" stroke="#111" stroke-opacity="0.55" stroke-width="0.5" stroke-linejoin="round"/>
<path d="M246.6 870.0V852.6" stroke="#000" stroke-opacity="0.9" stroke-width="0.55"/>
<path d="M246.6 870.0V865.1" stroke="#111" stroke-opacity="0.45" stroke-width="1"/>
<circle cx="246.6" cy="868.0" r="1.9" fill="#fff"/>
<path d="M251.92 870.00L251.99 869.60L252.05 869.19L252.12 868.78L252.19 868.38L252.27 867.98L252.40 867.57L252.57 866.96L252.79 866.36L253.02 865.75L253.25 865.14L253.48 864.53L253.68 863.92L253.86 862.91L254.02 861.90L254.17 860.89L254.32 859.88L254.46 858.86L254.59 857.85L254.69 855.35L254.79 852.86L254.87 850.36L254.95 847.86L255.04 845.36L255.12 842.87L255.52 842.87L255.60 845.36L255.69 847.86L255.77 850.36L255.85 852.86L255.94 855.35L256.05 857.85L256.18 858.86L256.32 859.88L256.47 860.89L256.62 861.90L256.78 862.91L256.96 863.92L257.16 864.53L257.39 865.14L257.62 865.75L257.85 866.36L258.07 866.96L258.24 867.57L258.37 867.98L258.45 868.38L258.52 868.78L258.59 869.19L258.65 869.60L258.72 870.00Z" fill="#ee0000" stroke="#111" stroke-opacity="0.55" stroke-width="0.5" stroke-linejoin="round"/>
<path d="M255.3 870.0V842.9" stroke="#000" stroke-opacity="0.9" stroke-width="0.55"/>
<path d="M255.3 870.0V865.1" stroke="#111" stroke-opacity="0.45" stroke-width="1"/>
<circle cx="255.3" cy="868.0" r="1.9" fill="#fff"/>
<path d="M248.6 842.5H254.5" stroke="#222" stroke-width="0.9"/>
<text x="251.0" y="836.3" font-size="6.1" text-anchor="middle" fill="#111" stroke="#111" stroke-width="0.28">p=0.971</text>
<text transform="translate(278.5,884) rotate(-43)" font-size="7.3" text-anchor="end" fill="#111" stroke="#111" stroke-width="0.2">T cells regulatory (Tregs)</text>
<path d="M274.5 870.5H279.7" stroke="#333" stroke-width="1"/>
<text transform="translate(304.6,884) rotate(-43)" font-size="7.3" text-anchor="end" fill="#111" stroke="#111" stroke-width="0.2">T cells gamma delta</text>
<path d="M296.24 756.60L296.14 755.25L296.04 753.90L295.94 752.55L295.84 751.20L295.75 749.85L295.66 748.50L295.60 746.48L295.54 744.45L295.49 742.42L295.44 740.40L295.39 738.38L295.36 736.35L295.33 732.30L295.31 728.25L295.29 724.20L295.27 720.15L295.26 716.10L295.26 712.05L295.28 708.67L295.31 705.30L295.34 701.92L295.37 698.55L295.41 695.17L295.46 691.80L295.51 689.77L295.57 687.75L295.64 685.73L295.71 683.70L295.78 681.67L295.86 679.65L295.94 678.64L296.04 677.62L296.14 676.61L296.24 675.60L296.34 674.59L296.44 673.58L301.24 673.58L301.34 674.59L301.44 675.60L301.54 676.61L301.64 677.62L301.74 678.64L301.82 679.65L301.90 681.67L301.97 683.70L302.04 685.73L302.11 687.75L302.17 689.77L302.22 691.80L302.27 695.17L302.31 698.55L302.34 701.92L302.37 705.30L302.40 708.67L302.42 712.05L302.42 716.10L302.41 720.15L302.39 724.20L302.37 728.25L302.35 732.30L302.32 736.35L302.29 738.38L302.24 740.40L302.19 742.42L302.14 744.45L302.08 746.48L302.02 748.50L301.93 749.85L301.84 751.20L301.74 752.55L301.64 753.90L301.54 755.25L301.44 756.60Z" fill="#0000ee" stroke="#111" stroke-opacity="0.55" stroke-width="0.5" stroke-linejoin="round"/>
<path d="M298.8 756.6V673.6" stroke="#000" stroke-opacity="0.9" stroke-width="0.55"/>
<path d="M298.8 732.3V695.9" stroke="#111" stroke-opacity="0.45" stroke-width="1"/>
<circle cx="298.8" cy="714.1" r="1.9" fill="#fff"/>
<path d="M307.04 772.80L306.86 768.75L306.67 764.70L306.49 760.65L306.31 756.60L306.12 752.55L305.92 748.50L305.70 744.45L305.47 740.40L305.24 736.35L305.01 732.30L304.78 728.25L304.57 724.20L304.38 721.16L304.21 718.12L304.04 715.09L303.88 712.05L303.75 709.01L303.70 705.98L303.75 703.61L303.88 701.25L304.04 698.89L304.21 696.52L304.38 694.16L304.58 691.80L304.80 688.42L305.04 685.05L305.29 681.67L305.54 678.30L305.78 674.92L306.01 671.55L306.22 668.51L306.41 665.48L306.59 662.44L306.77 659.40L306.96 656.36L307.14 653.33L307.94 653.33L308.12 656.36L308.31 659.40L308.49 662.44L308.67 665.48L308.87 668.51L309.07 671.55L309.30 674.92L309.54 678.30L309.79 681.67L310.04 685.05L310.28 688.42L310.50 691.80L310.70 694.16L310.87 696.52L311.04 698.89L311.20 701.25L311.33 703.61L311.38 705.98L311.33 709.01L311.20 712.05L311.04 715.09L310.87 718.12L310.70 721.16L310.51 724.20L310.30 728.25L310.07 732.30L309.84 736.35L309.61 740.40L309.38 744.45L309.16 748.50L308.96 752.55L308.77 756.60L308.59 760.65L308.41 764.70L308.22 768.75L308.04 772.80Z" fill="#ee0000" stroke="#111" stroke-opacity="0.55" stroke-width="0.5" stroke-linejoin="round"/>
<path d="M307.5 772.8V653.3" stroke="#000" stroke-opacity="0.9" stroke-width="0.55"/>
<path d="M307.5 724.2V687.8" stroke="#111" stroke-opacity="0.45" stroke-width="1"/>
<circle cx="307.5" cy="704.8" r="1.9" fill="#fff"/>
<path d="M300.8 653.5H306.7" stroke="#222" stroke-width="0.9"/>
<text x="303.2" y="647.3" font-size="6.1" text-anchor="middle" fill="#111" stroke="#111" stroke-width="0.28">p=0.662</text>
<text transform="translate(330.7,884) rotate(-43)" font-size="7.3" text-anchor="end" fill="#111" stroke="#111" stroke-width="0.2">NK cells resting</text>
<path d="M326.7 870.5H331.9" stroke="#333" stroke-width="1"/>
<text transform="translate(356.8,884) rotate(-43)" font-size="7.3" text-anchor="end" fill="#111" stroke="#111" stroke-width="0.2">NK cells activated</text>
<path d="M347.26 870.00L347.33 869.46L347.39 868.92L347.46 868.38L347.53 867.84L347.61 867.30L347.72 866.76L347.88 865.95L348.06 865.14L348.26 864.33L348.46 863.52L348.66 862.71L348.84 861.90L349.02 860.89L349.19 859.88L349.36 858.86L349.53 857.85L349.68 856.84L349.83 855.83L349.95 854.81L350.06 853.80L350.16 852.79L350.26 851.77L350.36 850.76L350.44 849.75L350.52 848.53L350.59 847.32L350.66 846.11L350.73 844.89L350.79 843.67L350.86 842.46L351.26 842.46L351.33 843.67L351.39 844.89L351.46 846.11L351.53 847.32L351.60 848.53L351.68 849.75L351.76 850.76L351.86 851.77L351.96 852.79L352.06 853.80L352.17 854.81L352.29 855.83L352.43 856.84L352.59 857.85L352.76 858.86L352.93 859.88L353.10 860.89L353.28 861.90L353.46 862.71L353.66 863.52L353.86 864.33L354.06 865.14L354.24 865.95L354.40 866.76L354.51 867.30L354.59 867.84L354.66 868.38L354.73 868.92L354.79 869.46L354.86 870.00Z" fill="#0000ee" stroke="#111" stroke-opacity="0.55" stroke-width="0.5" stroke-linejoin="round"/>
<path d="M351.1 870.0V842.5" stroke="#000" stroke-opacity="0.9" stroke-width="0.55"/>
<path d="M351.1 870.0V861.1" stroke="#111" stroke-opacity="0.45" stroke-width="1"/>
<circle cx="351.1" cy="866.0" r="1.9" fill="#fff"/>
<path d="M357.8 870.0h1M359.8 868.4h0.8M361.6 870.0h1" stroke="#ee0000" stroke-width="0.7" opacity="0.7"/>
<path d="M353.1 842.5H359.0" stroke="#222" stroke-width="0.9"/>
<text x="355.4" y="836.3" font-size="6.1" text-anchor="middle" fill="#111" stroke="#111" stroke-width="0.28">p<0.001</text>
<text transform="translate(382.9,884) rotate(-43)" font-size="7.3" text-anchor="end" fill="#111" stroke="#111" stroke-width="0.2">Monocytes</text>
<path d="M373.57 870.00L373.64 869.33L373.70 868.65L373.77 867.98L373.84 867.30L373.92 866.62L374.03 865.95L374.19 864.94L374.37 863.92L374.57 862.91L374.77 861.90L374.96 860.89L375.14 859.88L375.29 858.86L375.44 857.85L375.57 856.84L375.70 855.83L375.83 854.81L375.95 853.80L376.07 852.45L376.17 851.10L376.27 849.75L376.37 848.40L376.47 847.05L376.55 845.70L376.63 844.49L376.70 843.27L376.77 842.05L376.84 840.84L376.90 839.62L376.97 838.41L377.37 838.41L377.44 839.62L377.50 840.84L377.57 842.05L377.64 843.27L377.71 844.49L377.79 845.70L377.87 847.05L377.97 848.40L378.07 849.75L378.17 851.10L378.27 852.45L378.39 853.80L378.51 854.81L378.64 855.83L378.77 856.84L378.90 857.85L379.04 858.86L379.20 859.88L379.38 860.89L379.57 861.90L379.77 862.91L379.97 863.92L380.15 864.94L380.31 865.95L380.42 866.62L380.50 867.30L380.57 867.98L380.64 868.65L380.70 869.33L380.77 870.00Z" fill="#0000ee" stroke="#111" stroke-opacity="0.55" stroke-width="0.5" stroke-linejoin="round"/>
<path d="M377.2 870.0V838.4" stroke="#000" stroke-opacity="0.9" stroke-width="0.55"/>
<path d="M377.2 870.0V860.3" stroke="#111" stroke-opacity="0.45" stroke-width="1"/>
<circle cx="377.2" cy="866.0" r="1.9" fill="#fff"/>
<path d="M383.9 870.0h1M385.9 868.4h0.8M387.7 870.0h1" stroke="#ee0000" stroke-width="0.7" opacity="0.7"/>
<path d="M379.2 838.5H385.1" stroke="#222" stroke-width="0.9"/>
<text x="381.5" y="832.3" font-size="6.1" text-anchor="middle" fill="#111" stroke="#111" stroke-width="0.28">p<0.001</text>
<text transform="translate(409.0,884) rotate(-43)" font-size="7.3" text-anchor="end" fill="#111" stroke="#111" stroke-width="0.2">Macrophages M0</text>
<path d="M401.8 869.8H404.3" stroke="#555" stroke-width="0.6"/>
<path d="M410.5 869.8H413.0" stroke="#555" stroke-width="0.6"/>
<path d="M405.3 868.5H411.2" stroke="#222" stroke-width="0.9"/>
<text x="407.6" y="862.3" font-size="6.1" text-anchor="middle" fill="#111" stroke="#111" stroke-width="0.28">p=0.247</text>
<text transform="translate(435.1,884) rotate(-43)" font-size="7.3" text-anchor="end" fill="#111" stroke="#111" stroke-width="0.2">Macrophages M1</text>
<path d="M427.9 869.8H430.4" stroke="#555" stroke-width="0.6"/>
<path d="M436.6 869.8H439.1" stroke="#555" stroke-width="0.6"/>
<path d="M431.4 868.5H437.3" stroke="#222" stroke-width="0.9"/>
<text x="433.7" y="862.3" font-size="6.1" text-anchor="middle" fill="#111" stroke="#111" stroke-width="0.28">p=0.432</text>
<text transform="translate(461.2,884) rotate(-43)" font-size="7.3" text-anchor="end" fill="#111" stroke="#111" stroke-width="0.2">Macrophages M2</text>
<path d="M453.90 867.98L453.70 866.96L453.50 865.95L453.30 864.94L453.10 863.92L452.91 862.91L452.75 861.90L452.61 860.21L452.50 858.52L452.40 856.84L452.30 855.15L452.22 853.46L452.16 851.77L452.15 850.76L452.17 849.75L452.20 848.74L452.24 847.73L452.28 846.71L452.36 845.70L452.48 844.01L452.64 842.33L452.80 840.64L452.97 838.95L453.13 837.26L453.28 835.58L453.41 834.23L453.53 832.88L453.65 831.52L453.77 830.17L453.88 828.83L454.00 827.48L454.12 826.80L454.23 826.12L454.35 825.45L454.47 824.77L454.58 824.10L454.70 823.42L456.30 823.42L456.42 824.10L456.53 824.77L456.65 825.45L456.77 826.12L456.88 826.80L457.00 827.48L457.12 828.83L457.23 830.17L457.35 831.52L457.47 832.88L457.59 834.23L457.72 835.58L457.87 837.26L458.03 838.95L458.20 840.64L458.36 842.33L458.52 844.01L458.64 845.70L458.72 846.71L458.76 847.73L458.80 848.74L458.83 849.75L458.85 850.76L458.84 851.77L458.78 853.46L458.70 855.15L458.60 856.84L458.50 858.52L458.39 860.21L458.25 861.90L458.09 862.91L457.90 863.92L457.70 864.94L457.50 865.95L457.30 866.96L457.10 867.98Z" fill="#0000ee" stroke="#111" stroke-opacity="0.55" stroke-width="0.5" stroke-linejoin="round"/>
<path d="M455.5 868.0V823.4" stroke="#000" stroke-opacity="0.9" stroke-width="0.55"/>
<path d="M455.5 858.7V841.6" stroke="#111" stroke-opacity="0.45" stroke-width="1"/>
<circle cx="455.5" cy="849.8" r="1.9" fill="#fff"/>
<path d="M460.40 870.00L460.40 869.19L460.40 868.38L460.40 867.57L460.40 866.76L460.41 865.95L460.45 865.14L460.51 863.92L460.60 862.71L460.70 861.50L460.80 860.28L460.91 859.07L461.03 857.85L461.18 856.50L461.33 855.15L461.50 853.80L461.67 852.45L461.84 851.10L462.01 849.75L462.19 848.06L462.37 846.38L462.55 844.69L462.73 843.00L462.91 841.31L463.07 839.62L463.21 837.94L463.33 836.25L463.45 834.56L463.57 832.88L463.68 831.19L463.77 829.50L463.84 829.16L463.90 828.83L463.95 828.49L464.00 828.15L464.04 827.81L464.08 827.48L464.10 816.47L464.12 805.47L464.12 794.47L464.13 783.47L464.14 772.46L464.15 761.46L464.25 761.46L464.26 772.46L464.27 783.47L464.27 794.47L464.28 805.47L464.30 816.47L464.32 827.48L464.36 827.81L464.40 828.15L464.45 828.49L464.50 828.83L464.56 829.16L464.63 829.50L464.72 831.19L464.83 832.88L464.95 834.56L465.07 836.25L465.19 837.94L465.33 839.62L465.49 841.31L465.67 843.00L465.85 844.69L466.03 846.38L466.21 848.06L466.39 849.75L466.56 851.10L466.73 852.45L466.90 853.80L467.07 855.15L467.22 856.50L467.37 857.85L467.49 859.07L467.60 860.28L467.70 861.50L467.80 862.71L467.89 863.92L467.95 865.14L467.99 865.95L468.00 866.76L468.00 867.57L468.00 868.38L468.00 869.19L468.00 870.00Z" fill="#ee0000" stroke="#111" stroke-opacity="0.55" stroke-width="0.5" stroke-linejoin="round"/>
<path d="M464.2 870.0V761.5" stroke="#000" stroke-opacity="0.9" stroke-width="0.55"/>
<path d="M464.2 866.8V855.4" stroke="#111" stroke-opacity="0.45" stroke-width="1"/>
<circle cx="464.2" cy="862.7" r="1.9" fill="#fff"/>
<path d="M457.5 761.5H463.4" stroke="#222" stroke-width="0.9"/>
<text x="459.8" y="755.3" font-size="6.1" text-anchor="middle" fill="#111" stroke="#111" stroke-width="0.28">p=0.003</text>
<text transform="translate(487.4,884) rotate(-43)" font-size="7.3" text-anchor="end" fill="#111" stroke="#111" stroke-width="0.2">Dendritic cells resting</text>
<path d="M479.4 870.0L481.6 867.6L483.8 870.0M481.6 867.6V864.7" stroke="#0000ee" stroke-width="0.8" fill="none"/>
<path d="M488.1 870.0L490.3 866.9L492.5 870.0M490.3 866.9V863.1" stroke="#ee0000" stroke-width="0.8" fill="none"/>
<path d="M483.6 862.5H489.5" stroke="#222" stroke-width="0.9"/>
<text x="486.0" y="856.3" font-size="6.1" text-anchor="middle" fill="#111" stroke="#111" stroke-width="0.28">p=0.468</text>
<text transform="translate(513.5,884) rotate(-43)" font-size="7.3" text-anchor="end" fill="#111" stroke="#111" stroke-width="0.2">Dendritic cells activated</text>
<path d="M507.12 870.00L506.82 869.73L506.52 869.46L506.22 869.19L505.92 868.92L505.65 868.65L505.45 868.38L505.32 868.04L505.26 867.71L505.22 867.37L505.19 867.03L505.18 866.69L505.23 866.36L505.35 866.02L505.52 865.68L505.72 865.34L505.92 865.00L506.12 864.67L506.31 864.33L506.50 864.06L506.69 863.79L506.87 863.52L507.05 863.25L507.24 862.98L507.42 862.71L508.02 862.71L508.20 862.98L508.39 863.25L508.57 863.52L508.75 863.79L508.94 864.06L509.13 864.33L509.32 864.67L509.52 865.00L509.72 865.34L509.92 865.68L510.09 866.02L510.21 866.36L510.26 866.69L510.25 867.03L510.22 867.37L510.18 867.71L510.12 868.04L510.00 868.38L509.79 868.65L509.52 868.92L509.22 869.19L508.92 869.46L508.62 869.73L508.32 870.00Z" fill="#0000ee" stroke="#300" stroke-opacity="0.3" stroke-width="0.4"/>
<ellipse cx="507.7" cy="867.2" rx="1.7" ry="1.9" fill="#fff"/>
<path d="M515.82 870.00L515.55 869.80L515.29 869.60L515.02 869.39L514.76 869.19L514.52 868.99L514.33 868.78L514.22 868.51L514.16 868.25L514.12 867.98L514.09 867.71L514.09 867.43L514.15 867.16L514.29 866.89L514.49 866.62L514.72 866.36L514.95 866.09L515.17 865.82L515.37 865.54L515.52 865.41L515.65 865.27L515.77 865.14L515.89 865.00L516.00 864.87L516.12 864.74L516.72 864.74L516.84 864.87L516.95 865.00L517.07 865.14L517.19 865.27L517.32 865.41L517.47 865.54L517.67 865.82L517.89 866.09L518.12 866.36L518.35 866.62L518.55 866.89L518.70 867.16L518.75 867.43L518.75 867.71L518.72 867.98L518.68 868.25L518.62 868.51L518.51 868.78L518.32 868.99L518.08 869.19L517.82 869.39L517.55 869.60L517.29 869.80L517.02 870.00Z" fill="#ee0000" stroke="#300" stroke-opacity="0.3" stroke-width="0.4"/>
<ellipse cx="516.4" cy="868.0" rx="1.7" ry="1.9" fill="#fff"/>
<path d="M509.7 862.5H515.6" stroke="#222" stroke-width="0.9"/>
<text x="512.1" y="856.3" font-size="6.1" text-anchor="middle" fill="#111" stroke="#111" stroke-width="0.28">p=0.371</text>
<text transform="translate(539.6,884) rotate(-43)" font-size="7.3" text-anchor="end" fill="#111" stroke="#111" stroke-width="0.2">Mast cells resting</text>
<path d="M531.43 865.14L531.23 864.60L531.03 864.06L530.83 863.52L530.63 862.98L530.46 862.44L530.32 861.90L530.25 860.89L530.23 859.88L530.23 858.86L530.23 857.85L530.25 856.84L530.29 855.83L530.38 855.15L530.50 854.48L530.63 853.80L530.76 853.12L530.91 852.45L531.06 851.77L531.24 851.17L531.43 850.56L531.63 849.95L531.83 849.35L532.03 848.74L532.23 848.13L535.43 848.13L535.63 848.74L535.83 849.35L536.03 849.95L536.23 850.56L536.42 851.17L536.60 851.77L536.75 852.45L536.90 853.12L537.03 853.80L537.16 854.48L537.28 855.15L537.37 855.83L537.41 856.84L537.43 857.85L537.43 858.86L537.43 859.88L537.41 860.89L537.34 861.90L537.21 862.44L537.03 862.98L536.83 863.52L536.63 864.06L536.43 864.60L536.23 865.14Z" fill="#0000ee" stroke="#111" stroke-opacity="0.55" stroke-width="0.5" stroke-linejoin="round"/>
<path d="M533.8 865.1V848.1" stroke="#000" stroke-opacity="0.9" stroke-width="0.55"/>
<path d="M533.8 862.7V854.6" stroke="#111" stroke-opacity="0.45" stroke-width="1"/>
<circle cx="533.8" cy="858.7" r="1.9" fill="#fff"/>
<path d="M539.93 870.00L539.76 869.46L539.60 868.92L539.43 868.38L539.27 867.84L539.13 867.30L539.06 866.76L539.06 865.95L539.13 865.14L539.23 864.33L539.33 863.52L539.45 862.71L539.59 861.90L539.78 861.09L540.00 860.28L540.23 859.47L540.46 858.66L540.69 857.85L540.91 857.04L541.11 855.83L541.30 854.61L541.48 853.39L541.66 852.18L541.85 850.97L542.03 849.75L543.03 849.75L543.21 850.97L543.40 852.18L543.58 853.39L543.76 854.61L543.95 855.83L544.15 857.04L544.37 857.85L544.60 858.66L544.83 859.47L545.06 860.28L545.28 861.09L545.47 861.90L545.61 862.71L545.73 863.52L545.83 864.33L545.93 865.14L546.00 865.95L546.01 866.76L545.93 867.30L545.79 867.84L545.63 868.38L545.46 868.92L545.30 869.46L545.13 870.00Z" fill="#ee0000" stroke="#111" stroke-opacity="0.55" stroke-width="0.5" stroke-linejoin="round"/>
<path d="M542.5 870.0V849.8" stroke="#000" stroke-opacity="0.9" stroke-width="0.55"/>
<path d="M542.5 867.2V861.1" stroke="#111" stroke-opacity="0.45" stroke-width="1"/>
<circle cx="542.5" cy="864.7" r="1.9" fill="#fff"/>
<path d="M535.8 847.5H541.7" stroke="#222" stroke-width="0.9"/>
<text x="538.2" y="841.3" font-size="6.1" text-anchor="middle" fill="#111" stroke="#111" stroke-width="0.28">p=0.006</text>
<text transform="translate(565.7,884) rotate(-43)" font-size="7.3" text-anchor="end" fill="#111" stroke="#111" stroke-width="0.2">Mast cells activated</text>
<path d="M561.7 870.5H566.9" stroke="#333" stroke-width="1"/>
<text transform="translate(591.8,884) rotate(-43)" font-size="7.3" text-anchor="end" fill="#111" stroke="#111" stroke-width="0.2">Eosinophils</text>
<path d="M584.05 870.00L583.82 869.60L583.58 869.19L583.35 868.78L583.12 868.38L582.92 867.98L582.78 867.57L582.72 866.89L582.72 866.22L582.75 865.54L582.79 864.87L582.85 864.20L582.96 863.52L583.15 862.71L583.39 861.90L583.65 861.09L583.91 860.28L584.17 859.47L584.39 858.66L584.57 857.85L584.71 857.04L584.85 856.23L584.98 855.42L585.11 854.61L585.23 853.80L585.33 852.72L585.42 851.64L585.50 850.56L585.58 849.48L585.67 848.40L585.75 847.32L586.35 847.32L586.43 848.40L586.52 849.48L586.60 850.56L586.68 851.64L586.77 852.72L586.87 853.80L586.99 854.61L587.12 855.42L587.25 856.23L587.39 857.04L587.53 857.85L587.71 858.66L587.93 859.47L588.19 860.28L588.45 861.09L588.71 861.90L588.95 862.71L589.14 863.52L589.25 864.20L589.31 864.87L589.35 865.54L589.38 866.22L589.38 866.89L589.33 867.57L589.18 867.98L588.98 868.38L588.75 868.78L588.52 869.19L588.28 869.60L588.05 870.00Z" fill="#0000ee" stroke="#111" stroke-opacity="0.55" stroke-width="0.5" stroke-linejoin="round"/>
<path d="M586.1 870.0V847.3" stroke="#000" stroke-opacity="0.9" stroke-width="0.55"/>
<path d="M586.1 866.8V861.9" stroke="#111" stroke-opacity="0.45" stroke-width="1"/>
<circle cx="586.1" cy="864.7" r="1.9" fill="#fff"/>
<path d="M592.15 870.00L591.98 869.66L591.82 869.33L591.65 868.99L591.49 868.65L591.35 868.31L591.28 867.98L591.28 867.50L591.35 867.03L591.45 866.56L591.55 866.09L591.67 865.61L591.83 865.14L592.04 864.60L592.29 864.06L592.55 863.52L592.81 862.98L593.07 862.44L593.30 861.90L593.49 860.89L593.65 859.88L593.80 858.86L593.95 857.85L594.09 856.84L594.20 855.83L594.29 854.14L594.35 852.45L594.40 850.76L594.45 849.08L594.50 847.39L594.55 845.70L594.95 845.70L595.00 847.39L595.05 849.08L595.10 850.76L595.15 852.45L595.21 854.14L595.30 855.83L595.41 856.84L595.55 857.85L595.70 858.86L595.85 859.88L596.01 860.89L596.20 861.90L596.43 862.44L596.69 862.98L596.95 863.52L597.21 864.06L597.46 864.60L597.67 865.14L597.83 865.61L597.95 866.09L598.05 866.56L598.15 867.03L598.22 867.50L598.23 867.98L598.15 868.31L598.01 868.65L597.85 868.99L597.68 869.33L597.52 869.66L597.35 870.00Z" fill="#ee0000" stroke="#300" stroke-opacity="0.3" stroke-width="0.4"/>
<ellipse cx="594.8" cy="866.8" rx="1.7" ry="1.9" fill="#fff"/>
<path d="M588.1 845.5H594.0" stroke="#222" stroke-width="0.9"/>
<text x="590.4" y="839.3" font-size="6.1" text-anchor="middle" fill="#111" stroke="#111" stroke-width="0.28">p=0.004</text>
<text transform="translate(617.9,884) rotate(-43)" font-size="7.3" text-anchor="end" fill="#111" stroke="#111" stroke-width="0.2">Neutrophils</text>
<path d="M610.36 870.00L610.19 869.73L610.03 869.46L609.86 869.19L609.70 868.92L609.56 868.65L609.47 868.38L609.46 868.04L609.50 867.71L609.56 867.37L609.63 867.03L609.71 866.69L609.82 866.36L609.98 866.02L610.16 865.68L610.36 865.34L610.56 865.00L610.75 864.67L610.94 864.33L611.10 863.92L611.26 863.52L611.41 863.12L611.56 862.71L611.71 862.30L611.86 861.90L612.46 861.90L612.61 862.30L612.76 862.71L612.91 863.12L613.06 863.52L613.22 863.92L613.38 864.33L613.57 864.67L613.76 865.00L613.96 865.34L614.16 865.68L614.34 866.02L614.50 866.36L614.61 866.69L614.69 867.03L614.76 867.37L614.82 867.71L614.86 868.04L614.85 868.38L614.76 868.65L614.62 868.92L614.46 869.19L614.29 869.46L614.13 869.73L613.96 870.00Z" fill="#0000ee" stroke="#300" stroke-opacity="0.3" stroke-width="0.4"/>
<ellipse cx="612.2" cy="867.6" rx="1.7" ry="1.9" fill="#fff"/>
<path d="M618.46 870.00L618.63 869.80L618.79 869.60L618.96 869.39L619.13 869.19L619.28 868.99L619.43 868.78L619.55 868.51L619.66 868.25L619.76 867.98L619.86 867.71L619.96 867.43L620.05 867.16L620.14 866.76L620.23 866.36L620.31 865.95L620.39 865.54L620.48 865.14L620.56 864.74L621.16 864.74L621.24 865.14L621.33 865.54L621.41 865.95L621.49 866.36L621.58 866.76L621.67 867.16L621.76 867.43L621.86 867.71L621.96 867.98L622.06 868.25L622.17 868.51L622.29 868.78L622.44 868.99L622.59 869.19L622.76 869.39L622.93 869.60L623.09 869.80L623.26 870.00Z" fill="#ee0000" stroke="#111" stroke-opacity="0.55" stroke-width="0.5" stroke-linejoin="round"/>
<path d="M620.9 870.0V864.7" stroke="#000" stroke-opacity="0.9" stroke-width="0.55"/>
<path d="M620.9 870.0V868.4" stroke="#111" stroke-opacity="0.45" stroke-width="1"/>
<circle cx="620.9" cy="869.2" r="1.9" fill="#fff"/>
<path d="M614.2 861.5H620.1" stroke="#222" stroke-width="0.9"/>
<text x="616.5" y="855.3" font-size="6.1" text-anchor="middle" fill="#111" stroke="#111" stroke-width="0.28">p=0.026</text>
<text x="646" y="733.2" font-size="12" font-weight="bold" fill="#111">Group</text>
<circle cx="654.5" cy="750" r="1.6" fill="#0a3a9a"/><circle cx="654.5" cy="768.5" r="1.6" fill="#e8201a"/>
<text x="669.6" y="754.3" font-size="12" font-weight="bold" fill="#111">control</text>
<text x="669.6" y="772.8" font-size="12" font-weight="bold" fill="#111">MS</text>
</g>
<g id="pd" font-family="Liberation Sans, sans-serif">
<text x="0.2" y="986" font-size="21" font-weight="bold">d</text>
<text transform="translate(11.4,1115) rotate(-90)" font-size="12.4" font-weight="bold" text-anchor="middle" fill="#111">Immune cell proportion</text>
<rect x="37.2" y="987.3" width="62.7" height="250.8" fill="#fff"/>
<path d="M37.2 1190.4H99.9M37.2 1118.8H99.9M37.2 1047.2H99.9" stroke="#f2f2f2" stroke-width="0.5"/>
<path d="M37.2 1226.5H99.9M37.2 1154.6H99.9M37.2 1083.0H99.9M37.2 1011.4H99.9M53.7 987.3V1238M82.5 987.3V1238" stroke="#e6e6e6" stroke-width="0.7"/>
<rect x="37.2" y="977.8" width="62.7" height="9.5" fill="#d6d6d6" stroke="#bdbdbd" stroke-width="0.5"/>
<text x="68.5" y="984.6" font-size="5.75" font-weight="bold" text-anchor="middle" fill="#1a1a1a">Eosinophils</text>
<path d="M35.2 1226.5H37.2" stroke="#333" stroke-width="0.6"/>
<text x="34.2" y="1229.8" font-size="9.3" font-weight="bold" text-anchor="end" fill="#111">0.00</text>
<path d="M35.2 1154.6H37.2" stroke="#333" stroke-width="0.6"/>
<text x="34.2" y="1157.9" font-size="9.3" font-weight="bold" text-anchor="end" fill="#111">0.02</text>
<path d="M35.2 1083.0H37.2" stroke="#333" stroke-width="0.6"/>
<text x="34.2" y="1086.3" font-size="9.3" font-weight="bold" text-anchor="end" fill="#111">0.04</text>
<path d="M35.2 1011.4H37.2" stroke="#333" stroke-width="0.6"/>
<text x="34.2" y="1014.7" font-size="9.3" font-weight="bold" text-anchor="end" fill="#111">0.06</text>
<path d="M53.7 1107.1V1152.4M53.7 1189.0V1226.5M46.5 1107.1H60.9M46.5 1226.5H60.9" stroke="#2a2a2a" stroke-width="0.9" fill="none"/>
<rect x="42.8" y="1152.4" width="22.1" height="36.6" fill="none" stroke="#222" stroke-width="0.9"/>
<path d="M42.8 1180.3H64.9" stroke="#111" stroke-width="1.3"/>
<path d="M82.5 1159.4V1187.3M82.5 1210.8V1223.1M75.3 1159.4H89.7M75.3 1223.1H89.7" stroke="#2a2a2a" stroke-width="0.9" fill="none"/>
<rect x="71.3" y="1187.3" width="22.1" height="23.5" fill="none" stroke="#222" stroke-width="0.9"/>
<path d="M71.3 1202.2H93.4" stroke="#111" stroke-width="1.3"/>
<circle cx="50.3" cy="1025.9" r="1.3" fill="#08389c"/>
<circle cx="55.1" cy="1107.6" r="1.3" fill="#08389c"/>
<circle cx="56.5" cy="1144.3" r="1.3" fill="#08389c"/>
<circle cx="53.1" cy="1153.2" r="1.3" fill="#08389c"/>
<circle cx="51.2" cy="1159.4" r="1.3" fill="#08389c"/>
<circle cx="55.9" cy="1172.0" r="1.3" fill="#08389c"/>
<circle cx="54.5" cy="1179.8" r="1.3" fill="#08389c"/>
<circle cx="50.3" cy="1187.6" r="1.3" fill="#08389c"/>
<circle cx="55.1" cy="1184.0" r="1.3" fill="#08389c"/>
<circle cx="51.7" cy="1201.6" r="1.3" fill="#08389c"/>
<circle cx="55.9" cy="1200.2" r="1.3" fill="#08389c"/>
<circle cx="57.9" cy="1226.8" r="1.3" fill="#08389c"/>
<circle cx="53.7" cy="1182.6" r="1.3" fill="#08389c"/>
<circle cx="52.6" cy="1165.8" r="1.3" fill="#08389c"/>
<circle cx="57.1" cy="1191.0" r="1.3" fill="#08389c"/>
<path d="M85.6 1008.3l1.7 2.9h-3.4z" fill="#f01010"/>
<path d="M83.1 1147.3l1.7 2.9h-3.4z" fill="#f01010"/>
<path d="M86.7 1157.7l1.7 2.9h-3.4z" fill="#f01010"/>
<path d="M81.1 1175.3l1.7 2.9h-3.4z" fill="#f01010"/>
<path d="M85.3 1175.3l1.7 2.9h-3.4z" fill="#f01010"/>
<path d="M83.1 1185.1l1.7 2.9h-3.4z" fill="#f01010"/>
<path d="M78.3 1190.7l1.7 2.9h-3.4z" fill="#f01010"/>
<path d="M80.3 1192.6l1.7 2.9h-3.4z" fill="#f01010"/>
<path d="M85.3 1194.9l1.7 2.9h-3.4z" fill="#f01010"/>
<path d="M87.3 1196.3l1.7 2.9h-3.4z" fill="#f01010"/>
<path d="M79.2 1201.9l1.7 2.9h-3.4z" fill="#f01010"/>
<path d="M83.1 1203.3l1.7 2.9h-3.4z" fill="#f01010"/>
<path d="M81.1 1206.1l1.7 2.9h-3.4z" fill="#f01010"/>
<path d="M86.7 1206.1l1.7 2.9h-3.4z" fill="#f01010"/>
<path d="M83.9 1208.9l1.7 2.9h-3.4z" fill="#f01010"/>
<path d="M79.7 1212.5l1.7 2.9h-3.4z" fill="#f01010"/>
<path d="M83.1 1214.5l1.7 2.9h-3.4z" fill="#f01010"/>
<path d="M86.7 1211.7l1.7 2.9h-3.4z" fill="#f01010"/>
<path d="M82.0 1221.4l1.7 2.9h-3.4z" fill="#f01010"/>
<path d="M84.5 1189.3l1.7 2.9h-3.4z" fill="#f01010"/>
<path d="M80.6 1210.3l1.7 2.9h-3.4z" fill="#f01010"/>
<path d="M53.7 1005.8V999.5H82.5V1005.8" stroke="#333" stroke-width="1" fill="none"/>
<text x="68.1" y="996.2" font-size="8" font-weight="bold" text-anchor="middle" fill="#111">**</text>
<rect x="37.2" y="987.3" width="62.7" height="250.8" fill="none" stroke="#666" stroke-width="0.9"/>
<rect x="119.7" y="987.3" width="62.7" height="250.8" fill="#fff"/>
<path d="M119.7 1188.2H182.4M119.7 1106.8H182.4M119.7 1025.1H182.4" stroke="#f2f2f2" stroke-width="0.5"/>
<path d="M119.7 1228.7H182.4M119.7 1147.6H182.4M119.7 1065.9H182.4M137.1 987.3V1238M165.6 987.3V1238" stroke="#e6e6e6" stroke-width="0.7"/>
<rect x="119.7" y="977.8" width="62.7" height="9.5" fill="#d6d6d6" stroke="#bdbdbd" stroke-width="0.5"/>
<text x="151.0" y="984.6" font-size="5.75" font-weight="bold" text-anchor="middle" fill="#1a1a1a">Macrophages M2</text>
<path d="M117.7 1228.7H119.7" stroke="#333" stroke-width="0.6"/>
<text x="116.7" y="1232.0" font-size="9.3" font-weight="bold" text-anchor="end" fill="#111">0.0</text>
<path d="M117.7 1147.6H119.7" stroke="#333" stroke-width="0.6"/>
<text x="116.7" y="1150.9" font-size="9.3" font-weight="bold" text-anchor="end" fill="#111">0.1</text>
<path d="M117.7 1065.9H119.7" stroke="#333" stroke-width="0.6"/>
<text x="116.7" y="1069.2" font-size="9.3" font-weight="bold" text-anchor="end" fill="#111">0.2</text>
<path d="M137.1 1135.3V1171.4M137.1 1206.4V1223.4M129.9 1135.3H144.3M129.9 1223.4H144.3" stroke="#2a2a2a" stroke-width="0.9" fill="none"/>
<rect x="125.9" y="1171.4" width="21.8" height="35.0" fill="none" stroke="#222" stroke-width="0.9"/>
<path d="M125.9 1188.2H147.7" stroke="#111" stroke-width="1.3"/>
<path d="M165.6 1179.0V1200.2M165.6 1222.3V1226.8M158.4 1179.0H172.8M158.4 1226.8H172.8" stroke="#2a2a2a" stroke-width="0.9" fill="none"/>
<rect x="154.7" y="1200.2" width="22.1" height="22.1" fill="none" stroke="#222" stroke-width="0.9"/>
<path d="M154.7 1213.6H176.8" stroke="#111" stroke-width="1.3"/>
<circle cx="135.7" cy="1140.1" r="1.3" fill="#08389c"/>
<circle cx="135.7" cy="1154.6" r="1.3" fill="#08389c"/>
<circle cx="139.0" cy="1169.2" r="1.3" fill="#08389c"/>
<circle cx="132.9" cy="1175.0" r="1.3" fill="#08389c"/>
<circle cx="140.7" cy="1183.1" r="1.3" fill="#08389c"/>
<circle cx="137.1" cy="1185.4" r="1.3" fill="#08389c"/>
<circle cx="134.3" cy="1189.6" r="1.3" fill="#08389c"/>
<circle cx="139.9" cy="1189.6" r="1.3" fill="#08389c"/>
<circle cx="139.0" cy="1191.0" r="1.3" fill="#08389c"/>
<circle cx="140.7" cy="1198.8" r="1.3" fill="#08389c"/>
<circle cx="136.2" cy="1206.4" r="1.3" fill="#08389c"/>
<circle cx="135.1" cy="1209.2" r="1.3" fill="#08389c"/>
<circle cx="137.1" cy="1210.6" r="1.3" fill="#08389c"/>
<circle cx="136.2" cy="1223.1" r="1.3" fill="#08389c"/>
<circle cx="137.9" cy="1177.0" r="1.3" fill="#08389c"/>
<path d="M161.4 1008.3l1.7 2.9h-3.4z" fill="#f01010"/>
<path d="M163.6 1143.1l1.7 2.9h-3.4z" fill="#f01010"/>
<path d="M168.4 1164.1l1.7 2.9h-3.4z" fill="#f01010"/>
<path d="M167.8 1176.7l1.7 2.9h-3.4z" fill="#f01010"/>
<path d="M162.8 1189.8l1.7 2.9h-3.4z" fill="#f01010"/>
<path d="M169.8 1193.5l1.7 2.9h-3.4z" fill="#f01010"/>
<path d="M167.0 1197.7l1.7 2.9h-3.4z" fill="#f01010"/>
<path d="M167.8 1200.5l1.7 2.9h-3.4z" fill="#f01010"/>
<path d="M163.6 1203.3l1.7 2.9h-3.4z" fill="#f01010"/>
<path d="M165.0 1206.6l1.7 2.9h-3.4z" fill="#f01010"/>
<path d="M168.7 1208.0l1.7 2.9h-3.4z" fill="#f01010"/>
<path d="M162.2 1210.3l1.7 2.9h-3.4z" fill="#f01010"/>
<path d="M166.4 1211.7l1.7 2.9h-3.4z" fill="#f01010"/>
<path d="M165.0 1214.5l1.7 2.9h-3.4z" fill="#f01010"/>
<path d="M169.2 1218.1l1.7 2.9h-3.4z" fill="#f01010"/>
<path d="M162.2 1218.6l1.7 2.9h-3.4z" fill="#f01010"/>
<path d="M167.0 1220.0l1.7 2.9h-3.4z" fill="#f01010"/>
<path d="M169.8 1221.4l1.7 2.9h-3.4z" fill="#f01010"/>
<path d="M167.8 1222.8l1.7 2.9h-3.4z" fill="#f01010"/>
<path d="M170.6 1223.4l1.7 2.9h-3.4z" fill="#f01010"/>
<path d="M164.5 1222.3l1.7 2.9h-3.4z" fill="#f01010"/>
<path d="M166.2 1224.2l1.7 2.9h-3.4z" fill="#f01010"/>
<path d="M137.1 1005.8V999.5H165.6V1005.8" stroke="#333" stroke-width="1" fill="none"/>
<text x="151.3" y="996.2" font-size="8" font-weight="bold" text-anchor="middle" fill="#111">**</text>
<rect x="119.7" y="987.3" width="62.7" height="250.8" fill="none" stroke="#666" stroke-width="0.9"/>
<rect x="207.4" y="987.3" width="63.5" height="250.8" fill="#fff"/>
<path d="M207.4 1190.4H270.9M207.4 1111.0H270.9M207.4 1031.5H270.9" stroke="#f2f2f2" stroke-width="0.5"/>
<path d="M207.4 1230.1H270.9M207.4 1150.7H270.9M207.4 1071.3H270.9M207.4 991.8H270.9M224.8 987.3V1238M253.6 987.3V1238" stroke="#e6e6e6" stroke-width="0.7"/>
<rect x="207.4" y="977.8" width="63.5" height="9.5" fill="#d6d6d6" stroke="#bdbdbd" stroke-width="0.5"/>
<text x="239.2" y="984.6" font-size="5.75" font-weight="bold" text-anchor="middle" fill="#1a1a1a">Mast cells resting</text>
<path d="M205.4 1230.1H207.4" stroke="#333" stroke-width="0.6"/>
<text x="204.4" y="1233.4" font-size="9.3" font-weight="bold" text-anchor="end" fill="#111">0.00</text>
<path d="M205.4 1150.7H207.4" stroke="#333" stroke-width="0.6"/>
<text x="204.4" y="1154.0" font-size="9.3" font-weight="bold" text-anchor="end" fill="#111">0.02</text>
<path d="M205.4 1071.3H207.4" stroke="#333" stroke-width="0.6"/>
<text x="204.4" y="1074.6" font-size="9.3" font-weight="bold" text-anchor="end" fill="#111">0.04</text>
<path d="M205.4 991.8H207.4" stroke="#333" stroke-width="0.6"/>
<text x="204.4" y="995.1" font-size="9.3" font-weight="bold" text-anchor="end" fill="#111">0.06</text>
<path d="M224.8 1010.6V1081.6M224.8 1172.8V1200.2M217.6 1010.6H232.0M217.6 1200.2H232.0" stroke="#2a2a2a" stroke-width="0.9" fill="none"/>
<rect x="213.8" y="1081.6" width="21.8" height="91.2" fill="none" stroke="#222" stroke-width="0.9"/>
<path d="M213.8 1118.8H235.7" stroke="#111" stroke-width="1.3"/>
<path d="M253.6 1088.9V1141.5M253.6 1199.9V1226.8M246.4 1088.9H260.8M246.4 1226.8H260.8" stroke="#2a2a2a" stroke-width="0.9" fill="none"/>
<rect x="242.4" y="1141.5" width="22.1" height="58.5" fill="none" stroke="#222" stroke-width="0.9"/>
<path d="M242.4 1176.4H264.5" stroke="#111" stroke-width="1.3"/>
<circle cx="222.5" cy="1010.6" r="1.3" fill="#08389c"/>
<circle cx="227.6" cy="1043.6" r="1.3" fill="#08389c"/>
<circle cx="223.9" cy="1053.9" r="1.3" fill="#08389c"/>
<circle cx="221.1" cy="1074.9" r="1.3" fill="#08389c"/>
<circle cx="229.0" cy="1077.7" r="1.3" fill="#08389c"/>
<circle cx="228.1" cy="1093.6" r="1.3" fill="#08389c"/>
<circle cx="227.0" cy="1099.2" r="1.3" fill="#08389c"/>
<circle cx="228.1" cy="1109.9" r="1.3" fill="#08389c"/>
<circle cx="229.0" cy="1111.8" r="1.3" fill="#08389c"/>
<circle cx="223.4" cy="1125.2" r="1.3" fill="#08389c"/>
<circle cx="229.0" cy="1137.0" r="1.3" fill="#08389c"/>
<circle cx="225.3" cy="1138.4" r="1.3" fill="#08389c"/>
<circle cx="222.0" cy="1169.2" r="1.3" fill="#08389c"/>
<circle cx="226.2" cy="1174.2" r="1.3" fill="#08389c"/>
<circle cx="223.9" cy="1178.4" r="1.3" fill="#08389c"/>
<circle cx="229.0" cy="1183.4" r="1.3" fill="#08389c"/>
<circle cx="223.4" cy="1185.7" r="1.3" fill="#08389c"/>
<circle cx="223.9" cy="1200.2" r="1.3" fill="#08389c"/>
<path d="M249.9 1025.6l1.7 2.9h-3.4z" fill="#f01010"/>
<path d="M254.1 1087.2l1.7 2.9h-3.4z" fill="#f01010"/>
<path d="M254.1 1099.8l1.7 2.9h-3.4z" fill="#f01010"/>
<path d="M253.6 1112.9l1.7 2.9h-3.4z" fill="#f01010"/>
<path d="M256.9 1119.3l1.7 2.9h-3.4z" fill="#f01010"/>
<path d="M251.9 1122.1l1.7 2.9h-3.4z" fill="#f01010"/>
<path d="M251.9 1137.0l1.7 2.9h-3.4z" fill="#f01010"/>
<path d="M251.3 1145.9l1.7 2.9h-3.4z" fill="#f01010"/>
<path d="M257.5 1145.9l1.7 2.9h-3.4z" fill="#f01010"/>
<path d="M254.1 1157.1l1.7 2.9h-3.4z" fill="#f01010"/>
<path d="M256.1 1158.5l1.7 2.9h-3.4z" fill="#f01010"/>
<path d="M256.9 1159.9l1.7 2.9h-3.4z" fill="#f01010"/>
<path d="M250.5 1175.3l1.7 2.9h-3.4z" fill="#f01010"/>
<path d="M253.3 1173.9l1.7 2.9h-3.4z" fill="#f01010"/>
<path d="M256.9 1175.9l1.7 2.9h-3.4z" fill="#f01010"/>
<path d="M251.9 1185.9l1.7 2.9h-3.4z" fill="#f01010"/>
<path d="M254.7 1185.9l1.7 2.9h-3.4z" fill="#f01010"/>
<path d="M250.5 1192.9l1.7 2.9h-3.4z" fill="#f01010"/>
<path d="M254.1 1194.9l1.7 2.9h-3.4z" fill="#f01010"/>
<path d="M249.9 1201.9l1.7 2.9h-3.4z" fill="#f01010"/>
<path d="M253.6 1205.5l1.7 2.9h-3.4z" fill="#f01010"/>
<path d="M249.9 1214.5l1.7 2.9h-3.4z" fill="#f01010"/>
<path d="M254.1 1216.7l1.7 2.9h-3.4z" fill="#f01010"/>
<path d="M255.5 1217.3l1.7 2.9h-3.4z" fill="#f01010"/>
<path d="M254.1 1224.2l1.7 2.9h-3.4z" fill="#f01010"/>
<path d="M224.8 1005.8V999.5H253.6V1005.8" stroke="#333" stroke-width="1" fill="none"/>
<text x="239.2" y="996.2" font-size="8" font-weight="bold" text-anchor="middle" fill="#111">**</text>
<rect x="207.4" y="987.3" width="63.5" height="250.8" fill="none" stroke="#666" stroke-width="0.9"/>
<rect x="295.5" y="987.3" width="63.5" height="250.8" fill="#fff"/>
<path d="M295.5 1198.8H359.0M295.5 1143.4H359.0M295.5 1087.8H359.0M295.5 1032.1H359.0" stroke="#f2f2f2" stroke-width="0.5"/>
<path d="M295.5 1226.8H359.0M295.5 1171.1H359.0M295.5 1115.5H359.0M295.5 1060.1H359.0M295.5 1004.4H359.0M312.9 987.3V1238M341.7 987.3V1238" stroke="#e6e6e6" stroke-width="0.7"/>
<rect x="295.5" y="977.8" width="63.5" height="9.5" fill="#d6d6d6" stroke="#bdbdbd" stroke-width="0.5"/>
<text x="327.3" y="984.6" font-size="5.75" font-weight="bold" text-anchor="middle" fill="#1a1a1a">Monocytes</text>
<path d="M293.5 1226.8H295.5" stroke="#333" stroke-width="0.6"/>
<text x="292.5" y="1230.1" font-size="9.3" font-weight="bold" text-anchor="end" fill="#111">0.00</text>
<path d="M293.5 1171.1H295.5" stroke="#333" stroke-width="0.6"/>
<text x="292.5" y="1174.4" font-size="9.3" font-weight="bold" text-anchor="end" fill="#111">0.02</text>
<path d="M293.5 1115.5H295.5" stroke="#333" stroke-width="0.6"/>
<text x="292.5" y="1118.8" font-size="9.3" font-weight="bold" text-anchor="end" fill="#111">0.04</text>
<path d="M293.5 1060.1H295.5" stroke="#333" stroke-width="0.6"/>
<text x="292.5" y="1063.4" font-size="9.3" font-weight="bold" text-anchor="end" fill="#111">0.06</text>
<path d="M293.5 1004.4H295.5" stroke="#333" stroke-width="0.6"/>
<text x="292.5" y="1007.7" font-size="9.3" font-weight="bold" text-anchor="end" fill="#111">0.08</text>
<path d="M312.9 1124.7V1160.2M312.9 1226.8V1226.8M305.7 1124.7H320.1M305.7 1226.8H320.1" stroke="#2a2a2a" stroke-width="0.9" fill="none"/>
<rect x="302.0" y="1160.2" width="21.8" height="66.6" fill="none" stroke="#222" stroke-width="0.9"/>
<path d="M302.0 1195.7H323.8" stroke="#111" stroke-width="1.3"/>
<path d="M341.7 1226.5V1226.5M341.7 1226.8V1226.8M334.5 1226.5H348.9M334.5 1226.8H348.9" stroke="#2a2a2a" stroke-width="0.9" fill="none"/>
<rect x="331.0" y="1226.5" width="21.5" height="0.6" fill="none" stroke="#222" stroke-width="0.9"/>
<path d="M331.0 1226.8H352.6" stroke="#111" stroke-width="1.3"/>
<circle cx="310.3" cy="1010.6" r="1.3" fill="#08389c"/>
<circle cx="310.9" cy="1044.4" r="1.3" fill="#08389c"/>
<circle cx="314.8" cy="1124.7" r="1.3" fill="#08389c"/>
<circle cx="309.2" cy="1128.6" r="1.3" fill="#08389c"/>
<circle cx="310.1" cy="1160.2" r="1.3" fill="#08389c"/>
<circle cx="308.7" cy="1165.0" r="1.3" fill="#08389c"/>
<circle cx="312.0" cy="1166.6" r="1.3" fill="#08389c"/>
<circle cx="313.1" cy="1173.6" r="1.3" fill="#08389c"/>
<circle cx="315.7" cy="1218.4" r="1.3" fill="#08389c"/>
<circle cx="309.2" cy="1226.8" r="1.3" fill="#08389c"/>
<circle cx="312.9" cy="1226.8" r="1.3" fill="#08389c"/>
<circle cx="316.2" cy="1226.8" r="1.3" fill="#08389c"/>
<path d="M343.6 1207.7l1.7 2.9h-3.4z" fill="#f01010"/>
<path d="M342.8 1216.7l1.7 2.9h-3.4z" fill="#f01010"/>
<path d="M338.0 1224.2l1.7 2.9h-3.4z" fill="#f01010"/>
<path d="M340.0 1224.2l1.7 2.9h-3.4z" fill="#f01010"/>
<path d="M342.2 1224.2l1.7 2.9h-3.4z" fill="#f01010"/>
<path d="M344.5 1224.2l1.7 2.9h-3.4z" fill="#f01010"/>
<path d="M346.4 1224.2l1.7 2.9h-3.4z" fill="#f01010"/>
<path d="M341.1 1223.4l1.7 2.9h-3.4z" fill="#f01010"/>
<path d="M345.0 1223.4l1.7 2.9h-3.4z" fill="#f01010"/>
<path d="M339.2 1224.5l1.7 2.9h-3.4z" fill="#f01010"/>
<path d="M343.4 1224.5l1.7 2.9h-3.4z" fill="#f01010"/>
<path d="M347.8 1224.5l1.7 2.9h-3.4z" fill="#f01010"/>
<path d="M312.9 1005.8V999.5H341.7V1005.8" stroke="#333" stroke-width="1" fill="none"/>
<text x="327.3" y="996.2" font-size="8" font-weight="bold" text-anchor="middle" fill="#111">***</text>
<rect x="295.5" y="987.3" width="63.5" height="250.8" fill="none" stroke="#666" stroke-width="0.9"/>
<rect x="388.8" y="987.3" width="63.5" height="250.8" fill="#fff"/>
<path d="M388.8 1200.2H452.3M388.8 1147.1H452.3M388.8 1093.6H452.3M388.8 1040.5H452.3" stroke="#f2f2f2" stroke-width="0.5"/>
<path d="M388.8 1226.8H452.3M388.8 1173.6H452.3M388.8 1120.5H452.3M388.8 1067.1H452.3M388.8 1013.9H452.3M406.2 987.3V1238M435.0 987.3V1238" stroke="#e6e6e6" stroke-width="0.7"/>
<rect x="388.8" y="977.8" width="63.5" height="9.5" fill="#d6d6d6" stroke="#bdbdbd" stroke-width="0.5"/>
<text x="420.6" y="984.6" font-size="5.75" font-weight="bold" text-anchor="middle" fill="#1a1a1a">Neutrophils</text>
<path d="M386.8 1226.8H388.8" stroke="#333" stroke-width="0.6"/>
<text x="385.8" y="1230.1" font-size="9.3" font-weight="bold" text-anchor="end" fill="#111">0.000</text>
<path d="M386.8 1173.6H388.8" stroke="#333" stroke-width="0.6"/>
<text x="385.8" y="1176.9" font-size="9.3" font-weight="bold" text-anchor="end" fill="#111">0.005</text>
<path d="M386.8 1120.5H388.8" stroke="#333" stroke-width="0.6"/>
<text x="385.8" y="1123.8" font-size="9.3" font-weight="bold" text-anchor="end" fill="#111">0.010</text>
<path d="M386.8 1067.1H388.8" stroke="#333" stroke-width="0.6"/>
<text x="385.8" y="1070.4" font-size="9.3" font-weight="bold" text-anchor="end" fill="#111">0.015</text>
<path d="M386.8 1013.9H388.8" stroke="#333" stroke-width="0.6"/>
<text x="385.8" y="1017.2" font-size="9.3" font-weight="bold" text-anchor="end" fill="#111">0.020</text>
<path d="M406.2 1010.6V1108.5M406.2 1211.4V1226.8M399.0 1010.6H413.4M399.0 1226.8H413.4" stroke="#2a2a2a" stroke-width="0.9" fill="none"/>
<rect x="395.2" y="1108.5" width="21.8" height="102.9" fill="none" stroke="#222" stroke-width="0.9"/>
<path d="M395.2 1161.0H417.1" stroke="#111" stroke-width="1.3"/>
<path d="M435.0 1091.1V1168.6M435.0 1226.8V1226.8M427.8 1091.1H442.2M427.8 1226.8H442.2" stroke="#2a2a2a" stroke-width="0.9" fill="none"/>
<rect x="424.1" y="1168.6" width="21.8" height="58.2" fill="none" stroke="#222" stroke-width="0.9"/>
<path d="M424.1 1209.7H445.9" stroke="#111" stroke-width="1.3"/>
<circle cx="403.9" cy="1010.6" r="1.3" fill="#08389c"/>
<circle cx="404.8" cy="1050.6" r="1.3" fill="#08389c"/>
<circle cx="408.4" cy="1062.3" r="1.3" fill="#08389c"/>
<circle cx="402.8" cy="1089.4" r="1.3" fill="#08389c"/>
<circle cx="407.0" cy="1094.8" r="1.3" fill="#08389c"/>
<circle cx="407.0" cy="1150.4" r="1.3" fill="#08389c"/>
<circle cx="403.9" cy="1156.9" r="1.3" fill="#08389c"/>
<circle cx="409.5" cy="1159.4" r="1.3" fill="#08389c"/>
<circle cx="404.8" cy="1161.6" r="1.3" fill="#08389c"/>
<circle cx="403.4" cy="1185.4" r="1.3" fill="#08389c"/>
<circle cx="404.8" cy="1210.6" r="1.3" fill="#08389c"/>
<circle cx="402.0" cy="1216.2" r="1.3" fill="#08389c"/>
<circle cx="402.0" cy="1218.4" r="1.3" fill="#08389c"/>
<circle cx="403.4" cy="1226.8" r="1.3" fill="#08389c"/>
<circle cx="409.0" cy="1226.8" r="1.3" fill="#08389c"/>
<circle cx="405.6" cy="1163.0" r="1.3" fill="#08389c"/>
<path d="M438.3 1089.1l1.7 2.9h-3.4z" fill="#f01010"/>
<path d="M432.7 1106.2l1.7 2.9h-3.4z" fill="#f01010"/>
<path d="M438.3 1123.5l1.7 2.9h-3.4z" fill="#f01010"/>
<path d="M435.0 1133.9l1.7 2.9h-3.4z" fill="#f01010"/>
<path d="M438.9 1143.7l1.7 2.9h-3.4z" fill="#f01010"/>
<path d="M436.4 1159.9l1.7 2.9h-3.4z" fill="#f01010"/>
<path d="M430.5 1164.7l1.7 2.9h-3.4z" fill="#f01010"/>
<path d="M431.3 1171.9l1.7 2.9h-3.4z" fill="#f01010"/>
<path d="M435.0 1185.1l1.7 2.9h-3.4z" fill="#f01010"/>
<path d="M437.8 1196.3l1.7 2.9h-3.4z" fill="#f01010"/>
<path d="M433.6 1199.9l1.7 2.9h-3.4z" fill="#f01010"/>
<path d="M435.5 1207.5l1.7 2.9h-3.4z" fill="#f01010"/>
<path d="M439.7 1211.1l1.7 2.9h-3.4z" fill="#f01010"/>
<path d="M435.0 1216.7l1.7 2.9h-3.4z" fill="#f01010"/>
<path d="M431.3 1224.2l1.7 2.9h-3.4z" fill="#f01010"/>
<path d="M433.3 1224.2l1.7 2.9h-3.4z" fill="#f01010"/>
<path d="M435.5 1224.2l1.7 2.9h-3.4z" fill="#f01010"/>
<path d="M437.8 1224.2l1.7 2.9h-3.4z" fill="#f01010"/>
<path d="M434.1 1221.4l1.7 2.9h-3.4z" fill="#f01010"/>
<path d="M436.1 1218.6l1.7 2.9h-3.4z" fill="#f01010"/>
<path d="M439.4 1224.2l1.7 2.9h-3.4z" fill="#f01010"/>
<path d="M406.2 1005.8V999.5H435.0V1005.8" stroke="#333" stroke-width="1" fill="none"/>
<text x="420.6" y="996.2" font-size="8" font-weight="bold" text-anchor="middle" fill="#111">*</text>
<rect x="388.8" y="987.3" width="63.5" height="250.8" fill="none" stroke="#666" stroke-width="0.9"/>
<rect x="476.9" y="987.3" width="62.9" height="250.8" fill="#fff"/>
<path d="M476.9 1195.2H539.9M476.9 1131.7H539.9M476.9 1068.2H539.9M476.9 1005.0H539.9" stroke="#f2f2f2" stroke-width="0.5"/>
<path d="M476.9 1226.8H539.9M476.9 1163.3H539.9M476.9 1100.1H539.9M476.9 1036.6H539.9M494.3 987.3V1238M523.1 987.3V1238" stroke="#e6e6e6" stroke-width="0.7"/>
<rect x="476.9" y="977.8" width="62.9" height="9.5" fill="#d6d6d6" stroke="#bdbdbd" stroke-width="0.5"/>
<text x="508.4" y="984.6" font-size="5.75" font-weight="bold" text-anchor="middle" fill="#1a1a1a">NK cells activated</text>
<path d="M474.9 1226.8H476.9" stroke="#333" stroke-width="0.6"/>
<text x="473.9" y="1230.1" font-size="9.3" font-weight="bold" text-anchor="end" fill="#111">0.00</text>
<path d="M474.9 1163.3H476.9" stroke="#333" stroke-width="0.6"/>
<text x="473.9" y="1166.6" font-size="9.3" font-weight="bold" text-anchor="end" fill="#111">0.02</text>
<path d="M474.9 1100.1H476.9" stroke="#333" stroke-width="0.6"/>
<text x="473.9" y="1103.4" font-size="9.3" font-weight="bold" text-anchor="end" fill="#111">0.04</text>
<path d="M474.9 1036.6H476.9" stroke="#333" stroke-width="0.6"/>
<text x="473.9" y="1039.9" font-size="9.3" font-weight="bold" text-anchor="end" fill="#111">0.06</text>
<path d="M494.3 1115.5V1154.3M494.3 1226.5V1226.8M487.1 1115.5H501.5M487.1 1226.8H501.5" stroke="#2a2a2a" stroke-width="0.9" fill="none"/>
<rect x="483.4" y="1154.3" width="21.8" height="72.2" fill="none" stroke="#222" stroke-width="0.9"/>
<path d="M483.4 1192.1H505.2" stroke="#111" stroke-width="1.3"/>
<path d="M523.1 1223.4V1224.8M523.1 1226.8V1226.8M515.9 1223.4H530.3M515.9 1226.8H530.3" stroke="#2a2a2a" stroke-width="0.9" fill="none"/>
<rect x="512.2" y="1224.8" width="21.8" height="2.0" fill="none" stroke="#222" stroke-width="0.9"/>
<path d="M512.2 1225.9H534.0" stroke="#111" stroke-width="1.3"/>
<circle cx="493.7" cy="1010.6" r="1.3" fill="#08389c"/>
<circle cx="492.9" cy="1115.5" r="1.3" fill="#08389c"/>
<circle cx="494.3" cy="1129.4" r="1.3" fill="#08389c"/>
<circle cx="493.4" cy="1133.1" r="1.3" fill="#08389c"/>
<circle cx="496.2" cy="1151.8" r="1.3" fill="#08389c"/>
<circle cx="494.3" cy="1161.9" r="1.3" fill="#08389c"/>
<circle cx="492.0" cy="1169.2" r="1.3" fill="#08389c"/>
<circle cx="492.9" cy="1175.0" r="1.3" fill="#08389c"/>
<circle cx="490.9" cy="1184.8" r="1.3" fill="#08389c"/>
<circle cx="492.0" cy="1199.4" r="1.3" fill="#08389c"/>
<circle cx="494.8" cy="1206.4" r="1.3" fill="#08389c"/>
<circle cx="493.7" cy="1207.2" r="1.3" fill="#08389c"/>
<circle cx="490.6" cy="1224.5" r="1.3" fill="#08389c"/>
<circle cx="491.5" cy="1226.8" r="1.3" fill="#08389c"/>
<circle cx="494.8" cy="1226.8" r="1.3" fill="#08389c"/>
<circle cx="497.6" cy="1226.8" r="1.3" fill="#08389c"/>
<path d="M525.6 1208.3l1.7 2.9h-3.4z" fill="#f01010"/>
<path d="M521.4 1217.3l1.7 2.9h-3.4z" fill="#f01010"/>
<path d="M526.4 1219.2l1.7 2.9h-3.4z" fill="#f01010"/>
<path d="M519.4 1221.4l1.7 2.9h-3.4z" fill="#f01010"/>
<path d="M523.6 1221.4l1.7 2.9h-3.4z" fill="#f01010"/>
<path d="M518.0 1223.4l1.7 2.9h-3.4z" fill="#f01010"/>
<path d="M520.8 1223.4l1.7 2.9h-3.4z" fill="#f01010"/>
<path d="M525.0 1223.4l1.7 2.9h-3.4z" fill="#f01010"/>
<path d="M527.8 1223.4l1.7 2.9h-3.4z" fill="#f01010"/>
<path d="M522.2 1224.2l1.7 2.9h-3.4z" fill="#f01010"/>
<path d="M520.0 1222.3l1.7 2.9h-3.4z" fill="#f01010"/>
<path d="M524.5 1222.3l1.7 2.9h-3.4z" fill="#f01010"/>
<path d="M526.7 1224.0l1.7 2.9h-3.4z" fill="#f01010"/>
<path d="M518.9 1224.5l1.7 2.9h-3.4z" fill="#f01010"/>
<path d="M523.1 1222.8l1.7 2.9h-3.4z" fill="#f01010"/>
<path d="M494.3 1005.8V999.5H523.1V1005.8" stroke="#333" stroke-width="1" fill="none"/>
<text x="508.7" y="996.2" font-size="8" font-weight="bold" text-anchor="middle" fill="#111">***</text>
<rect x="476.9" y="987.3" width="62.9" height="250.8" fill="none" stroke="#666" stroke-width="0.9"/>
<rect x="570.4" y="987.3" width="63.5" height="250.8" fill="#fff"/>
<path d="M570.4 1197.1H633.9M570.4 1138.4H633.9M570.4 1079.4H633.9M570.4 1020.3H633.9" stroke="#f2f2f2" stroke-width="0.5"/>
<path d="M570.4 1226.8H633.9M570.4 1167.8H633.9M570.4 1108.7H633.9M570.4 1050.0H633.9M570.4 991.0H633.9M587.7 987.3V1238M616.5 987.3V1238" stroke="#e6e6e6" stroke-width="0.7"/>
<rect x="570.4" y="977.8" width="63.5" height="9.5" fill="#d6d6d6" stroke="#bdbdbd" stroke-width="0.5"/>
<text x="602.1" y="984.6" font-size="5.75" font-weight="bold" text-anchor="middle" fill="#1a1a1a">Plasma cells</text>
<path d="M568.4 1226.8H570.4" stroke="#333" stroke-width="0.6"/>
<text x="567.4" y="1230.1" font-size="9.3" font-weight="bold" text-anchor="end" fill="#111">0.000</text>
<path d="M568.4 1167.8H570.4" stroke="#333" stroke-width="0.6"/>
<text x="567.4" y="1171.1" font-size="9.3" font-weight="bold" text-anchor="end" fill="#111">0.025</text>
<path d="M568.4 1108.7H570.4" stroke="#333" stroke-width="0.6"/>
<text x="567.4" y="1112.0" font-size="9.3" font-weight="bold" text-anchor="end" fill="#111">0.050</text>
<path d="M568.4 1050.0H570.4" stroke="#333" stroke-width="0.6"/>
<text x="567.4" y="1053.3" font-size="9.3" font-weight="bold" text-anchor="end" fill="#111">0.075</text>
<path d="M568.4 991.0H570.4" stroke="#333" stroke-width="0.6"/>
<text x="567.4" y="994.3" font-size="9.3" font-weight="bold" text-anchor="end" fill="#111">0.100</text>
<path d="M587.7 1212.2V1220.3M587.7 1225.9V1226.8M580.5 1212.2H594.9M580.5 1226.8H594.9" stroke="#2a2a2a" stroke-width="0.9" fill="none"/>
<rect x="576.8" y="1220.3" width="21.8" height="5.6" fill="none" stroke="#222" stroke-width="0.9"/>
<path d="M576.8 1223.7H598.6" stroke="#111" stroke-width="1.3"/>
<path d="M616.5 1051.7V1133.1M616.5 1202.2V1223.1M609.3 1051.7H623.7M609.3 1223.1H623.7" stroke="#2a2a2a" stroke-width="0.9" fill="none"/>
<rect x="605.3" y="1133.1" width="22.1" height="69.1" fill="none" stroke="#222" stroke-width="0.9"/>
<path d="M605.3 1158.3H627.4" stroke="#111" stroke-width="1.3"/>
<circle cx="584.1" cy="1204.4" r="1.3" fill="#08389c"/>
<circle cx="585.8" cy="1206.4" r="1.3" fill="#08389c"/>
<circle cx="590.0" cy="1212.8" r="1.3" fill="#08389c"/>
<circle cx="584.9" cy="1220.3" r="1.3" fill="#08389c"/>
<circle cx="589.1" cy="1221.7" r="1.3" fill="#08389c"/>
<circle cx="583.5" cy="1223.1" r="1.3" fill="#08389c"/>
<circle cx="587.2" cy="1224.0" r="1.3" fill="#08389c"/>
<circle cx="590.5" cy="1224.5" r="1.3" fill="#08389c"/>
<circle cx="584.4" cy="1225.9" r="1.3" fill="#08389c"/>
<circle cx="586.3" cy="1226.8" r="1.3" fill="#08389c"/>
<circle cx="590.0" cy="1226.8" r="1.3" fill="#08389c"/>
<path d="M612.9 1008.3l1.7 2.9h-3.4z" fill="#f01010"/>
<path d="M614.3 1050.0l1.7 2.9h-3.4z" fill="#f01010"/>
<path d="M617.9 1055.9l1.7 2.9h-3.4z" fill="#f01010"/>
<path d="M614.3 1118.0l1.7 2.9h-3.4z" fill="#f01010"/>
<path d="M619.9 1118.0l1.7 2.9h-3.4z" fill="#f01010"/>
<path d="M614.3 1120.7l1.7 2.9h-3.4z" fill="#f01010"/>
<path d="M619.1 1130.0l1.7 2.9h-3.4z" fill="#f01010"/>
<path d="M617.9 1132.8l1.7 2.9h-3.4z" fill="#f01010"/>
<path d="M614.9 1138.4l1.7 2.9h-3.4z" fill="#f01010"/>
<path d="M617.1 1143.1l1.7 2.9h-3.4z" fill="#f01010"/>
<path d="M619.1 1147.3l1.7 2.9h-3.4z" fill="#f01010"/>
<path d="M617.9 1150.7l1.7 2.9h-3.4z" fill="#f01010"/>
<path d="M612.9 1152.9l1.7 2.9h-3.4z" fill="#f01010"/>
<path d="M612.1 1153.8l1.7 2.9h-3.4z" fill="#f01010"/>
<path d="M619.3 1158.5l1.7 2.9h-3.4z" fill="#f01010"/>
<path d="M614.3 1160.7l1.7 2.9h-3.4z" fill="#f01010"/>
<path d="M616.5 1172.5l1.7 2.9h-3.4z" fill="#f01010"/>
<path d="M617.1 1173.9l1.7 2.9h-3.4z" fill="#f01010"/>
<path d="M619.3 1177.5l1.7 2.9h-3.4z" fill="#f01010"/>
<path d="M619.9 1184.2l1.7 2.9h-3.4z" fill="#f01010"/>
<path d="M615.7 1206.1l1.7 2.9h-3.4z" fill="#f01010"/>
<path d="M613.7 1214.5l1.7 2.9h-3.4z" fill="#f01010"/>
<path d="M612.1 1215.9l1.7 2.9h-3.4z" fill="#f01010"/>
<path d="M617.9 1213.1l1.7 2.9h-3.4z" fill="#f01010"/>
<path d="M618.5 1214.5l1.7 2.9h-3.4z" fill="#f01010"/>
<path d="M617.9 1221.4l1.7 2.9h-3.4z" fill="#f01010"/>
<path d="M587.7 1005.8V999.5H616.5V1005.8" stroke="#333" stroke-width="1" fill="none"/>
<text x="602.1" y="996.2" font-size="8" font-weight="bold" text-anchor="middle" fill="#111">***</text>
<rect x="570.4" y="987.3" width="63.5" height="250.8" fill="none" stroke="#666" stroke-width="0.9"/>
<text x="644.2" y="1096.6" font-size="12" font-weight="bold" fill="#111">Group</text>
<circle cx="652" cy="1114" r="1.6" fill="#08389c"/><circle cx="652" cy="1131.4" r="1.6" fill="#f01010"/>
<text x="668.2" y="1118.3" font-size="12" font-weight="bold" fill="#111">control</text>
<text x="668.2" y="1135.7" font-size="12" font-weight="bold" fill="#111">MS</text>
</g>
</svg>
</body></html>
